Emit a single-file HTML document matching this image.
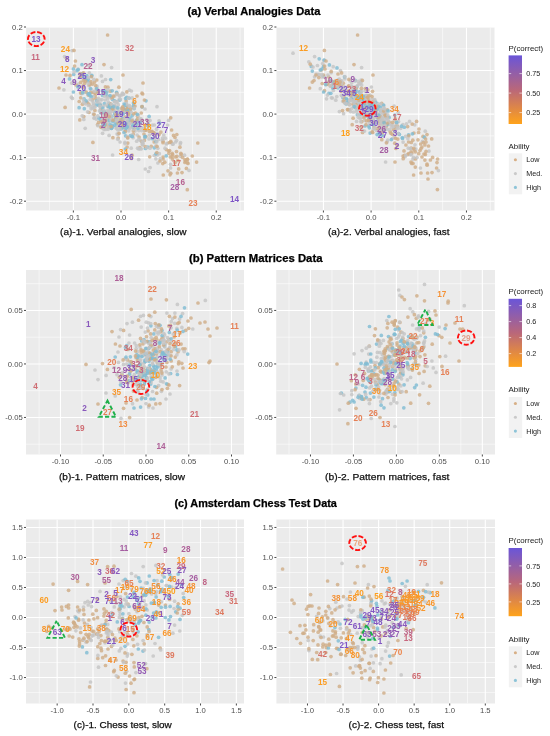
<!DOCTYPE html>
<html><head><meta charset="utf-8"><style>
html,body{margin:0;padding:0;background:#fff;width:550px;height:736px;overflow:hidden}
svg{display:block}
.tk{font-family:"Liberation Sans", Arial, sans-serif;font-size:7.7px;fill:#4D4D4D}
.lg{font-family:"Liberation Sans", Arial, sans-serif;font-size:7.2px;fill:#1a1a1a}
.lgt{font-family:"Liberation Sans", Arial, sans-serif;font-size:7.9px;fill:#1a1a1a}
.ttl{font-family:"Liberation Sans", Arial, sans-serif;font-size:10.4px;font-weight:bold;fill:#000;stroke:#000;stroke-width:0.25px}
.cap{font-family:"Liberation Sans", Arial, sans-serif;font-size:9.6px;fill:#111;stroke:#111;stroke-width:0.25px}
.nl{font-family:"Liberation Sans", Arial, sans-serif;font-size:8.2px;font-weight:bold;text-anchor:middle}
</style></head><body>
<svg width="550" height="736" viewBox="0 0 550 736">
<defs>
<clipPath id="clipa1"><rect x="26" y="27.5" width="218" height="183.0"/></clipPath>
<clipPath id="clipa2"><rect x="276.4" y="27.5" width="218.10000000000002" height="183.0"/></clipPath>
<clipPath id="clipb1"><rect x="26" y="270" width="218" height="184.5"/></clipPath>
<clipPath id="clipb2"><rect x="276.2" y="270" width="218.8" height="184.5"/></clipPath>
<clipPath id="clipc1"><rect x="26" y="519.5" width="218" height="184.0"/></clipPath>
<clipPath id="clipc2"><rect x="276.4" y="519.5" width="218.60000000000002" height="184.0"/></clipPath>
<linearGradient id="grad" x1="0" y1="1" x2="0" y2="0"><stop offset="0" stop-color="#FFA31A"/><stop offset="0.5" stop-color="#B9677A"/><stop offset="1" stop-color="#6A55D8"/></linearGradient>
</defs>
<rect width="550" height="736" fill="#fff"/>
<rect x="26" y="27.5" width="218" height="183.0" fill="#EBEBEB"/>
<g clip-path="url(#clipa1)">
<line x1="1.92" y1="27.5" x2="1.92" y2="210.5" stroke="#fff" stroke-width="0.55"/>
<line x1="25.74" y1="27.5" x2="25.74" y2="210.5" stroke="#fff" stroke-width="0.55"/>
<line x1="49.55" y1="27.5" x2="49.55" y2="210.5" stroke="#fff" stroke-width="0.55"/>
<line x1="97.19" y1="27.5" x2="97.19" y2="210.5" stroke="#fff" stroke-width="0.55"/>
<line x1="144.81" y1="27.5" x2="144.81" y2="210.5" stroke="#fff" stroke-width="0.55"/>
<line x1="192.44" y1="27.5" x2="192.44" y2="210.5" stroke="#fff" stroke-width="0.55"/>
<line x1="240.07" y1="27.5" x2="240.07" y2="210.5" stroke="#fff" stroke-width="0.55"/>
<line x1="26" y1="244.75" x2="244" y2="244.75" stroke="#fff" stroke-width="0.55"/>
<line x1="26" y1="222.97" x2="244" y2="222.97" stroke="#fff" stroke-width="0.55"/>
<line x1="26" y1="179.43" x2="244" y2="179.43" stroke="#fff" stroke-width="0.55"/>
<line x1="26" y1="135.88" x2="244" y2="135.88" stroke="#fff" stroke-width="0.55"/>
<line x1="26" y1="92.32" x2="244" y2="92.32" stroke="#fff" stroke-width="0.55"/>
<line x1="26" y1="48.77" x2="244" y2="48.77" stroke="#fff" stroke-width="0.55"/>
<line x1="73.37" y1="27.5" x2="73.37" y2="210.5" stroke="#fff" stroke-width="1.1"/>
<line x1="121.00" y1="27.5" x2="121.00" y2="210.5" stroke="#fff" stroke-width="1.1"/>
<line x1="168.63" y1="27.5" x2="168.63" y2="210.5" stroke="#fff" stroke-width="1.1"/>
<line x1="216.26" y1="27.5" x2="216.26" y2="210.5" stroke="#fff" stroke-width="1.1"/>
<line x1="26" y1="201.20" x2="244" y2="201.20" stroke="#fff" stroke-width="1.1"/>
<line x1="26" y1="157.65" x2="244" y2="157.65" stroke="#fff" stroke-width="1.1"/>
<line x1="26" y1="114.10" x2="244" y2="114.10" stroke="#fff" stroke-width="1.1"/>
<line x1="26" y1="70.55" x2="244" y2="70.55" stroke="#fff" stroke-width="1.1"/>
<line x1="26" y1="27.00" x2="244" y2="27.00" stroke="#fff" stroke-width="1.1"/>
</g>
<line x1="73.37" y1="210.5" x2="73.37" y2="212.5" stroke="#333" stroke-width="0.9"/>
<text x="73.37" y="219.8" text-anchor="middle" class="tk">-0.1</text>
<line x1="121.00" y1="210.5" x2="121.00" y2="212.5" stroke="#333" stroke-width="0.9"/>
<text x="121.00" y="219.8" text-anchor="middle" class="tk">0.0</text>
<line x1="168.63" y1="210.5" x2="168.63" y2="212.5" stroke="#333" stroke-width="0.9"/>
<text x="168.63" y="219.8" text-anchor="middle" class="tk">0.1</text>
<line x1="216.26" y1="210.5" x2="216.26" y2="212.5" stroke="#333" stroke-width="0.9"/>
<text x="216.26" y="219.8" text-anchor="middle" class="tk">0.2</text>
<line x1="24" y1="201.20" x2="26" y2="201.20" stroke="#333" stroke-width="0.9"/>
<text x="22.7" y="203.95" text-anchor="end" class="tk">-0.2</text>
<line x1="24" y1="157.65" x2="26" y2="157.65" stroke="#333" stroke-width="0.9"/>
<text x="22.7" y="160.40" text-anchor="end" class="tk">-0.1</text>
<line x1="24" y1="114.10" x2="26" y2="114.10" stroke="#333" stroke-width="0.9"/>
<text x="22.7" y="116.85" text-anchor="end" class="tk">0.0</text>
<line x1="24" y1="70.55" x2="26" y2="70.55" stroke="#333" stroke-width="0.9"/>
<text x="22.7" y="73.30" text-anchor="end" class="tk">0.1</text>
<line x1="24" y1="27.00" x2="26" y2="27.00" stroke="#333" stroke-width="0.9"/>
<text x="22.7" y="29.75" text-anchor="end" class="tk">0.2</text>
<rect x="276.4" y="27.5" width="218.10000000000002" height="183.0" fill="#EBEBEB"/>
<g clip-path="url(#clipa2)">
<line x1="251.90" y1="27.5" x2="251.90" y2="210.5" stroke="#fff" stroke-width="0.55"/>
<line x1="275.74" y1="27.5" x2="275.74" y2="210.5" stroke="#fff" stroke-width="0.55"/>
<line x1="299.58" y1="27.5" x2="299.58" y2="210.5" stroke="#fff" stroke-width="0.55"/>
<line x1="347.26" y1="27.5" x2="347.26" y2="210.5" stroke="#fff" stroke-width="0.55"/>
<line x1="394.94" y1="27.5" x2="394.94" y2="210.5" stroke="#fff" stroke-width="0.55"/>
<line x1="442.62" y1="27.5" x2="442.62" y2="210.5" stroke="#fff" stroke-width="0.55"/>
<line x1="490.30" y1="27.5" x2="490.30" y2="210.5" stroke="#fff" stroke-width="0.55"/>
<line x1="276.4" y1="244.75" x2="494.5" y2="244.75" stroke="#fff" stroke-width="0.55"/>
<line x1="276.4" y1="222.97" x2="494.5" y2="222.97" stroke="#fff" stroke-width="0.55"/>
<line x1="276.4" y1="179.43" x2="494.5" y2="179.43" stroke="#fff" stroke-width="0.55"/>
<line x1="276.4" y1="135.88" x2="494.5" y2="135.88" stroke="#fff" stroke-width="0.55"/>
<line x1="276.4" y1="92.32" x2="494.5" y2="92.32" stroke="#fff" stroke-width="0.55"/>
<line x1="276.4" y1="48.77" x2="494.5" y2="48.77" stroke="#fff" stroke-width="0.55"/>
<line x1="323.42" y1="27.5" x2="323.42" y2="210.5" stroke="#fff" stroke-width="1.1"/>
<line x1="371.10" y1="27.5" x2="371.10" y2="210.5" stroke="#fff" stroke-width="1.1"/>
<line x1="418.78" y1="27.5" x2="418.78" y2="210.5" stroke="#fff" stroke-width="1.1"/>
<line x1="466.46" y1="27.5" x2="466.46" y2="210.5" stroke="#fff" stroke-width="1.1"/>
<line x1="276.4" y1="201.20" x2="494.5" y2="201.20" stroke="#fff" stroke-width="1.1"/>
<line x1="276.4" y1="157.65" x2="494.5" y2="157.65" stroke="#fff" stroke-width="1.1"/>
<line x1="276.4" y1="114.10" x2="494.5" y2="114.10" stroke="#fff" stroke-width="1.1"/>
<line x1="276.4" y1="70.55" x2="494.5" y2="70.55" stroke="#fff" stroke-width="1.1"/>
<line x1="276.4" y1="27.00" x2="494.5" y2="27.00" stroke="#fff" stroke-width="1.1"/>
</g>
<line x1="323.42" y1="210.5" x2="323.42" y2="212.5" stroke="#333" stroke-width="0.9"/>
<text x="323.42" y="219.8" text-anchor="middle" class="tk">-0.1</text>
<line x1="371.10" y1="210.5" x2="371.10" y2="212.5" stroke="#333" stroke-width="0.9"/>
<text x="371.10" y="219.8" text-anchor="middle" class="tk">0.0</text>
<line x1="418.78" y1="210.5" x2="418.78" y2="212.5" stroke="#333" stroke-width="0.9"/>
<text x="418.78" y="219.8" text-anchor="middle" class="tk">0.1</text>
<line x1="466.46" y1="210.5" x2="466.46" y2="212.5" stroke="#333" stroke-width="0.9"/>
<text x="466.46" y="219.8" text-anchor="middle" class="tk">0.2</text>
<line x1="274.4" y1="201.20" x2="276.4" y2="201.20" stroke="#333" stroke-width="0.9"/>
<text x="273.09999999999997" y="203.95" text-anchor="end" class="tk">-0.2</text>
<line x1="274.4" y1="157.65" x2="276.4" y2="157.65" stroke="#333" stroke-width="0.9"/>
<text x="273.09999999999997" y="160.40" text-anchor="end" class="tk">-0.1</text>
<line x1="274.4" y1="114.10" x2="276.4" y2="114.10" stroke="#333" stroke-width="0.9"/>
<text x="273.09999999999997" y="116.85" text-anchor="end" class="tk">0.0</text>
<line x1="274.4" y1="70.55" x2="276.4" y2="70.55" stroke="#333" stroke-width="0.9"/>
<text x="273.09999999999997" y="73.30" text-anchor="end" class="tk">0.1</text>
<line x1="274.4" y1="27.00" x2="276.4" y2="27.00" stroke="#333" stroke-width="0.9"/>
<text x="273.09999999999997" y="29.75" text-anchor="end" class="tk">0.2</text>
<rect x="26" y="270" width="218" height="184.5" fill="#EBEBEB"/>
<g clip-path="url(#clipb1)">
<line x1="-3.63" y1="270" x2="-3.63" y2="454.5" stroke="#fff" stroke-width="0.55"/>
<line x1="17.75" y1="270" x2="17.75" y2="454.5" stroke="#fff" stroke-width="0.55"/>
<line x1="39.12" y1="270" x2="39.12" y2="454.5" stroke="#fff" stroke-width="0.55"/>
<line x1="81.87" y1="270" x2="81.87" y2="454.5" stroke="#fff" stroke-width="0.55"/>
<line x1="124.62" y1="270" x2="124.62" y2="454.5" stroke="#fff" stroke-width="0.55"/>
<line x1="167.38" y1="270" x2="167.38" y2="454.5" stroke="#fff" stroke-width="0.55"/>
<line x1="210.12" y1="270" x2="210.12" y2="454.5" stroke="#fff" stroke-width="0.55"/>
<line x1="26" y1="497.70" x2="244" y2="497.70" stroke="#fff" stroke-width="0.55"/>
<line x1="26" y1="470.95" x2="244" y2="470.95" stroke="#fff" stroke-width="0.55"/>
<line x1="26" y1="444.20" x2="244" y2="444.20" stroke="#fff" stroke-width="0.55"/>
<line x1="26" y1="390.70" x2="244" y2="390.70" stroke="#fff" stroke-width="0.55"/>
<line x1="26" y1="337.20" x2="244" y2="337.20" stroke="#fff" stroke-width="0.55"/>
<line x1="26" y1="283.70" x2="244" y2="283.70" stroke="#fff" stroke-width="0.55"/>
<line x1="60.50" y1="270" x2="60.50" y2="454.5" stroke="#fff" stroke-width="1.1"/>
<line x1="103.25" y1="270" x2="103.25" y2="454.5" stroke="#fff" stroke-width="1.1"/>
<line x1="146.00" y1="270" x2="146.00" y2="454.5" stroke="#fff" stroke-width="1.1"/>
<line x1="188.75" y1="270" x2="188.75" y2="454.5" stroke="#fff" stroke-width="1.1"/>
<line x1="231.50" y1="270" x2="231.50" y2="454.5" stroke="#fff" stroke-width="1.1"/>
<line x1="26" y1="417.45" x2="244" y2="417.45" stroke="#fff" stroke-width="1.1"/>
<line x1="26" y1="363.95" x2="244" y2="363.95" stroke="#fff" stroke-width="1.1"/>
<line x1="26" y1="310.45" x2="244" y2="310.45" stroke="#fff" stroke-width="1.1"/>
</g>
<line x1="60.50" y1="454.5" x2="60.50" y2="456.5" stroke="#333" stroke-width="0.9"/>
<text x="60.50" y="463.8" text-anchor="middle" class="tk">-0.10</text>
<line x1="103.25" y1="454.5" x2="103.25" y2="456.5" stroke="#333" stroke-width="0.9"/>
<text x="103.25" y="463.8" text-anchor="middle" class="tk">-0.05</text>
<line x1="146.00" y1="454.5" x2="146.00" y2="456.5" stroke="#333" stroke-width="0.9"/>
<text x="146.00" y="463.8" text-anchor="middle" class="tk">0.00</text>
<line x1="188.75" y1="454.5" x2="188.75" y2="456.5" stroke="#333" stroke-width="0.9"/>
<text x="188.75" y="463.8" text-anchor="middle" class="tk">0.05</text>
<line x1="231.50" y1="454.5" x2="231.50" y2="456.5" stroke="#333" stroke-width="0.9"/>
<text x="231.50" y="463.8" text-anchor="middle" class="tk">0.10</text>
<line x1="24" y1="417.45" x2="26" y2="417.45" stroke="#333" stroke-width="0.9"/>
<text x="22.7" y="420.20" text-anchor="end" class="tk">-0.05</text>
<line x1="24" y1="363.95" x2="26" y2="363.95" stroke="#333" stroke-width="0.9"/>
<text x="22.7" y="366.70" text-anchor="end" class="tk">0.00</text>
<line x1="24" y1="310.45" x2="26" y2="310.45" stroke="#333" stroke-width="0.9"/>
<text x="22.7" y="313.20" text-anchor="end" class="tk">0.05</text>
<rect x="276.2" y="270" width="218.8" height="184.5" fill="#EBEBEB"/>
<g clip-path="url(#clipb2)">
<line x1="246.02" y1="270" x2="246.02" y2="454.5" stroke="#fff" stroke-width="0.55"/>
<line x1="267.50" y1="270" x2="267.50" y2="454.5" stroke="#fff" stroke-width="0.55"/>
<line x1="288.99" y1="270" x2="288.99" y2="454.5" stroke="#fff" stroke-width="0.55"/>
<line x1="331.95" y1="270" x2="331.95" y2="454.5" stroke="#fff" stroke-width="0.55"/>
<line x1="374.92" y1="270" x2="374.92" y2="454.5" stroke="#fff" stroke-width="0.55"/>
<line x1="417.88" y1="270" x2="417.88" y2="454.5" stroke="#fff" stroke-width="0.55"/>
<line x1="460.85" y1="270" x2="460.85" y2="454.5" stroke="#fff" stroke-width="0.55"/>
<line x1="276.2" y1="497.70" x2="495" y2="497.70" stroke="#fff" stroke-width="0.55"/>
<line x1="276.2" y1="470.95" x2="495" y2="470.95" stroke="#fff" stroke-width="0.55"/>
<line x1="276.2" y1="444.20" x2="495" y2="444.20" stroke="#fff" stroke-width="0.55"/>
<line x1="276.2" y1="390.70" x2="495" y2="390.70" stroke="#fff" stroke-width="0.55"/>
<line x1="276.2" y1="337.20" x2="495" y2="337.20" stroke="#fff" stroke-width="0.55"/>
<line x1="276.2" y1="283.70" x2="495" y2="283.70" stroke="#fff" stroke-width="0.55"/>
<line x1="310.47" y1="270" x2="310.47" y2="454.5" stroke="#fff" stroke-width="1.1"/>
<line x1="353.43" y1="270" x2="353.43" y2="454.5" stroke="#fff" stroke-width="1.1"/>
<line x1="396.40" y1="270" x2="396.40" y2="454.5" stroke="#fff" stroke-width="1.1"/>
<line x1="439.37" y1="270" x2="439.37" y2="454.5" stroke="#fff" stroke-width="1.1"/>
<line x1="482.33" y1="270" x2="482.33" y2="454.5" stroke="#fff" stroke-width="1.1"/>
<line x1="276.2" y1="417.45" x2="495" y2="417.45" stroke="#fff" stroke-width="1.1"/>
<line x1="276.2" y1="363.95" x2="495" y2="363.95" stroke="#fff" stroke-width="1.1"/>
<line x1="276.2" y1="310.45" x2="495" y2="310.45" stroke="#fff" stroke-width="1.1"/>
</g>
<line x1="310.47" y1="454.5" x2="310.47" y2="456.5" stroke="#333" stroke-width="0.9"/>
<text x="310.47" y="463.8" text-anchor="middle" class="tk">-0.10</text>
<line x1="353.43" y1="454.5" x2="353.43" y2="456.5" stroke="#333" stroke-width="0.9"/>
<text x="353.43" y="463.8" text-anchor="middle" class="tk">-0.05</text>
<line x1="396.40" y1="454.5" x2="396.40" y2="456.5" stroke="#333" stroke-width="0.9"/>
<text x="396.40" y="463.8" text-anchor="middle" class="tk">0.00</text>
<line x1="439.37" y1="454.5" x2="439.37" y2="456.5" stroke="#333" stroke-width="0.9"/>
<text x="439.37" y="463.8" text-anchor="middle" class="tk">0.05</text>
<line x1="482.33" y1="454.5" x2="482.33" y2="456.5" stroke="#333" stroke-width="0.9"/>
<text x="482.33" y="463.8" text-anchor="middle" class="tk">0.10</text>
<line x1="274.2" y1="417.45" x2="276.2" y2="417.45" stroke="#333" stroke-width="0.9"/>
<text x="272.9" y="420.20" text-anchor="end" class="tk">-0.05</text>
<line x1="274.2" y1="363.95" x2="276.2" y2="363.95" stroke="#333" stroke-width="0.9"/>
<text x="272.9" y="366.70" text-anchor="end" class="tk">0.00</text>
<line x1="274.2" y1="310.45" x2="276.2" y2="310.45" stroke="#333" stroke-width="0.9"/>
<text x="272.9" y="313.20" text-anchor="end" class="tk">0.05</text>
<rect x="26" y="519.5" width="218" height="184.0" fill="#EBEBEB"/>
<g clip-path="url(#clipc1)">
<line x1="3.40" y1="519.5" x2="3.40" y2="703.5" stroke="#fff" stroke-width="0.55"/>
<line x1="21.32" y1="519.5" x2="21.32" y2="703.5" stroke="#fff" stroke-width="0.55"/>
<line x1="39.24" y1="519.5" x2="39.24" y2="703.5" stroke="#fff" stroke-width="0.55"/>
<line x1="75.08" y1="519.5" x2="75.08" y2="703.5" stroke="#fff" stroke-width="0.55"/>
<line x1="110.92" y1="519.5" x2="110.92" y2="703.5" stroke="#fff" stroke-width="0.55"/>
<line x1="146.76" y1="519.5" x2="146.76" y2="703.5" stroke="#fff" stroke-width="0.55"/>
<line x1="182.60" y1="519.5" x2="182.60" y2="703.5" stroke="#fff" stroke-width="0.55"/>
<line x1="218.44" y1="519.5" x2="218.44" y2="703.5" stroke="#fff" stroke-width="0.55"/>
<line x1="26" y1="722.57" x2="244" y2="722.57" stroke="#fff" stroke-width="0.55"/>
<line x1="26" y1="707.56" x2="244" y2="707.56" stroke="#fff" stroke-width="0.55"/>
<line x1="26" y1="692.55" x2="244" y2="692.55" stroke="#fff" stroke-width="0.55"/>
<line x1="26" y1="662.53" x2="244" y2="662.53" stroke="#fff" stroke-width="0.55"/>
<line x1="26" y1="632.51" x2="244" y2="632.51" stroke="#fff" stroke-width="0.55"/>
<line x1="26" y1="602.49" x2="244" y2="602.49" stroke="#fff" stroke-width="0.55"/>
<line x1="26" y1="572.47" x2="244" y2="572.47" stroke="#fff" stroke-width="0.55"/>
<line x1="26" y1="542.45" x2="244" y2="542.45" stroke="#fff" stroke-width="0.55"/>
<line x1="57.16" y1="519.5" x2="57.16" y2="703.5" stroke="#fff" stroke-width="1.1"/>
<line x1="93.00" y1="519.5" x2="93.00" y2="703.5" stroke="#fff" stroke-width="1.1"/>
<line x1="128.84" y1="519.5" x2="128.84" y2="703.5" stroke="#fff" stroke-width="1.1"/>
<line x1="164.68" y1="519.5" x2="164.68" y2="703.5" stroke="#fff" stroke-width="1.1"/>
<line x1="200.52" y1="519.5" x2="200.52" y2="703.5" stroke="#fff" stroke-width="1.1"/>
<line x1="236.36" y1="519.5" x2="236.36" y2="703.5" stroke="#fff" stroke-width="1.1"/>
<line x1="26" y1="677.54" x2="244" y2="677.54" stroke="#fff" stroke-width="1.1"/>
<line x1="26" y1="647.52" x2="244" y2="647.52" stroke="#fff" stroke-width="1.1"/>
<line x1="26" y1="617.50" x2="244" y2="617.50" stroke="#fff" stroke-width="1.1"/>
<line x1="26" y1="587.48" x2="244" y2="587.48" stroke="#fff" stroke-width="1.1"/>
<line x1="26" y1="557.46" x2="244" y2="557.46" stroke="#fff" stroke-width="1.1"/>
<line x1="26" y1="527.44" x2="244" y2="527.44" stroke="#fff" stroke-width="1.1"/>
</g>
<line x1="57.16" y1="703.5" x2="57.16" y2="705.5" stroke="#333" stroke-width="0.9"/>
<text x="57.16" y="712.8" text-anchor="middle" class="tk">-1.0</text>
<line x1="93.00" y1="703.5" x2="93.00" y2="705.5" stroke="#333" stroke-width="0.9"/>
<text x="93.00" y="712.8" text-anchor="middle" class="tk">-0.5</text>
<line x1="128.84" y1="703.5" x2="128.84" y2="705.5" stroke="#333" stroke-width="0.9"/>
<text x="128.84" y="712.8" text-anchor="middle" class="tk">0.0</text>
<line x1="164.68" y1="703.5" x2="164.68" y2="705.5" stroke="#333" stroke-width="0.9"/>
<text x="164.68" y="712.8" text-anchor="middle" class="tk">0.5</text>
<line x1="200.52" y1="703.5" x2="200.52" y2="705.5" stroke="#333" stroke-width="0.9"/>
<text x="200.52" y="712.8" text-anchor="middle" class="tk">1.0</text>
<line x1="236.36" y1="703.5" x2="236.36" y2="705.5" stroke="#333" stroke-width="0.9"/>
<text x="236.36" y="712.8" text-anchor="middle" class="tk">1.5</text>
<line x1="24" y1="677.54" x2="26" y2="677.54" stroke="#333" stroke-width="0.9"/>
<text x="22.7" y="680.29" text-anchor="end" class="tk">-1.0</text>
<line x1="24" y1="647.52" x2="26" y2="647.52" stroke="#333" stroke-width="0.9"/>
<text x="22.7" y="650.27" text-anchor="end" class="tk">-0.5</text>
<line x1="24" y1="617.50" x2="26" y2="617.50" stroke="#333" stroke-width="0.9"/>
<text x="22.7" y="620.25" text-anchor="end" class="tk">0.0</text>
<line x1="24" y1="587.48" x2="26" y2="587.48" stroke="#333" stroke-width="0.9"/>
<text x="22.7" y="590.23" text-anchor="end" class="tk">0.5</text>
<line x1="24" y1="557.46" x2="26" y2="557.46" stroke="#333" stroke-width="0.9"/>
<text x="22.7" y="560.21" text-anchor="end" class="tk">1.0</text>
<line x1="24" y1="527.44" x2="26" y2="527.44" stroke="#333" stroke-width="0.9"/>
<text x="22.7" y="530.19" text-anchor="end" class="tk">1.5</text>
<rect x="276.4" y="519.5" width="218.60000000000002" height="184.0" fill="#EBEBEB"/>
<g clip-path="url(#clipc2)">
<line x1="254.12" y1="519.5" x2="254.12" y2="703.5" stroke="#fff" stroke-width="0.55"/>
<line x1="271.91" y1="519.5" x2="271.91" y2="703.5" stroke="#fff" stroke-width="0.55"/>
<line x1="289.69" y1="519.5" x2="289.69" y2="703.5" stroke="#fff" stroke-width="0.55"/>
<line x1="325.25" y1="519.5" x2="325.25" y2="703.5" stroke="#fff" stroke-width="0.55"/>
<line x1="360.82" y1="519.5" x2="360.82" y2="703.5" stroke="#fff" stroke-width="0.55"/>
<line x1="396.38" y1="519.5" x2="396.38" y2="703.5" stroke="#fff" stroke-width="0.55"/>
<line x1="431.95" y1="519.5" x2="431.95" y2="703.5" stroke="#fff" stroke-width="0.55"/>
<line x1="467.51" y1="519.5" x2="467.51" y2="703.5" stroke="#fff" stroke-width="0.55"/>
<line x1="276.4" y1="722.57" x2="495" y2="722.57" stroke="#fff" stroke-width="0.55"/>
<line x1="276.4" y1="707.56" x2="495" y2="707.56" stroke="#fff" stroke-width="0.55"/>
<line x1="276.4" y1="692.55" x2="495" y2="692.55" stroke="#fff" stroke-width="0.55"/>
<line x1="276.4" y1="662.53" x2="495" y2="662.53" stroke="#fff" stroke-width="0.55"/>
<line x1="276.4" y1="632.51" x2="495" y2="632.51" stroke="#fff" stroke-width="0.55"/>
<line x1="276.4" y1="602.49" x2="495" y2="602.49" stroke="#fff" stroke-width="0.55"/>
<line x1="276.4" y1="572.47" x2="495" y2="572.47" stroke="#fff" stroke-width="0.55"/>
<line x1="276.4" y1="542.45" x2="495" y2="542.45" stroke="#fff" stroke-width="0.55"/>
<line x1="307.47" y1="519.5" x2="307.47" y2="703.5" stroke="#fff" stroke-width="1.1"/>
<line x1="343.04" y1="519.5" x2="343.04" y2="703.5" stroke="#fff" stroke-width="1.1"/>
<line x1="378.60" y1="519.5" x2="378.60" y2="703.5" stroke="#fff" stroke-width="1.1"/>
<line x1="414.17" y1="519.5" x2="414.17" y2="703.5" stroke="#fff" stroke-width="1.1"/>
<line x1="449.73" y1="519.5" x2="449.73" y2="703.5" stroke="#fff" stroke-width="1.1"/>
<line x1="485.30" y1="519.5" x2="485.30" y2="703.5" stroke="#fff" stroke-width="1.1"/>
<line x1="276.4" y1="677.54" x2="495" y2="677.54" stroke="#fff" stroke-width="1.1"/>
<line x1="276.4" y1="647.52" x2="495" y2="647.52" stroke="#fff" stroke-width="1.1"/>
<line x1="276.4" y1="617.50" x2="495" y2="617.50" stroke="#fff" stroke-width="1.1"/>
<line x1="276.4" y1="587.48" x2="495" y2="587.48" stroke="#fff" stroke-width="1.1"/>
<line x1="276.4" y1="557.46" x2="495" y2="557.46" stroke="#fff" stroke-width="1.1"/>
<line x1="276.4" y1="527.44" x2="495" y2="527.44" stroke="#fff" stroke-width="1.1"/>
</g>
<line x1="307.47" y1="703.5" x2="307.47" y2="705.5" stroke="#333" stroke-width="0.9"/>
<text x="307.47" y="712.8" text-anchor="middle" class="tk">-1.0</text>
<line x1="343.04" y1="703.5" x2="343.04" y2="705.5" stroke="#333" stroke-width="0.9"/>
<text x="343.04" y="712.8" text-anchor="middle" class="tk">-0.5</text>
<line x1="378.60" y1="703.5" x2="378.60" y2="705.5" stroke="#333" stroke-width="0.9"/>
<text x="378.60" y="712.8" text-anchor="middle" class="tk">0.0</text>
<line x1="414.17" y1="703.5" x2="414.17" y2="705.5" stroke="#333" stroke-width="0.9"/>
<text x="414.17" y="712.8" text-anchor="middle" class="tk">0.5</text>
<line x1="449.73" y1="703.5" x2="449.73" y2="705.5" stroke="#333" stroke-width="0.9"/>
<text x="449.73" y="712.8" text-anchor="middle" class="tk">1.0</text>
<line x1="485.30" y1="703.5" x2="485.30" y2="705.5" stroke="#333" stroke-width="0.9"/>
<text x="485.30" y="712.8" text-anchor="middle" class="tk">1.5</text>
<line x1="274.4" y1="677.54" x2="276.4" y2="677.54" stroke="#333" stroke-width="0.9"/>
<text x="273.09999999999997" y="680.29" text-anchor="end" class="tk">-1.0</text>
<line x1="274.4" y1="647.52" x2="276.4" y2="647.52" stroke="#333" stroke-width="0.9"/>
<text x="273.09999999999997" y="650.27" text-anchor="end" class="tk">-0.5</text>
<line x1="274.4" y1="617.50" x2="276.4" y2="617.50" stroke="#333" stroke-width="0.9"/>
<text x="273.09999999999997" y="620.25" text-anchor="end" class="tk">0.0</text>
<line x1="274.4" y1="587.48" x2="276.4" y2="587.48" stroke="#333" stroke-width="0.9"/>
<text x="273.09999999999997" y="590.23" text-anchor="end" class="tk">0.5</text>
<line x1="274.4" y1="557.46" x2="276.4" y2="557.46" stroke="#333" stroke-width="0.9"/>
<text x="273.09999999999997" y="560.21" text-anchor="end" class="tk">1.0</text>
<line x1="274.4" y1="527.44" x2="276.4" y2="527.44" stroke="#333" stroke-width="0.9"/>
<text x="273.09999999999997" y="530.19" text-anchor="end" class="tk">1.5</text>
<text x="187.6" y="15.2" class="ttl" textLength="132.79999999999998" lengthAdjust="spacingAndGlyphs">(a) Verbal Analogies Data</text>
<text x="189" y="261.6" class="ttl" textLength="133.5" lengthAdjust="spacingAndGlyphs">(b) Pattern Matrices Data</text>
<text x="174.4" y="507.4" class="ttl" textLength="162.49999999999997" lengthAdjust="spacingAndGlyphs">(c) Amsterdam Chess Test Data</text>
<text x="60.1" y="235.1" class="cap" textLength="126.4" lengthAdjust="spacingAndGlyphs">(a)-1. Verbal analogies, slow</text>
<text x="327.9" y="235.1" class="cap" textLength="121.60000000000002" lengthAdjust="spacingAndGlyphs">(a)-2. Verbal analogies, fast</text>
<text x="59" y="480" class="cap" textLength="126" lengthAdjust="spacingAndGlyphs">(b)-1. Pattern matrices, slow</text>
<text x="325.1" y="480" class="cap" textLength="124.29999999999995" lengthAdjust="spacingAndGlyphs">(b)-2. Pattern matrices, fast</text>
<text x="73.6" y="727.8" class="cap" textLength="98.20000000000002" lengthAdjust="spacingAndGlyphs">(c)-1. Chess test, slow</text>
<text x="348.6" y="727.8" class="cap" textLength="95.5" lengthAdjust="spacingAndGlyphs">(c)-2. Chess test, fast</text>
<text x="508.5" y="50.5" class="lgt">P(correct)</text>
<rect x="508.6" y="55.4" width="13.4" height="68.6" fill="url(#grad)"/>
<line x1="508.6" y1="73.6" x2="511.2" y2="73.6" stroke="#fff" stroke-width="0.6"/>
<line x1="519.4" y1="73.6" x2="522" y2="73.6" stroke="#fff" stroke-width="0.6"/>
<text x="526.3" y="76.19999999999999" class="lg">0.75</text>
<line x1="508.6" y1="93.1" x2="511.2" y2="93.1" stroke="#fff" stroke-width="0.6"/>
<line x1="519.4" y1="93.1" x2="522" y2="93.1" stroke="#fff" stroke-width="0.6"/>
<text x="526.3" y="95.69999999999999" class="lg">0.50</text>
<line x1="508.6" y1="112.6" x2="511.2" y2="112.6" stroke="#fff" stroke-width="0.6"/>
<line x1="519.4" y1="112.6" x2="522" y2="112.6" stroke="#fff" stroke-width="0.6"/>
<text x="526.3" y="115.19999999999999" class="lg">0.25</text>
<text x="508.5" y="148.70000000000002" class="lgt">Ability</text>
<rect x="508.8" y="153.3" width="13.4" height="41" fill="#F2F2F2"/>
<circle cx="515.4" cy="159.8" r="1.55" fill="#D7AF86"/>
<text x="526.3" y="162.4" class="lg">Low</text>
<circle cx="515.4" cy="173.60000000000002" r="1.55" fill="#C9C9C9"/>
<text x="526.3" y="176.20000000000002" class="lg">Med.</text>
<circle cx="515.4" cy="187.4" r="1.55" fill="#8DC4D8"/>
<text x="526.3" y="190.0" class="lg">High</text>
<text x="508.5" y="293.9" class="lgt">P(correct)</text>
<rect x="508.6" y="298.8" width="13.4" height="68.09999999999997" fill="url(#grad)"/>
<line x1="508.6" y1="305.6" x2="511.2" y2="305.6" stroke="#fff" stroke-width="0.6"/>
<line x1="519.4" y1="305.6" x2="522" y2="305.6" stroke="#fff" stroke-width="0.6"/>
<text x="526.3" y="308.20000000000005" class="lg">0.8</text>
<line x1="508.6" y1="321.6" x2="511.2" y2="321.6" stroke="#fff" stroke-width="0.6"/>
<line x1="519.4" y1="321.6" x2="522" y2="321.6" stroke="#fff" stroke-width="0.6"/>
<text x="526.3" y="324.20000000000005" class="lg">0.6</text>
<line x1="508.6" y1="337.6" x2="511.2" y2="337.6" stroke="#fff" stroke-width="0.6"/>
<line x1="519.4" y1="337.6" x2="522" y2="337.6" stroke="#fff" stroke-width="0.6"/>
<text x="526.3" y="340.20000000000005" class="lg">0.4</text>
<line x1="508.6" y1="353.6" x2="511.2" y2="353.6" stroke="#fff" stroke-width="0.6"/>
<line x1="519.4" y1="353.6" x2="522" y2="353.6" stroke="#fff" stroke-width="0.6"/>
<text x="526.3" y="356.20000000000005" class="lg">0.2</text>
<text x="508.5" y="392.4" class="lgt">Ability</text>
<rect x="508.8" y="397.0" width="13.4" height="41" fill="#F2F2F2"/>
<circle cx="515.4" cy="403.5" r="1.55" fill="#D7AF86"/>
<text x="526.3" y="406.1" class="lg">Low</text>
<circle cx="515.4" cy="417.3" r="1.55" fill="#C9C9C9"/>
<text x="526.3" y="419.90000000000003" class="lg">Med.</text>
<circle cx="515.4" cy="431.1" r="1.55" fill="#8DC4D8"/>
<text x="526.3" y="433.70000000000005" class="lg">High</text>
<text x="508.5" y="542.9" class="lgt">P(correct)</text>
<rect x="508.6" y="548" width="13.4" height="68.20000000000005" fill="url(#grad)"/>
<line x1="508.6" y1="565.9" x2="511.2" y2="565.9" stroke="#fff" stroke-width="0.6"/>
<line x1="519.4" y1="565.9" x2="522" y2="565.9" stroke="#fff" stroke-width="0.6"/>
<text x="526.3" y="568.5" class="lg">0.75</text>
<line x1="508.6" y1="583.9" x2="511.2" y2="583.9" stroke="#fff" stroke-width="0.6"/>
<line x1="519.4" y1="583.9" x2="522" y2="583.9" stroke="#fff" stroke-width="0.6"/>
<text x="526.3" y="586.5" class="lg">0.50</text>
<line x1="508.6" y1="601.9" x2="511.2" y2="601.9" stroke="#fff" stroke-width="0.6"/>
<line x1="519.4" y1="601.9" x2="522" y2="601.9" stroke="#fff" stroke-width="0.6"/>
<text x="526.3" y="604.5" class="lg">0.25</text>
<text x="508.5" y="641.6999999999999" class="lgt">Ability</text>
<rect x="508.8" y="646.3" width="13.4" height="41" fill="#F2F2F2"/>
<circle cx="515.4" cy="652.8" r="1.55" fill="#D7AF86"/>
<text x="526.3" y="655.4" class="lg">Low</text>
<circle cx="515.4" cy="666.5999999999999" r="1.55" fill="#C9C9C9"/>
<text x="526.3" y="669.1999999999999" class="lg">Med.</text>
<circle cx="515.4" cy="680.4" r="1.55" fill="#8DC4D8"/>
<text x="526.3" y="683.0" class="lg">High</text>
<g clip-path="url(#clipa1)">
<circle cx="82.4" cy="104.2" r="1.85" fill="#CFAD88" fill-opacity="0.82"/>
<circle cx="91.1" cy="89.4" r="1.85" fill="#C4C4C4" fill-opacity="0.82"/>
<circle cx="157.9" cy="163.0" r="1.85" fill="#C4C4C4" fill-opacity="0.82"/>
<circle cx="163.8" cy="135.0" r="1.85" fill="#C4C4C4" fill-opacity="0.82"/>
<circle cx="139.8" cy="147.6" r="1.85" fill="#CFAD88" fill-opacity="0.82"/>
<circle cx="132.7" cy="107.2" r="1.85" fill="#C4C4C4" fill-opacity="0.82"/>
<circle cx="118.7" cy="118.9" r="1.85" fill="#C4C4C4" fill-opacity="0.82"/>
<circle cx="170.0" cy="174.8" r="1.85" fill="#CFAD88" fill-opacity="0.82"/>
<circle cx="108.0" cy="106.3" r="1.85" fill="#CFAD88" fill-opacity="0.82"/>
<circle cx="99.8" cy="104.9" r="1.85" fill="#CFAD88" fill-opacity="0.82"/>
<circle cx="116.8" cy="114.2" r="1.85" fill="#80BCD3" fill-opacity="0.82"/>
<circle cx="118.9" cy="122.3" r="1.85" fill="#80BCD3" fill-opacity="0.82"/>
<circle cx="94.3" cy="117.4" r="1.85" fill="#C4C4C4" fill-opacity="0.82"/>
<circle cx="95.3" cy="93.1" r="1.85" fill="#CFAD88" fill-opacity="0.82"/>
<circle cx="111.4" cy="110.3" r="1.85" fill="#C4C4C4" fill-opacity="0.82"/>
<circle cx="130.2" cy="118.1" r="1.85" fill="#80BCD3" fill-opacity="0.82"/>
<circle cx="88.8" cy="65.4" r="1.85" fill="#C4C4C4" fill-opacity="0.82"/>
<circle cx="112.6" cy="106.7" r="1.85" fill="#C4C4C4" fill-opacity="0.82"/>
<circle cx="96.0" cy="104.9" r="1.85" fill="#80BCD3" fill-opacity="0.82"/>
<circle cx="79.8" cy="119.9" r="1.85" fill="#CFAD88" fill-opacity="0.82"/>
<circle cx="116.2" cy="122.4" r="1.85" fill="#C4C4C4" fill-opacity="0.82"/>
<circle cx="118.3" cy="113.2" r="1.85" fill="#80BCD3" fill-opacity="0.82"/>
<circle cx="113.6" cy="109.7" r="1.85" fill="#CFAD88" fill-opacity="0.82"/>
<circle cx="105.5" cy="79.5" r="1.85" fill="#C4C4C4" fill-opacity="0.82"/>
<circle cx="108.1" cy="129.3" r="1.85" fill="#C4C4C4" fill-opacity="0.82"/>
<circle cx="159.1" cy="120.8" r="1.85" fill="#C4C4C4" fill-opacity="0.82"/>
<circle cx="98.3" cy="102.6" r="1.85" fill="#C4C4C4" fill-opacity="0.82"/>
<circle cx="130.4" cy="121.9" r="1.85" fill="#CFAD88" fill-opacity="0.82"/>
<circle cx="92.8" cy="92.3" r="1.85" fill="#C4C4C4" fill-opacity="0.82"/>
<circle cx="175.0" cy="137.5" r="1.85" fill="#CFAD88" fill-opacity="0.82"/>
<circle cx="141.5" cy="120.3" r="1.85" fill="#80BCD3" fill-opacity="0.82"/>
<circle cx="88.2" cy="95.1" r="1.85" fill="#CFAD88" fill-opacity="0.82"/>
<circle cx="154.2" cy="141.9" r="1.85" fill="#CFAD88" fill-opacity="0.82"/>
<circle cx="134.1" cy="128.3" r="1.85" fill="#CFAD88" fill-opacity="0.82"/>
<circle cx="97.2" cy="90.2" r="1.85" fill="#CFAD88" fill-opacity="0.82"/>
<circle cx="122.9" cy="125.9" r="1.85" fill="#CFAD88" fill-opacity="0.82"/>
<circle cx="90.5" cy="106.0" r="1.85" fill="#C4C4C4" fill-opacity="0.82"/>
<circle cx="105.4" cy="86.9" r="1.85" fill="#CFAD88" fill-opacity="0.82"/>
<circle cx="111.8" cy="96.3" r="1.85" fill="#C4C4C4" fill-opacity="0.82"/>
<circle cx="140.3" cy="140.4" r="1.85" fill="#C4C4C4" fill-opacity="0.82"/>
<circle cx="129.4" cy="90.2" r="1.85" fill="#C4C4C4" fill-opacity="0.82"/>
<circle cx="109.6" cy="112.6" r="1.85" fill="#C4C4C4" fill-opacity="0.82"/>
<circle cx="116.7" cy="93.0" r="1.85" fill="#CFAD88" fill-opacity="0.82"/>
<circle cx="162.6" cy="138.0" r="1.85" fill="#C4C4C4" fill-opacity="0.82"/>
<circle cx="104.6" cy="117.6" r="1.85" fill="#C4C4C4" fill-opacity="0.82"/>
<circle cx="158.5" cy="139.4" r="1.85" fill="#C4C4C4" fill-opacity="0.82"/>
<circle cx="148.5" cy="171.5" r="1.85" fill="#C4C4C4" fill-opacity="0.82"/>
<circle cx="122.6" cy="119.1" r="1.85" fill="#80BCD3" fill-opacity="0.82"/>
<circle cx="135.1" cy="131.0" r="1.85" fill="#C4C4C4" fill-opacity="0.82"/>
<circle cx="106.4" cy="112.9" r="1.85" fill="#C4C4C4" fill-opacity="0.82"/>
<circle cx="100.6" cy="100.0" r="1.85" fill="#C4C4C4" fill-opacity="0.82"/>
<circle cx="127.7" cy="137.7" r="1.85" fill="#C4C4C4" fill-opacity="0.82"/>
<circle cx="91.5" cy="76.0" r="1.85" fill="#80BCD3" fill-opacity="0.82"/>
<circle cx="97.5" cy="91.3" r="1.85" fill="#C4C4C4" fill-opacity="0.82"/>
<circle cx="126.9" cy="105.9" r="1.85" fill="#80BCD3" fill-opacity="0.82"/>
<circle cx="141.4" cy="119.0" r="1.85" fill="#C4C4C4" fill-opacity="0.82"/>
<circle cx="94.6" cy="82.1" r="1.85" fill="#CFAD88" fill-opacity="0.82"/>
<circle cx="157.8" cy="148.3" r="1.85" fill="#C4C4C4" fill-opacity="0.82"/>
<circle cx="111.8" cy="125.6" r="1.85" fill="#80BCD3" fill-opacity="0.82"/>
<circle cx="151.2" cy="146.3" r="1.85" fill="#CFAD88" fill-opacity="0.82"/>
<circle cx="83.8" cy="116.6" r="1.85" fill="#CFAD88" fill-opacity="0.82"/>
<circle cx="84.1" cy="98.8" r="1.85" fill="#80BCD3" fill-opacity="0.82"/>
<circle cx="111.2" cy="128.3" r="1.85" fill="#C4C4C4" fill-opacity="0.82"/>
<circle cx="112.6" cy="99.4" r="1.85" fill="#80BCD3" fill-opacity="0.82"/>
<circle cx="146.4" cy="125.2" r="1.85" fill="#C4C4C4" fill-opacity="0.82"/>
<circle cx="149.4" cy="131.4" r="1.85" fill="#CFAD88" fill-opacity="0.82"/>
<circle cx="83.2" cy="87.4" r="1.85" fill="#CFAD88" fill-opacity="0.82"/>
<circle cx="116.6" cy="112.8" r="1.85" fill="#C4C4C4" fill-opacity="0.82"/>
<circle cx="118.1" cy="134.1" r="1.85" fill="#C4C4C4" fill-opacity="0.82"/>
<circle cx="132.2" cy="119.4" r="1.85" fill="#C4C4C4" fill-opacity="0.82"/>
<circle cx="154.0" cy="132.6" r="1.85" fill="#CFAD88" fill-opacity="0.82"/>
<circle cx="163.1" cy="157.1" r="1.85" fill="#CFAD88" fill-opacity="0.82"/>
<circle cx="147.7" cy="147.1" r="1.85" fill="#80BCD3" fill-opacity="0.82"/>
<circle cx="142.1" cy="107.2" r="1.85" fill="#C4C4C4" fill-opacity="0.82"/>
<circle cx="156.0" cy="141.6" r="1.85" fill="#80BCD3" fill-opacity="0.82"/>
<circle cx="188.0" cy="163.4" r="1.85" fill="#CFAD88" fill-opacity="0.82"/>
<circle cx="79.2" cy="101.5" r="1.85" fill="#CFAD88" fill-opacity="0.82"/>
<circle cx="149.5" cy="135.1" r="1.85" fill="#C4C4C4" fill-opacity="0.82"/>
<circle cx="149.1" cy="116.4" r="1.85" fill="#80BCD3" fill-opacity="0.82"/>
<circle cx="180.3" cy="143.8" r="1.85" fill="#C4C4C4" fill-opacity="0.82"/>
<circle cx="91.8" cy="75.3" r="1.85" fill="#80BCD3" fill-opacity="0.82"/>
<circle cx="106.9" cy="118.5" r="1.85" fill="#CFAD88" fill-opacity="0.82"/>
<circle cx="103.6" cy="93.2" r="1.85" fill="#CFAD88" fill-opacity="0.82"/>
<circle cx="140.0" cy="148.7" r="1.85" fill="#C4C4C4" fill-opacity="0.82"/>
<circle cx="142.4" cy="144.9" r="1.85" fill="#C4C4C4" fill-opacity="0.82"/>
<circle cx="104.6" cy="127.3" r="1.85" fill="#CFAD88" fill-opacity="0.82"/>
<circle cx="128.6" cy="127.3" r="1.85" fill="#C4C4C4" fill-opacity="0.82"/>
<circle cx="81.2" cy="93.6" r="1.85" fill="#C4C4C4" fill-opacity="0.82"/>
<circle cx="110.2" cy="111.3" r="1.85" fill="#C4C4C4" fill-opacity="0.82"/>
<circle cx="117.9" cy="130.0" r="1.85" fill="#C4C4C4" fill-opacity="0.82"/>
<circle cx="139.0" cy="121.4" r="1.85" fill="#C4C4C4" fill-opacity="0.82"/>
<circle cx="96.5" cy="88.1" r="1.85" fill="#C4C4C4" fill-opacity="0.82"/>
<circle cx="104.4" cy="103.7" r="1.85" fill="#80BCD3" fill-opacity="0.82"/>
<circle cx="90.2" cy="83.1" r="1.85" fill="#C4C4C4" fill-opacity="0.82"/>
<circle cx="118.9" cy="99.9" r="1.85" fill="#C4C4C4" fill-opacity="0.82"/>
<circle cx="154.2" cy="139.2" r="1.85" fill="#C4C4C4" fill-opacity="0.82"/>
<circle cx="159.3" cy="153.7" r="1.85" fill="#C4C4C4" fill-opacity="0.82"/>
<circle cx="173.5" cy="135.4" r="1.85" fill="#CFAD88" fill-opacity="0.82"/>
<circle cx="121.3" cy="129.0" r="1.85" fill="#80BCD3" fill-opacity="0.82"/>
<circle cx="141.7" cy="141.7" r="1.85" fill="#CFAD88" fill-opacity="0.82"/>
<circle cx="166.3" cy="149.6" r="1.85" fill="#CFAD88" fill-opacity="0.82"/>
<circle cx="143.9" cy="127.8" r="1.85" fill="#C4C4C4" fill-opacity="0.82"/>
<circle cx="97.5" cy="124.7" r="1.85" fill="#CFAD88" fill-opacity="0.82"/>
<circle cx="138.8" cy="130.6" r="1.85" fill="#C4C4C4" fill-opacity="0.82"/>
<circle cx="98.1" cy="91.9" r="1.85" fill="#80BCD3" fill-opacity="0.82"/>
<circle cx="148.2" cy="124.0" r="1.85" fill="#80BCD3" fill-opacity="0.82"/>
<circle cx="142.0" cy="93.2" r="1.85" fill="#CFAD88" fill-opacity="0.82"/>
<circle cx="78.4" cy="84.0" r="1.85" fill="#C4C4C4" fill-opacity="0.82"/>
<circle cx="141.4" cy="148.8" r="1.85" fill="#C4C4C4" fill-opacity="0.82"/>
<circle cx="76.0" cy="85.0" r="1.85" fill="#CFAD88" fill-opacity="0.82"/>
<circle cx="106.2" cy="114.7" r="1.85" fill="#CFAD88" fill-opacity="0.82"/>
<circle cx="130.8" cy="112.3" r="1.85" fill="#C4C4C4" fill-opacity="0.82"/>
<circle cx="139.1" cy="127.0" r="1.85" fill="#C4C4C4" fill-opacity="0.82"/>
<circle cx="86.8" cy="75.6" r="1.85" fill="#80BCD3" fill-opacity="0.82"/>
<circle cx="175.1" cy="162.6" r="1.85" fill="#CFAD88" fill-opacity="0.82"/>
<circle cx="124.8" cy="110.6" r="1.85" fill="#CFAD88" fill-opacity="0.82"/>
<circle cx="90.6" cy="92.7" r="1.85" fill="#CFAD88" fill-opacity="0.82"/>
<circle cx="108.5" cy="113.1" r="1.85" fill="#80BCD3" fill-opacity="0.82"/>
<circle cx="72.1" cy="50.6" r="1.85" fill="#C4C4C4" fill-opacity="0.82"/>
<circle cx="145.9" cy="136.5" r="1.85" fill="#CFAD88" fill-opacity="0.82"/>
<circle cx="168.9" cy="153.5" r="1.85" fill="#CFAD88" fill-opacity="0.82"/>
<circle cx="111.7" cy="119.6" r="1.85" fill="#C4C4C4" fill-opacity="0.82"/>
<circle cx="141.3" cy="113.0" r="1.85" fill="#CFAD88" fill-opacity="0.82"/>
<circle cx="176.6" cy="140.6" r="1.85" fill="#C4C4C4" fill-opacity="0.82"/>
<circle cx="107.1" cy="96.4" r="1.85" fill="#C4C4C4" fill-opacity="0.82"/>
<circle cx="126.1" cy="101.0" r="1.85" fill="#CFAD88" fill-opacity="0.82"/>
<circle cx="180.9" cy="153.3" r="1.85" fill="#CFAD88" fill-opacity="0.82"/>
<circle cx="96.8" cy="80.0" r="1.85" fill="#CFAD88" fill-opacity="0.82"/>
<circle cx="112.3" cy="107.4" r="1.85" fill="#80BCD3" fill-opacity="0.82"/>
<circle cx="82.2" cy="115.8" r="1.85" fill="#C4C4C4" fill-opacity="0.82"/>
<circle cx="80.7" cy="97.8" r="1.85" fill="#CFAD88" fill-opacity="0.82"/>
<circle cx="92.6" cy="99.8" r="1.85" fill="#CFAD88" fill-opacity="0.82"/>
<circle cx="126.2" cy="123.9" r="1.85" fill="#C4C4C4" fill-opacity="0.82"/>
<circle cx="108.2" cy="106.4" r="1.85" fill="#80BCD3" fill-opacity="0.82"/>
<circle cx="102.5" cy="81.4" r="1.85" fill="#C4C4C4" fill-opacity="0.82"/>
<circle cx="141.7" cy="130.6" r="1.85" fill="#C4C4C4" fill-opacity="0.82"/>
<circle cx="125.6" cy="135.8" r="1.85" fill="#80BCD3" fill-opacity="0.82"/>
<circle cx="133.1" cy="122.3" r="1.85" fill="#CFAD88" fill-opacity="0.82"/>
<circle cx="114.7" cy="120.2" r="1.85" fill="#CFAD88" fill-opacity="0.82"/>
<circle cx="136.5" cy="120.4" r="1.85" fill="#80BCD3" fill-opacity="0.82"/>
<circle cx="93.3" cy="114.1" r="1.85" fill="#C4C4C4" fill-opacity="0.82"/>
<circle cx="141.4" cy="127.7" r="1.85" fill="#C4C4C4" fill-opacity="0.82"/>
<circle cx="128.6" cy="123.4" r="1.85" fill="#80BCD3" fill-opacity="0.82"/>
<circle cx="116.2" cy="127.1" r="1.85" fill="#C4C4C4" fill-opacity="0.82"/>
<circle cx="128.0" cy="117.2" r="1.85" fill="#C4C4C4" fill-opacity="0.82"/>
<circle cx="137.7" cy="124.9" r="1.85" fill="#C4C4C4" fill-opacity="0.82"/>
<circle cx="128.8" cy="118.9" r="1.85" fill="#C4C4C4" fill-opacity="0.82"/>
<circle cx="109.0" cy="126.9" r="1.85" fill="#CFAD88" fill-opacity="0.82"/>
<circle cx="104.0" cy="118.8" r="1.85" fill="#C4C4C4" fill-opacity="0.82"/>
<circle cx="130.4" cy="135.6" r="1.85" fill="#80BCD3" fill-opacity="0.82"/>
<circle cx="177.8" cy="160.4" r="1.85" fill="#CFAD88" fill-opacity="0.82"/>
<circle cx="63.9" cy="89.8" r="1.85" fill="#C4C4C4" fill-opacity="0.82"/>
<circle cx="106.4" cy="116.0" r="1.85" fill="#C4C4C4" fill-opacity="0.82"/>
<circle cx="69.5" cy="78.9" r="1.85" fill="#80BCD3" fill-opacity="0.82"/>
<circle cx="97.7" cy="99.4" r="1.85" fill="#C4C4C4" fill-opacity="0.82"/>
<circle cx="107.5" cy="98.7" r="1.85" fill="#C4C4C4" fill-opacity="0.82"/>
<circle cx="119.0" cy="111.9" r="1.85" fill="#C4C4C4" fill-opacity="0.82"/>
<circle cx="169.6" cy="150.5" r="1.85" fill="#CFAD88" fill-opacity="0.82"/>
<circle cx="128.7" cy="130.8" r="1.85" fill="#C4C4C4" fill-opacity="0.82"/>
<circle cx="115.5" cy="121.4" r="1.85" fill="#C4C4C4" fill-opacity="0.82"/>
<circle cx="123.6" cy="108.6" r="1.85" fill="#80BCD3" fill-opacity="0.82"/>
<circle cx="79.8" cy="77.1" r="1.85" fill="#C4C4C4" fill-opacity="0.82"/>
<circle cx="95.3" cy="98.1" r="1.85" fill="#CFAD88" fill-opacity="0.82"/>
<circle cx="109.3" cy="103.6" r="1.85" fill="#80BCD3" fill-opacity="0.82"/>
<circle cx="117.1" cy="134.0" r="1.85" fill="#C4C4C4" fill-opacity="0.82"/>
<circle cx="100.3" cy="119.5" r="1.85" fill="#80BCD3" fill-opacity="0.82"/>
<circle cx="144.8" cy="138.1" r="1.85" fill="#C4C4C4" fill-opacity="0.82"/>
<circle cx="145.4" cy="148.5" r="1.85" fill="#80BCD3" fill-opacity="0.82"/>
<circle cx="145.3" cy="169.0" r="1.85" fill="#C4C4C4" fill-opacity="0.82"/>
<circle cx="90.4" cy="88.6" r="1.85" fill="#80BCD3" fill-opacity="0.82"/>
<circle cx="125.5" cy="124.4" r="1.85" fill="#80BCD3" fill-opacity="0.82"/>
<circle cx="184.9" cy="162.5" r="1.85" fill="#CFAD88" fill-opacity="0.82"/>
<circle cx="101.1" cy="108.7" r="1.85" fill="#C4C4C4" fill-opacity="0.82"/>
<circle cx="175.6" cy="142.0" r="1.85" fill="#C4C4C4" fill-opacity="0.82"/>
<circle cx="98.3" cy="91.8" r="1.85" fill="#C4C4C4" fill-opacity="0.82"/>
<circle cx="100.5" cy="110.9" r="1.85" fill="#80BCD3" fill-opacity="0.82"/>
<circle cx="84.3" cy="108.7" r="1.85" fill="#80BCD3" fill-opacity="0.82"/>
<circle cx="129.2" cy="98.1" r="1.85" fill="#80BCD3" fill-opacity="0.82"/>
<circle cx="82.8" cy="73.8" r="1.85" fill="#CFAD88" fill-opacity="0.82"/>
<circle cx="137.1" cy="135.0" r="1.85" fill="#C4C4C4" fill-opacity="0.82"/>
<circle cx="95.2" cy="95.6" r="1.85" fill="#CFAD88" fill-opacity="0.82"/>
<circle cx="142.7" cy="94.0" r="1.85" fill="#CFAD88" fill-opacity="0.82"/>
<circle cx="65.1" cy="107.4" r="1.85" fill="#CFAD88" fill-opacity="0.82"/>
<circle cx="154.4" cy="125.0" r="1.85" fill="#C4C4C4" fill-opacity="0.82"/>
<circle cx="114.4" cy="111.5" r="1.85" fill="#C4C4C4" fill-opacity="0.82"/>
<circle cx="121.3" cy="112.5" r="1.85" fill="#80BCD3" fill-opacity="0.82"/>
<circle cx="170.5" cy="164.3" r="1.85" fill="#C4C4C4" fill-opacity="0.82"/>
<circle cx="118.1" cy="115.6" r="1.85" fill="#CFAD88" fill-opacity="0.82"/>
<circle cx="110.7" cy="109.0" r="1.85" fill="#80BCD3" fill-opacity="0.82"/>
<circle cx="104.3" cy="113.0" r="1.85" fill="#CFAD88" fill-opacity="0.82"/>
<circle cx="98.2" cy="90.3" r="1.85" fill="#C4C4C4" fill-opacity="0.82"/>
<circle cx="110.7" cy="79.6" r="1.85" fill="#80BCD3" fill-opacity="0.82"/>
<circle cx="110.3" cy="91.2" r="1.85" fill="#CFAD88" fill-opacity="0.82"/>
<circle cx="167.2" cy="143.4" r="1.85" fill="#C4C4C4" fill-opacity="0.82"/>
<circle cx="133.5" cy="103.0" r="1.85" fill="#80BCD3" fill-opacity="0.82"/>
<circle cx="89.4" cy="72.8" r="1.85" fill="#C4C4C4" fill-opacity="0.82"/>
<circle cx="101.0" cy="109.2" r="1.85" fill="#CFAD88" fill-opacity="0.82"/>
<circle cx="123.1" cy="118.4" r="1.85" fill="#C4C4C4" fill-opacity="0.82"/>
<circle cx="98.4" cy="105.2" r="1.85" fill="#80BCD3" fill-opacity="0.82"/>
<circle cx="112.6" cy="105.3" r="1.85" fill="#80BCD3" fill-opacity="0.82"/>
<circle cx="134.9" cy="124.9" r="1.85" fill="#CFAD88" fill-opacity="0.82"/>
<circle cx="73.4" cy="68.9" r="1.85" fill="#80BCD3" fill-opacity="0.82"/>
<circle cx="127.7" cy="125.6" r="1.85" fill="#C4C4C4" fill-opacity="0.82"/>
<circle cx="126.8" cy="97.3" r="1.85" fill="#80BCD3" fill-opacity="0.82"/>
<circle cx="156.6" cy="129.2" r="1.85" fill="#C4C4C4" fill-opacity="0.82"/>
<circle cx="132.1" cy="115.7" r="1.85" fill="#80BCD3" fill-opacity="0.82"/>
<circle cx="106.5" cy="91.9" r="1.85" fill="#C4C4C4" fill-opacity="0.82"/>
<circle cx="149.7" cy="156.8" r="1.85" fill="#CFAD88" fill-opacity="0.82"/>
<circle cx="104.7" cy="114.4" r="1.85" fill="#C4C4C4" fill-opacity="0.82"/>
<circle cx="91.1" cy="108.8" r="1.85" fill="#C4C4C4" fill-opacity="0.82"/>
<circle cx="125.2" cy="125.1" r="1.85" fill="#C4C4C4" fill-opacity="0.82"/>
<circle cx="128.9" cy="119.1" r="1.85" fill="#80BCD3" fill-opacity="0.82"/>
<circle cx="102.0" cy="99.6" r="1.85" fill="#C4C4C4" fill-opacity="0.82"/>
<circle cx="159.0" cy="134.6" r="1.85" fill="#CFAD88" fill-opacity="0.82"/>
<circle cx="171.6" cy="130.0" r="1.85" fill="#CFAD88" fill-opacity="0.82"/>
<circle cx="105.8" cy="129.5" r="1.85" fill="#C4C4C4" fill-opacity="0.82"/>
<circle cx="83.0" cy="76.4" r="1.85" fill="#80BCD3" fill-opacity="0.82"/>
<circle cx="125.3" cy="131.7" r="1.85" fill="#CFAD88" fill-opacity="0.82"/>
<circle cx="144.0" cy="134.0" r="1.85" fill="#CFAD88" fill-opacity="0.82"/>
<circle cx="72.4" cy="98.4" r="1.85" fill="#C4C4C4" fill-opacity="0.82"/>
<circle cx="168.0" cy="170.8" r="1.85" fill="#CFAD88" fill-opacity="0.82"/>
<circle cx="112.6" cy="155.0" r="1.85" fill="#C4C4C4" fill-opacity="0.82"/>
<circle cx="86.2" cy="78.9" r="1.85" fill="#80BCD3" fill-opacity="0.82"/>
<circle cx="121.2" cy="108.5" r="1.85" fill="#C4C4C4" fill-opacity="0.82"/>
<circle cx="154.5" cy="133.5" r="1.85" fill="#CFAD88" fill-opacity="0.82"/>
<circle cx="137.6" cy="148.2" r="1.85" fill="#C4C4C4" fill-opacity="0.82"/>
<circle cx="116.5" cy="101.7" r="1.85" fill="#C4C4C4" fill-opacity="0.82"/>
<circle cx="154.3" cy="147.8" r="1.85" fill="#80BCD3" fill-opacity="0.82"/>
<circle cx="82.3" cy="73.7" r="1.85" fill="#80BCD3" fill-opacity="0.82"/>
<circle cx="122.1" cy="110.0" r="1.85" fill="#C4C4C4" fill-opacity="0.82"/>
<circle cx="100.9" cy="112.9" r="1.85" fill="#80BCD3" fill-opacity="0.82"/>
<circle cx="127.8" cy="143.1" r="1.85" fill="#CFAD88" fill-opacity="0.82"/>
<circle cx="121.6" cy="95.0" r="1.85" fill="#C4C4C4" fill-opacity="0.82"/>
<circle cx="150.1" cy="167.6" r="1.85" fill="#C4C4C4" fill-opacity="0.82"/>
<circle cx="104.6" cy="122.2" r="1.85" fill="#80BCD3" fill-opacity="0.82"/>
<circle cx="100.4" cy="107.0" r="1.85" fill="#C4C4C4" fill-opacity="0.82"/>
<circle cx="136.4" cy="126.3" r="1.85" fill="#C4C4C4" fill-opacity="0.82"/>
<circle cx="187.5" cy="159.2" r="1.85" fill="#CFAD88" fill-opacity="0.82"/>
<circle cx="104.2" cy="117.1" r="1.85" fill="#C4C4C4" fill-opacity="0.82"/>
<circle cx="100.3" cy="103.9" r="1.85" fill="#C4C4C4" fill-opacity="0.82"/>
<circle cx="124.0" cy="132.4" r="1.85" fill="#80BCD3" fill-opacity="0.82"/>
<circle cx="122.4" cy="119.5" r="1.85" fill="#80BCD3" fill-opacity="0.82"/>
<circle cx="155.3" cy="136.6" r="1.85" fill="#C4C4C4" fill-opacity="0.82"/>
<circle cx="110.0" cy="124.2" r="1.85" fill="#80BCD3" fill-opacity="0.82"/>
<circle cx="177.0" cy="156.3" r="1.85" fill="#CFAD88" fill-opacity="0.82"/>
<circle cx="119.1" cy="133.3" r="1.85" fill="#CFAD88" fill-opacity="0.82"/>
<circle cx="122.5" cy="118.4" r="1.85" fill="#80BCD3" fill-opacity="0.82"/>
<circle cx="93.5" cy="96.5" r="1.85" fill="#C4C4C4" fill-opacity="0.82"/>
<circle cx="107.7" cy="122.6" r="1.85" fill="#C4C4C4" fill-opacity="0.82"/>
<circle cx="152.1" cy="131.4" r="1.85" fill="#CFAD88" fill-opacity="0.82"/>
<circle cx="126.3" cy="103.4" r="1.85" fill="#C4C4C4" fill-opacity="0.82"/>
<circle cx="135.3" cy="121.6" r="1.85" fill="#CFAD88" fill-opacity="0.82"/>
<circle cx="84.7" cy="83.2" r="1.85" fill="#CFAD88" fill-opacity="0.82"/>
<circle cx="172.4" cy="159.1" r="1.85" fill="#CFAD88" fill-opacity="0.82"/>
<circle cx="129.7" cy="128.6" r="1.85" fill="#C4C4C4" fill-opacity="0.82"/>
<circle cx="94.1" cy="118.3" r="1.85" fill="#C4C4C4" fill-opacity="0.82"/>
<circle cx="150.0" cy="148.2" r="1.85" fill="#C4C4C4" fill-opacity="0.82"/>
<circle cx="120.0" cy="100.1" r="1.85" fill="#80BCD3" fill-opacity="0.82"/>
<circle cx="163.0" cy="141.2" r="1.85" fill="#CFAD88" fill-opacity="0.82"/>
<circle cx="127.9" cy="120.5" r="1.85" fill="#80BCD3" fill-opacity="0.82"/>
<circle cx="77.9" cy="87.1" r="1.85" fill="#C4C4C4" fill-opacity="0.82"/>
<circle cx="146.0" cy="100.8" r="1.85" fill="#80BCD3" fill-opacity="0.82"/>
<circle cx="128.5" cy="121.2" r="1.85" fill="#80BCD3" fill-opacity="0.82"/>
<circle cx="117.1" cy="120.5" r="1.85" fill="#C4C4C4" fill-opacity="0.82"/>
<circle cx="118.2" cy="104.7" r="1.85" fill="#C4C4C4" fill-opacity="0.82"/>
<circle cx="133.3" cy="134.0" r="1.85" fill="#CFAD88" fill-opacity="0.82"/>
<circle cx="119.7" cy="96.2" r="1.85" fill="#C4C4C4" fill-opacity="0.82"/>
<circle cx="128.8" cy="126.9" r="1.85" fill="#C4C4C4" fill-opacity="0.82"/>
<circle cx="83.5" cy="72.8" r="1.85" fill="#CFAD88" fill-opacity="0.82"/>
<circle cx="110.5" cy="103.8" r="1.85" fill="#CFAD88" fill-opacity="0.82"/>
<circle cx="125.7" cy="98.4" r="1.85" fill="#80BCD3" fill-opacity="0.82"/>
<circle cx="107.9" cy="87.2" r="1.85" fill="#CFAD88" fill-opacity="0.82"/>
<circle cx="84.9" cy="79.1" r="1.85" fill="#80BCD3" fill-opacity="0.82"/>
<circle cx="172.8" cy="144.2" r="1.85" fill="#C4C4C4" fill-opacity="0.82"/>
<circle cx="125.3" cy="117.1" r="1.85" fill="#CFAD88" fill-opacity="0.82"/>
<circle cx="96.6" cy="100.9" r="1.85" fill="#80BCD3" fill-opacity="0.82"/>
<circle cx="88.8" cy="85.6" r="1.85" fill="#C4C4C4" fill-opacity="0.82"/>
<circle cx="192.3" cy="156.0" r="1.85" fill="#CFAD88" fill-opacity="0.82"/>
<circle cx="124.8" cy="105.3" r="1.85" fill="#80BCD3" fill-opacity="0.82"/>
<circle cx="91.1" cy="96.6" r="1.85" fill="#80BCD3" fill-opacity="0.82"/>
<circle cx="175.6" cy="156.9" r="1.85" fill="#CFAD88" fill-opacity="0.82"/>
<circle cx="109.1" cy="135.4" r="1.85" fill="#C4C4C4" fill-opacity="0.82"/>
<circle cx="115.3" cy="116.7" r="1.85" fill="#80BCD3" fill-opacity="0.82"/>
<circle cx="90.3" cy="83.7" r="1.85" fill="#C4C4C4" fill-opacity="0.82"/>
<circle cx="102.5" cy="112.0" r="1.85" fill="#C4C4C4" fill-opacity="0.82"/>
<circle cx="133.3" cy="130.8" r="1.85" fill="#CFAD88" fill-opacity="0.82"/>
<circle cx="128.2" cy="107.4" r="1.85" fill="#CFAD88" fill-opacity="0.82"/>
<circle cx="87.7" cy="81.2" r="1.85" fill="#80BCD3" fill-opacity="0.82"/>
<circle cx="111.6" cy="116.2" r="1.85" fill="#80BCD3" fill-opacity="0.82"/>
<circle cx="165.0" cy="148.2" r="1.85" fill="#C4C4C4" fill-opacity="0.82"/>
<circle cx="152.1" cy="138.6" r="1.85" fill="#80BCD3" fill-opacity="0.82"/>
<circle cx="110.9" cy="116.2" r="1.85" fill="#C4C4C4" fill-opacity="0.82"/>
<circle cx="100.3" cy="105.3" r="1.85" fill="#80BCD3" fill-opacity="0.82"/>
<circle cx="150.0" cy="120.4" r="1.85" fill="#C4C4C4" fill-opacity="0.82"/>
<circle cx="148.1" cy="121.4" r="1.85" fill="#C4C4C4" fill-opacity="0.82"/>
<circle cx="122.3" cy="93.2" r="1.85" fill="#C4C4C4" fill-opacity="0.82"/>
<circle cx="79.1" cy="107.7" r="1.85" fill="#80BCD3" fill-opacity="0.82"/>
<circle cx="81.9" cy="93.5" r="1.85" fill="#C4C4C4" fill-opacity="0.82"/>
<circle cx="117.0" cy="107.7" r="1.85" fill="#C4C4C4" fill-opacity="0.82"/>
<circle cx="128.7" cy="114.6" r="1.85" fill="#CFAD88" fill-opacity="0.82"/>
<circle cx="133.1" cy="137.7" r="1.85" fill="#C4C4C4" fill-opacity="0.82"/>
<circle cx="144.3" cy="140.4" r="1.85" fill="#CFAD88" fill-opacity="0.82"/>
<circle cx="106.0" cy="124.9" r="1.85" fill="#CFAD88" fill-opacity="0.82"/>
<circle cx="164.8" cy="162.2" r="1.85" fill="#CFAD88" fill-opacity="0.82"/>
<circle cx="98.0" cy="92.1" r="1.85" fill="#CFAD88" fill-opacity="0.82"/>
<circle cx="116.3" cy="128.5" r="1.85" fill="#C4C4C4" fill-opacity="0.82"/>
<circle cx="126.5" cy="104.1" r="1.85" fill="#C4C4C4" fill-opacity="0.82"/>
<circle cx="129.0" cy="126.1" r="1.85" fill="#C4C4C4" fill-opacity="0.82"/>
<circle cx="123.8" cy="109.2" r="1.85" fill="#CFAD88" fill-opacity="0.82"/>
<circle cx="133.7" cy="113.8" r="1.85" fill="#CFAD88" fill-opacity="0.82"/>
<circle cx="83.1" cy="85.8" r="1.85" fill="#CFAD88" fill-opacity="0.82"/>
<circle cx="168.6" cy="120.4" r="1.85" fill="#C4C4C4" fill-opacity="0.82"/>
<circle cx="90.9" cy="81.6" r="1.85" fill="#CFAD88" fill-opacity="0.82"/>
<circle cx="82.0" cy="64.7" r="1.85" fill="#80BCD3" fill-opacity="0.82"/>
<circle cx="111.7" cy="104.3" r="1.85" fill="#C4C4C4" fill-opacity="0.82"/>
<circle cx="87.3" cy="102.0" r="1.85" fill="#C4C4C4" fill-opacity="0.82"/>
<circle cx="120.2" cy="124.8" r="1.85" fill="#C4C4C4" fill-opacity="0.82"/>
<circle cx="133.5" cy="105.7" r="1.85" fill="#80BCD3" fill-opacity="0.82"/>
<circle cx="92.4" cy="84.1" r="1.85" fill="#CFAD88" fill-opacity="0.82"/>
<circle cx="103.7" cy="112.9" r="1.85" fill="#C4C4C4" fill-opacity="0.82"/>
<circle cx="155.9" cy="145.8" r="1.85" fill="#C4C4C4" fill-opacity="0.82"/>
<circle cx="114.7" cy="105.8" r="1.85" fill="#C4C4C4" fill-opacity="0.82"/>
<circle cx="111.2" cy="98.2" r="1.85" fill="#C4C4C4" fill-opacity="0.82"/>
<circle cx="137.6" cy="116.2" r="1.85" fill="#CFAD88" fill-opacity="0.82"/>
<circle cx="125.3" cy="112.1" r="1.85" fill="#C4C4C4" fill-opacity="0.82"/>
<circle cx="84.4" cy="91.3" r="1.85" fill="#80BCD3" fill-opacity="0.82"/>
<circle cx="80.3" cy="76.4" r="1.85" fill="#CFAD88" fill-opacity="0.82"/>
<circle cx="132.5" cy="122.3" r="1.85" fill="#C4C4C4" fill-opacity="0.82"/>
<circle cx="120.3" cy="127.1" r="1.85" fill="#CFAD88" fill-opacity="0.82"/>
<circle cx="157.0" cy="146.3" r="1.85" fill="#CFAD88" fill-opacity="0.82"/>
<circle cx="114.7" cy="112.6" r="1.85" fill="#C4C4C4" fill-opacity="0.82"/>
<circle cx="128.3" cy="98.2" r="1.85" fill="#C4C4C4" fill-opacity="0.82"/>
<circle cx="180.4" cy="156.3" r="1.85" fill="#C4C4C4" fill-opacity="0.82"/>
<circle cx="112.9" cy="137.7" r="1.85" fill="#CFAD88" fill-opacity="0.82"/>
<circle cx="131.4" cy="158.5" r="1.85" fill="#CFAD88" fill-opacity="0.82"/>
<circle cx="106.4" cy="95.1" r="1.85" fill="#80BCD3" fill-opacity="0.82"/>
<circle cx="102.6" cy="95.4" r="1.85" fill="#80BCD3" fill-opacity="0.82"/>
<circle cx="162.3" cy="140.3" r="1.85" fill="#C4C4C4" fill-opacity="0.82"/>
<circle cx="97.2" cy="101.4" r="1.85" fill="#C4C4C4" fill-opacity="0.82"/>
<circle cx="118.2" cy="138.0" r="1.85" fill="#CFAD88" fill-opacity="0.82"/>
<circle cx="105.2" cy="100.0" r="1.85" fill="#C4C4C4" fill-opacity="0.82"/>
<circle cx="184.5" cy="155.2" r="1.85" fill="#C4C4C4" fill-opacity="0.82"/>
<circle cx="126.0" cy="118.3" r="1.85" fill="#C4C4C4" fill-opacity="0.82"/>
<circle cx="93.7" cy="92.4" r="1.85" fill="#CFAD88" fill-opacity="0.82"/>
<circle cx="115.9" cy="118.8" r="1.85" fill="#80BCD3" fill-opacity="0.82"/>
<circle cx="126.8" cy="91.9" r="1.85" fill="#CFAD88" fill-opacity="0.82"/>
<circle cx="168.6" cy="151.0" r="1.85" fill="#CFAD88" fill-opacity="0.82"/>
<circle cx="78.0" cy="69.2" r="1.85" fill="#C4C4C4" fill-opacity="0.82"/>
<circle cx="101.1" cy="110.5" r="1.85" fill="#C4C4C4" fill-opacity="0.82"/>
<circle cx="112.2" cy="111.1" r="1.85" fill="#C4C4C4" fill-opacity="0.82"/>
<circle cx="166.2" cy="144.0" r="1.85" fill="#C4C4C4" fill-opacity="0.82"/>
<circle cx="126.5" cy="109.7" r="1.85" fill="#80BCD3" fill-opacity="0.82"/>
<circle cx="155.9" cy="158.8" r="1.85" fill="#C4C4C4" fill-opacity="0.82"/>
<circle cx="133.5" cy="122.0" r="1.85" fill="#C4C4C4" fill-opacity="0.82"/>
<circle cx="142.1" cy="142.2" r="1.85" fill="#C4C4C4" fill-opacity="0.82"/>
<circle cx="94.9" cy="110.4" r="1.85" fill="#CFAD88" fill-opacity="0.82"/>
<circle cx="108.7" cy="119.1" r="1.85" fill="#C4C4C4" fill-opacity="0.82"/>
<circle cx="86.7" cy="102.5" r="1.85" fill="#CFAD88" fill-opacity="0.82"/>
<circle cx="133.5" cy="121.3" r="1.85" fill="#C4C4C4" fill-opacity="0.82"/>
<circle cx="89.9" cy="95.6" r="1.85" fill="#80BCD3" fill-opacity="0.82"/>
<circle cx="132.1" cy="155.2" r="1.85" fill="#CFAD88" fill-opacity="0.82"/>
<circle cx="160.9" cy="132.1" r="1.85" fill="#CFAD88" fill-opacity="0.82"/>
<circle cx="124.6" cy="122.4" r="1.85" fill="#C4C4C4" fill-opacity="0.82"/>
<circle cx="101.4" cy="75.9" r="1.85" fill="#C4C4C4" fill-opacity="0.82"/>
<circle cx="88.8" cy="104.0" r="1.85" fill="#CFAD88" fill-opacity="0.82"/>
<circle cx="142.1" cy="106.6" r="1.85" fill="#80BCD3" fill-opacity="0.82"/>
<circle cx="108.3" cy="111.4" r="1.85" fill="#C4C4C4" fill-opacity="0.82"/>
<circle cx="80.6" cy="92.8" r="1.85" fill="#CFAD88" fill-opacity="0.82"/>
<circle cx="163.0" cy="159.0" r="1.85" fill="#CFAD88" fill-opacity="0.82"/>
<circle cx="93.8" cy="79.4" r="1.85" fill="#C4C4C4" fill-opacity="0.82"/>
<circle cx="139.1" cy="137.1" r="1.85" fill="#CFAD88" fill-opacity="0.82"/>
<circle cx="107.9" cy="114.1" r="1.85" fill="#C4C4C4" fill-opacity="0.82"/>
<circle cx="110.5" cy="113.4" r="1.85" fill="#C4C4C4" fill-opacity="0.82"/>
<circle cx="127.8" cy="112.0" r="1.85" fill="#CFAD88" fill-opacity="0.82"/>
<circle cx="197.8" cy="143.0" r="1.85" fill="#CFAD88" fill-opacity="0.82"/>
<circle cx="138.7" cy="159.5" r="1.85" fill="#C4C4C4" fill-opacity="0.82"/>
<circle cx="98.5" cy="122.4" r="1.85" fill="#CFAD88" fill-opacity="0.82"/>
<circle cx="127.1" cy="108.7" r="1.85" fill="#CFAD88" fill-opacity="0.82"/>
<circle cx="185.4" cy="161.1" r="1.85" fill="#CFAD88" fill-opacity="0.82"/>
<circle cx="184.9" cy="159.6" r="1.85" fill="#CFAD88" fill-opacity="0.82"/>
<circle cx="133.7" cy="129.2" r="1.85" fill="#C4C4C4" fill-opacity="0.82"/>
<circle cx="66.5" cy="58.3" r="1.85" fill="#CFAD88" fill-opacity="0.82"/>
<circle cx="120.4" cy="99.1" r="1.85" fill="#C4C4C4" fill-opacity="0.82"/>
<circle cx="123.6" cy="94.0" r="1.85" fill="#C4C4C4" fill-opacity="0.82"/>
<circle cx="101.9" cy="110.9" r="1.85" fill="#CFAD88" fill-opacity="0.82"/>
<circle cx="165.3" cy="138.2" r="1.85" fill="#C4C4C4" fill-opacity="0.82"/>
<circle cx="80.0" cy="73.7" r="1.85" fill="#CFAD88" fill-opacity="0.82"/>
<circle cx="117.8" cy="122.4" r="1.85" fill="#C4C4C4" fill-opacity="0.82"/>
<circle cx="97.0" cy="86.0" r="1.85" fill="#C4C4C4" fill-opacity="0.82"/>
<circle cx="166.2" cy="155.9" r="1.85" fill="#80BCD3" fill-opacity="0.82"/>
<circle cx="89.0" cy="112.5" r="1.85" fill="#CFAD88" fill-opacity="0.82"/>
<circle cx="114.7" cy="105.6" r="1.85" fill="#C4C4C4" fill-opacity="0.82"/>
<circle cx="140.5" cy="122.8" r="1.85" fill="#80BCD3" fill-opacity="0.82"/>
<circle cx="117.5" cy="116.4" r="1.85" fill="#C4C4C4" fill-opacity="0.82"/>
<circle cx="148.2" cy="125.9" r="1.85" fill="#80BCD3" fill-opacity="0.82"/>
<circle cx="124.2" cy="119.1" r="1.85" fill="#C4C4C4" fill-opacity="0.82"/>
<circle cx="96.5" cy="119.2" r="1.85" fill="#C4C4C4" fill-opacity="0.82"/>
<circle cx="122.9" cy="127.5" r="1.85" fill="#C4C4C4" fill-opacity="0.82"/>
<circle cx="196.6" cy="162.1" r="1.85" fill="#CFAD88" fill-opacity="0.82"/>
<circle cx="83.6" cy="100.1" r="1.85" fill="#C4C4C4" fill-opacity="0.82"/>
<circle cx="123.1" cy="127.5" r="1.85" fill="#80BCD3" fill-opacity="0.82"/>
<circle cx="87.6" cy="111.9" r="1.85" fill="#C4C4C4" fill-opacity="0.82"/>
<circle cx="107.3" cy="117.9" r="1.85" fill="#C4C4C4" fill-opacity="0.82"/>
<circle cx="144.9" cy="136.4" r="1.85" fill="#80BCD3" fill-opacity="0.82"/>
<circle cx="85.6" cy="103.8" r="1.85" fill="#C4C4C4" fill-opacity="0.82"/>
<circle cx="157.3" cy="155.0" r="1.85" fill="#C4C4C4" fill-opacity="0.82"/>
<circle cx="129.5" cy="123.6" r="1.85" fill="#C4C4C4" fill-opacity="0.82"/>
<circle cx="170.7" cy="117.8" r="1.85" fill="#CFAD88" fill-opacity="0.82"/>
<circle cx="122.0" cy="107.9" r="1.85" fill="#C4C4C4" fill-opacity="0.82"/>
<circle cx="127.9" cy="120.1" r="1.85" fill="#C4C4C4" fill-opacity="0.82"/>
<circle cx="121.0" cy="119.6" r="1.85" fill="#CFAD88" fill-opacity="0.82"/>
<circle cx="117.3" cy="101.9" r="1.85" fill="#C4C4C4" fill-opacity="0.82"/>
<circle cx="170.3" cy="156.9" r="1.85" fill="#CFAD88" fill-opacity="0.82"/>
<circle cx="105.5" cy="120.3" r="1.85" fill="#CFAD88" fill-opacity="0.82"/>
<circle cx="144.6" cy="130.5" r="1.85" fill="#C4C4C4" fill-opacity="0.82"/>
<circle cx="119.9" cy="129.2" r="1.85" fill="#C4C4C4" fill-opacity="0.82"/>
<circle cx="109.2" cy="120.4" r="1.85" fill="#80BCD3" fill-opacity="0.82"/>
<circle cx="103.2" cy="106.1" r="1.85" fill="#C4C4C4" fill-opacity="0.82"/>
<circle cx="170.1" cy="173.0" r="1.85" fill="#C4C4C4" fill-opacity="0.82"/>
<circle cx="115.4" cy="107.7" r="1.85" fill="#C4C4C4" fill-opacity="0.82"/>
<circle cx="112.2" cy="109.0" r="1.85" fill="#CFAD88" fill-opacity="0.82"/>
<circle cx="108.3" cy="102.2" r="1.85" fill="#C4C4C4" fill-opacity="0.82"/>
<circle cx="132.8" cy="126.9" r="1.85" fill="#80BCD3" fill-opacity="0.82"/>
<circle cx="118.6" cy="125.9" r="1.85" fill="#C4C4C4" fill-opacity="0.82"/>
<circle cx="132.7" cy="121.1" r="1.85" fill="#C4C4C4" fill-opacity="0.82"/>
<circle cx="136.7" cy="141.2" r="1.85" fill="#C4C4C4" fill-opacity="0.82"/>
<circle cx="143.1" cy="143.8" r="1.85" fill="#C4C4C4" fill-opacity="0.82"/>
<circle cx="119.3" cy="95.5" r="1.85" fill="#C4C4C4" fill-opacity="0.82"/>
<circle cx="92.9" cy="142.4" r="1.85" fill="#CFAD88" fill-opacity="0.82"/>
<circle cx="102.7" cy="125.2" r="1.85" fill="#80BCD3" fill-opacity="0.82"/>
<circle cx="93.5" cy="103.2" r="1.85" fill="#C4C4C4" fill-opacity="0.82"/>
<circle cx="112.0" cy="97.6" r="1.85" fill="#CFAD88" fill-opacity="0.82"/>
<circle cx="114.7" cy="125.1" r="1.85" fill="#80BCD3" fill-opacity="0.82"/>
<circle cx="124.9" cy="142.4" r="1.85" fill="#C4C4C4" fill-opacity="0.82"/>
<circle cx="114.7" cy="114.0" r="1.85" fill="#80BCD3" fill-opacity="0.82"/>
<circle cx="120.1" cy="142.0" r="1.85" fill="#C4C4C4" fill-opacity="0.82"/>
<circle cx="77.0" cy="70.7" r="1.85" fill="#80BCD3" fill-opacity="0.82"/>
<circle cx="138.9" cy="139.2" r="1.85" fill="#C4C4C4" fill-opacity="0.82"/>
<circle cx="145.1" cy="136.9" r="1.85" fill="#80BCD3" fill-opacity="0.82"/>
<circle cx="115.5" cy="112.7" r="1.85" fill="#80BCD3" fill-opacity="0.82"/>
<circle cx="144.9" cy="130.2" r="1.85" fill="#CFAD88" fill-opacity="0.82"/>
<circle cx="71.6" cy="83.1" r="1.85" fill="#C4C4C4" fill-opacity="0.82"/>
<circle cx="134.1" cy="108.6" r="1.85" fill="#80BCD3" fill-opacity="0.82"/>
<circle cx="122.0" cy="112.2" r="1.85" fill="#CFAD88" fill-opacity="0.82"/>
<circle cx="83.3" cy="80.4" r="1.85" fill="#CFAD88" fill-opacity="0.82"/>
<circle cx="132.2" cy="136.2" r="1.85" fill="#80BCD3" fill-opacity="0.82"/>
<circle cx="103.1" cy="122.3" r="1.85" fill="#CFAD88" fill-opacity="0.82"/>
<circle cx="117.1" cy="118.7" r="1.85" fill="#C4C4C4" fill-opacity="0.82"/>
<circle cx="107.8" cy="110.0" r="1.85" fill="#C4C4C4" fill-opacity="0.82"/>
<circle cx="114.7" cy="96.0" r="1.85" fill="#C4C4C4" fill-opacity="0.82"/>
<circle cx="99.0" cy="117.9" r="1.85" fill="#80BCD3" fill-opacity="0.82"/>
<circle cx="102.8" cy="108.0" r="1.85" fill="#80BCD3" fill-opacity="0.82"/>
<circle cx="115.5" cy="113.5" r="1.85" fill="#C4C4C4" fill-opacity="0.82"/>
<circle cx="178.7" cy="168.9" r="1.85" fill="#CFAD88" fill-opacity="0.82"/>
<circle cx="163.0" cy="142.7" r="1.85" fill="#CFAD88" fill-opacity="0.82"/>
<circle cx="98.4" cy="98.3" r="1.85" fill="#C4C4C4" fill-opacity="0.82"/>
<circle cx="127.5" cy="136.5" r="1.85" fill="#C4C4C4" fill-opacity="0.82"/>
<circle cx="86.1" cy="100.9" r="1.85" fill="#80BCD3" fill-opacity="0.82"/>
<circle cx="144.8" cy="129.8" r="1.85" fill="#C4C4C4" fill-opacity="0.82"/>
<circle cx="146.3" cy="130.1" r="1.85" fill="#CFAD88" fill-opacity="0.82"/>
<circle cx="109.2" cy="116.6" r="1.85" fill="#CFAD88" fill-opacity="0.82"/>
<circle cx="106.8" cy="92.1" r="1.85" fill="#80BCD3" fill-opacity="0.82"/>
<circle cx="116.6" cy="92.4" r="1.85" fill="#80BCD3" fill-opacity="0.82"/>
<circle cx="95.0" cy="107.0" r="1.85" fill="#C4C4C4" fill-opacity="0.82"/>
<circle cx="97.9" cy="125.7" r="1.85" fill="#C4C4C4" fill-opacity="0.82"/>
<circle cx="106.8" cy="115.1" r="1.85" fill="#CFAD88" fill-opacity="0.82"/>
<circle cx="91.4" cy="76.7" r="1.85" fill="#CFAD88" fill-opacity="0.82"/>
<circle cx="157.0" cy="106.7" r="1.85" fill="#C4C4C4" fill-opacity="0.82"/>
<circle cx="83.8" cy="102.7" r="1.85" fill="#C4C4C4" fill-opacity="0.82"/>
<circle cx="141.3" cy="120.2" r="1.85" fill="#C4C4C4" fill-opacity="0.82"/>
<circle cx="80.7" cy="82.4" r="1.85" fill="#CFAD88" fill-opacity="0.82"/>
<circle cx="126.8" cy="121.8" r="1.85" fill="#C4C4C4" fill-opacity="0.82"/>
<circle cx="129.3" cy="106.3" r="1.85" fill="#C4C4C4" fill-opacity="0.82"/>
<circle cx="159.5" cy="123.1" r="1.85" fill="#80BCD3" fill-opacity="0.82"/>
<circle cx="78.0" cy="86.5" r="1.85" fill="#80BCD3" fill-opacity="0.82"/>
<circle cx="94.1" cy="114.3" r="1.85" fill="#CFAD88" fill-opacity="0.82"/>
<circle cx="114.6" cy="100.8" r="1.85" fill="#80BCD3" fill-opacity="0.82"/>
<circle cx="169.3" cy="142.5" r="1.85" fill="#CFAD88" fill-opacity="0.82"/>
<circle cx="88.1" cy="79.2" r="1.85" fill="#80BCD3" fill-opacity="0.82"/>
<circle cx="104.0" cy="129.6" r="1.85" fill="#C4C4C4" fill-opacity="0.82"/>
<circle cx="88.3" cy="77.6" r="1.85" fill="#C4C4C4" fill-opacity="0.82"/>
<circle cx="138.3" cy="115.1" r="1.85" fill="#C4C4C4" fill-opacity="0.82"/>
<circle cx="132.3" cy="135.2" r="1.85" fill="#C4C4C4" fill-opacity="0.82"/>
<circle cx="93.6" cy="105.1" r="1.85" fill="#C4C4C4" fill-opacity="0.82"/>
<circle cx="86.3" cy="92.2" r="1.85" fill="#CFAD88" fill-opacity="0.82"/>
<circle cx="104.5" cy="110.9" r="1.85" fill="#C4C4C4" fill-opacity="0.82"/>
<circle cx="117.0" cy="117.9" r="1.85" fill="#C4C4C4" fill-opacity="0.82"/>
<circle cx="111.5" cy="128.0" r="1.85" fill="#80BCD3" fill-opacity="0.82"/>
<circle cx="170.9" cy="142.3" r="1.85" fill="#CFAD88" fill-opacity="0.82"/>
<circle cx="85.6" cy="81.2" r="1.85" fill="#CFAD88" fill-opacity="0.82"/>
<circle cx="116.3" cy="123.6" r="1.85" fill="#80BCD3" fill-opacity="0.82"/>
<circle cx="111.0" cy="119.9" r="1.85" fill="#C4C4C4" fill-opacity="0.82"/>
<circle cx="115.6" cy="120.9" r="1.85" fill="#C4C4C4" fill-opacity="0.82"/>
<circle cx="172.9" cy="143.9" r="1.85" fill="#C4C4C4" fill-opacity="0.82"/>
<circle cx="128.7" cy="110.7" r="1.85" fill="#80BCD3" fill-opacity="0.82"/>
<circle cx="135.0" cy="106.1" r="1.85" fill="#CFAD88" fill-opacity="0.82"/>
<circle cx="99.9" cy="106.2" r="1.85" fill="#C4C4C4" fill-opacity="0.82"/>
<circle cx="96.6" cy="87.0" r="1.85" fill="#C4C4C4" fill-opacity="0.82"/>
<circle cx="108.3" cy="96.7" r="1.85" fill="#C4C4C4" fill-opacity="0.82"/>
<circle cx="78.2" cy="69.5" r="1.85" fill="#80BCD3" fill-opacity="0.82"/>
<circle cx="127.1" cy="147.1" r="1.85" fill="#CFAD88" fill-opacity="0.82"/>
<circle cx="127.9" cy="114.1" r="1.85" fill="#CFAD88" fill-opacity="0.82"/>
<circle cx="138.8" cy="148.9" r="1.85" fill="#C4C4C4" fill-opacity="0.82"/>
<circle cx="95.6" cy="85.5" r="1.85" fill="#CFAD88" fill-opacity="0.82"/>
<circle cx="113.6" cy="96.1" r="1.85" fill="#CFAD88" fill-opacity="0.82"/>
<circle cx="154.3" cy="155.5" r="1.85" fill="#C4C4C4" fill-opacity="0.82"/>
<circle cx="110.0" cy="95.6" r="1.85" fill="#80BCD3" fill-opacity="0.82"/>
<circle cx="114.4" cy="101.6" r="1.85" fill="#C4C4C4" fill-opacity="0.82"/>
<circle cx="94.0" cy="107.3" r="1.85" fill="#C4C4C4" fill-opacity="0.82"/>
<circle cx="118.2" cy="123.3" r="1.85" fill="#CFAD88" fill-opacity="0.82"/>
<circle cx="180.6" cy="142.5" r="1.85" fill="#C4C4C4" fill-opacity="0.82"/>
<circle cx="117.8" cy="139.3" r="1.85" fill="#C4C4C4" fill-opacity="0.82"/>
<circle cx="88.1" cy="93.9" r="1.85" fill="#80BCD3" fill-opacity="0.82"/>
<circle cx="123.1" cy="94.2" r="1.85" fill="#C4C4C4" fill-opacity="0.82"/>
<circle cx="152.4" cy="125.1" r="1.85" fill="#C4C4C4" fill-opacity="0.82"/>
<circle cx="160.2" cy="158.7" r="1.85" fill="#C4C4C4" fill-opacity="0.82"/>
<circle cx="123.4" cy="122.6" r="1.85" fill="#C4C4C4" fill-opacity="0.82"/>
<circle cx="108.7" cy="127.4" r="1.85" fill="#C4C4C4" fill-opacity="0.82"/>
<circle cx="132.2" cy="120.9" r="1.85" fill="#CFAD88" fill-opacity="0.82"/>
<circle cx="104.6" cy="96.2" r="1.85" fill="#C4C4C4" fill-opacity="0.82"/>
<circle cx="104.8" cy="90.9" r="1.85" fill="#80BCD3" fill-opacity="0.82"/>
<circle cx="117.9" cy="109.9" r="1.85" fill="#C4C4C4" fill-opacity="0.82"/>
<circle cx="142.5" cy="144.2" r="1.85" fill="#C4C4C4" fill-opacity="0.82"/>
<circle cx="137.4" cy="119.0" r="1.85" fill="#CFAD88" fill-opacity="0.82"/>
<circle cx="122.0" cy="120.9" r="1.85" fill="#80BCD3" fill-opacity="0.82"/>
<circle cx="96.6" cy="88.8" r="1.85" fill="#80BCD3" fill-opacity="0.82"/>
<circle cx="89.7" cy="84.8" r="1.85" fill="#CFAD88" fill-opacity="0.82"/>
<circle cx="99.4" cy="110.8" r="1.85" fill="#C4C4C4" fill-opacity="0.82"/>
<circle cx="112.9" cy="121.7" r="1.85" fill="#80BCD3" fill-opacity="0.82"/>
<circle cx="130.7" cy="111.3" r="1.85" fill="#C4C4C4" fill-opacity="0.82"/>
<circle cx="146.8" cy="119.6" r="1.85" fill="#C4C4C4" fill-opacity="0.82"/>
<circle cx="83.7" cy="92.4" r="1.85" fill="#C4C4C4" fill-opacity="0.82"/>
<circle cx="110.1" cy="110.9" r="1.85" fill="#C4C4C4" fill-opacity="0.82"/>
<circle cx="127.7" cy="137.8" r="1.85" fill="#CFAD88" fill-opacity="0.82"/>
<circle cx="137.9" cy="128.5" r="1.85" fill="#80BCD3" fill-opacity="0.82"/>
<circle cx="92.9" cy="108.2" r="1.85" fill="#C4C4C4" fill-opacity="0.82"/>
<circle cx="119.6" cy="124.3" r="1.85" fill="#C4C4C4" fill-opacity="0.82"/>
<circle cx="157.1" cy="133.3" r="1.85" fill="#C4C4C4" fill-opacity="0.82"/>
<circle cx="127.8" cy="112.5" r="1.85" fill="#CFAD88" fill-opacity="0.82"/>
<circle cx="132.0" cy="136.4" r="1.85" fill="#80BCD3" fill-opacity="0.82"/>
<circle cx="82.6" cy="92.7" r="1.85" fill="#80BCD3" fill-opacity="0.82"/>
<circle cx="125.2" cy="130.0" r="1.85" fill="#CFAD88" fill-opacity="0.82"/>
<circle cx="112.1" cy="108.0" r="1.85" fill="#CFAD88" fill-opacity="0.82"/>
<circle cx="179.9" cy="147.2" r="1.85" fill="#CFAD88" fill-opacity="0.82"/>
<circle cx="102.0" cy="127.8" r="1.85" fill="#C4C4C4" fill-opacity="0.82"/>
<circle cx="102.5" cy="91.1" r="1.85" fill="#80BCD3" fill-opacity="0.82"/>
<circle cx="102.6" cy="133.3" r="1.85" fill="#C4C4C4" fill-opacity="0.82"/>
<circle cx="135.5" cy="113.0" r="1.85" fill="#CFAD88" fill-opacity="0.82"/>
<circle cx="132.3" cy="126.8" r="1.85" fill="#C4C4C4" fill-opacity="0.82"/>
<circle cx="130.6" cy="109.0" r="1.85" fill="#CFAD88" fill-opacity="0.82"/>
<circle cx="123.0" cy="120.6" r="1.85" fill="#C4C4C4" fill-opacity="0.82"/>
<circle cx="153.6" cy="133.6" r="1.85" fill="#CFAD88" fill-opacity="0.82"/>
<circle cx="104.0" cy="111.9" r="1.85" fill="#80BCD3" fill-opacity="0.82"/>
<circle cx="134.2" cy="108.1" r="1.85" fill="#C4C4C4" fill-opacity="0.82"/>
<circle cx="172.6" cy="154.6" r="1.85" fill="#CFAD88" fill-opacity="0.82"/>
<circle cx="124.1" cy="104.0" r="1.85" fill="#80BCD3" fill-opacity="0.82"/>
<circle cx="97.7" cy="115.9" r="1.85" fill="#C4C4C4" fill-opacity="0.82"/>
<circle cx="113.7" cy="106.8" r="1.85" fill="#80BCD3" fill-opacity="0.82"/>
<circle cx="103.3" cy="110.8" r="1.85" fill="#C4C4C4" fill-opacity="0.82"/>
<circle cx="137.3" cy="114.3" r="1.85" fill="#80BCD3" fill-opacity="0.82"/>
<circle cx="85.2" cy="128.3" r="1.85" fill="#C4C4C4" fill-opacity="0.82"/>
<circle cx="129.4" cy="105.7" r="1.85" fill="#C4C4C4" fill-opacity="0.82"/>
<circle cx="181.2" cy="154.4" r="1.85" fill="#CFAD88" fill-opacity="0.82"/>
<circle cx="116.0" cy="116.7" r="1.85" fill="#CFAD88" fill-opacity="0.82"/>
<circle cx="127.3" cy="126.8" r="1.85" fill="#80BCD3" fill-opacity="0.82"/>
<circle cx="113.0" cy="120.2" r="1.85" fill="#CFAD88" fill-opacity="0.82"/>
<circle cx="122.5" cy="121.2" r="1.85" fill="#CFAD88" fill-opacity="0.82"/>
<circle cx="92.4" cy="101.0" r="1.85" fill="#C4C4C4" fill-opacity="0.82"/>
<circle cx="129.9" cy="123.3" r="1.85" fill="#C4C4C4" fill-opacity="0.82"/>
<circle cx="88.1" cy="83.6" r="1.85" fill="#C4C4C4" fill-opacity="0.82"/>
<circle cx="89.5" cy="93.5" r="1.85" fill="#80BCD3" fill-opacity="0.82"/>
<circle cx="125.6" cy="128.5" r="1.85" fill="#C4C4C4" fill-opacity="0.82"/>
<circle cx="94.5" cy="91.2" r="1.85" fill="#C4C4C4" fill-opacity="0.82"/>
<circle cx="116.9" cy="115.4" r="1.85" fill="#CFAD88" fill-opacity="0.82"/>
<circle cx="145.3" cy="146.5" r="1.85" fill="#CFAD88" fill-opacity="0.82"/>
<circle cx="112.2" cy="90.8" r="1.85" fill="#80BCD3" fill-opacity="0.82"/>
<circle cx="125.7" cy="123.9" r="1.85" fill="#80BCD3" fill-opacity="0.82"/>
<circle cx="117.8" cy="107.8" r="1.85" fill="#80BCD3" fill-opacity="0.82"/>
<circle cx="131.4" cy="91.0" r="1.85" fill="#C4C4C4" fill-opacity="0.82"/>
<circle cx="131.2" cy="148.2" r="1.85" fill="#C4C4C4" fill-opacity="0.82"/>
<circle cx="156.8" cy="141.8" r="1.85" fill="#C4C4C4" fill-opacity="0.82"/>
<circle cx="102.2" cy="120.4" r="1.85" fill="#C4C4C4" fill-opacity="0.82"/>
<circle cx="132.2" cy="97.9" r="1.85" fill="#C4C4C4" fill-opacity="0.82"/>
<circle cx="118.9" cy="87.2" r="1.85" fill="#CFAD88" fill-opacity="0.82"/>
<circle cx="74.6" cy="81.6" r="1.85" fill="#C4C4C4" fill-opacity="0.82"/>
<circle cx="122.2" cy="108.5" r="1.85" fill="#CFAD88" fill-opacity="0.82"/>
<circle cx="143.3" cy="141.0" r="1.85" fill="#C4C4C4" fill-opacity="0.82"/>
<circle cx="88.4" cy="105.4" r="1.85" fill="#C4C4C4" fill-opacity="0.82"/>
<circle cx="101.1" cy="112.0" r="1.85" fill="#80BCD3" fill-opacity="0.82"/>
<circle cx="115.8" cy="102.2" r="1.85" fill="#C4C4C4" fill-opacity="0.82"/>
<circle cx="101.3" cy="121.8" r="1.85" fill="#CFAD88" fill-opacity="0.82"/>
<circle cx="116.7" cy="94.0" r="1.85" fill="#CFAD88" fill-opacity="0.82"/>
<circle cx="116.7" cy="94.2" r="1.85" fill="#C4C4C4" fill-opacity="0.82"/>
<circle cx="100.8" cy="127.1" r="1.85" fill="#CFAD88" fill-opacity="0.82"/>
<circle cx="123.3" cy="125.6" r="1.85" fill="#CFAD88" fill-opacity="0.82"/>
<circle cx="121.8" cy="123.6" r="1.85" fill="#CFAD88" fill-opacity="0.82"/>
<circle cx="111.6" cy="128.3" r="1.85" fill="#80BCD3" fill-opacity="0.82"/>
<circle cx="137.1" cy="124.3" r="1.85" fill="#80BCD3" fill-opacity="0.82"/>
<circle cx="167.7" cy="125.0" r="1.85" fill="#C4C4C4" fill-opacity="0.82"/>
<circle cx="155.9" cy="153.8" r="1.85" fill="#80BCD3" fill-opacity="0.82"/>
<circle cx="115.9" cy="114.9" r="1.85" fill="#CFAD88" fill-opacity="0.82"/>
<circle cx="112.6" cy="126.6" r="1.85" fill="#80BCD3" fill-opacity="0.82"/>
<circle cx="149.0" cy="138.9" r="1.85" fill="#C4C4C4" fill-opacity="0.82"/>
<circle cx="126.1" cy="128.3" r="1.85" fill="#80BCD3" fill-opacity="0.82"/>
<circle cx="106.2" cy="105.0" r="1.85" fill="#C4C4C4" fill-opacity="0.82"/>
<circle cx="104.6" cy="124.7" r="1.85" fill="#80BCD3" fill-opacity="0.82"/>
<circle cx="110.0" cy="107.3" r="1.85" fill="#80BCD3" fill-opacity="0.82"/>
<circle cx="146.8" cy="147.7" r="1.85" fill="#C4C4C4" fill-opacity="0.82"/>
<circle cx="73.7" cy="74.5" r="1.85" fill="#80BCD3" fill-opacity="0.82"/>
<circle cx="132.9" cy="125.2" r="1.85" fill="#80BCD3" fill-opacity="0.82"/>
<circle cx="123.3" cy="113.9" r="1.85" fill="#80BCD3" fill-opacity="0.82"/>
<circle cx="120.6" cy="116.0" r="1.85" fill="#C4C4C4" fill-opacity="0.82"/>
<circle cx="71.4" cy="97.2" r="1.85" fill="#C4C4C4" fill-opacity="0.82"/>
<circle cx="122.7" cy="106.8" r="1.85" fill="#CFAD88" fill-opacity="0.82"/>
<circle cx="120.0" cy="121.8" r="1.85" fill="#CFAD88" fill-opacity="0.82"/>
<circle cx="107.8" cy="89.6" r="1.85" fill="#C4C4C4" fill-opacity="0.82"/>
<circle cx="125.3" cy="149.0" r="1.85" fill="#80BCD3" fill-opacity="0.82"/>
<circle cx="83.8" cy="119.4" r="1.85" fill="#C4C4C4" fill-opacity="0.82"/>
<circle cx="140.2" cy="118.6" r="1.85" fill="#C4C4C4" fill-opacity="0.82"/>
<circle cx="90.2" cy="99.5" r="1.85" fill="#C4C4C4" fill-opacity="0.82"/>
<circle cx="138.8" cy="125.8" r="1.85" fill="#C4C4C4" fill-opacity="0.82"/>
<circle cx="151.3" cy="131.5" r="1.85" fill="#CFAD88" fill-opacity="0.82"/>
<circle cx="100.7" cy="111.9" r="1.85" fill="#C4C4C4" fill-opacity="0.82"/>
<circle cx="125.0" cy="143.7" r="1.85" fill="#C4C4C4" fill-opacity="0.82"/>
<circle cx="111.1" cy="126.6" r="1.85" fill="#CFAD88" fill-opacity="0.82"/>
<circle cx="107.6" cy="35.0" r="1.85" fill="#CFAD88" fill-opacity="0.82"/>
<circle cx="74.0" cy="50.4" r="1.85" fill="#CFAD88" fill-opacity="0.82"/>
<circle cx="64.6" cy="56.6" r="1.85" fill="#C4C4C4" fill-opacity="0.82"/>
<circle cx="75.4" cy="61.0" r="1.85" fill="#CFAD88" fill-opacity="0.82"/>
<circle cx="104.0" cy="64.6" r="1.85" fill="#CFAD88" fill-opacity="0.82"/>
<circle cx="111.6" cy="67.6" r="1.85" fill="#C4C4C4" fill-opacity="0.82"/>
<circle cx="74.6" cy="66.0" r="1.85" fill="#CFAD88" fill-opacity="0.82"/>
<circle cx="123.0" cy="75.0" r="1.85" fill="#CFAD88" fill-opacity="0.82"/>
<circle cx="66.0" cy="75.0" r="1.85" fill="#CFAD88" fill-opacity="0.82"/>
<circle cx="70.0" cy="75.4" r="1.85" fill="#CFAD88" fill-opacity="0.82"/>
<circle cx="59.0" cy="88.0" r="1.85" fill="#CFAD88" fill-opacity="0.82"/>
<circle cx="73.4" cy="92.0" r="1.85" fill="#80BCD3" fill-opacity="0.82"/>
<circle cx="74.0" cy="72.0" r="1.85" fill="#C4C4C4" fill-opacity="0.82"/>
<circle cx="143.0" cy="83.0" r="1.85" fill="#CFAD88" fill-opacity="0.82"/>
<circle cx="137.0" cy="96.0" r="1.85" fill="#CFAD88" fill-opacity="0.82"/>
<circle cx="144.4" cy="100.0" r="1.85" fill="#CFAD88" fill-opacity="0.82"/>
<circle cx="142.0" cy="106.6" r="1.85" fill="#CFAD88" fill-opacity="0.82"/>
<circle cx="145.0" cy="109.0" r="1.85" fill="#C4C4C4" fill-opacity="0.82"/>
<circle cx="176.8" cy="134.5" r="1.85" fill="#CFAD88" fill-opacity="0.82"/>
<circle cx="170.8" cy="141.4" r="1.85" fill="#CFAD88" fill-opacity="0.82"/>
<circle cx="176.5" cy="151.6" r="1.85" fill="#CFAD88" fill-opacity="0.82"/>
<circle cx="182.5" cy="157.3" r="1.85" fill="#CFAD88" fill-opacity="0.82"/>
<circle cx="187.3" cy="159.3" r="1.85" fill="#CFAD88" fill-opacity="0.82"/>
<circle cx="187.3" cy="162.7" r="1.85" fill="#CFAD88" fill-opacity="0.82"/>
<circle cx="186.4" cy="168.4" r="1.85" fill="#CFAD88" fill-opacity="0.82"/>
<circle cx="189.0" cy="170.4" r="1.85" fill="#C4C4C4" fill-opacity="0.82"/>
<circle cx="182.0" cy="172.6" r="1.85" fill="#CFAD88" fill-opacity="0.82"/>
<circle cx="177.4" cy="173.0" r="1.85" fill="#CFAD88" fill-opacity="0.82"/>
<circle cx="170.8" cy="173.3" r="1.85" fill="#CFAD88" fill-opacity="0.82"/>
<circle cx="163.3" cy="175.0" r="1.85" fill="#CFAD88" fill-opacity="0.82"/>
<circle cx="170.5" cy="167.9" r="1.85" fill="#C4C4C4" fill-opacity="0.82"/>
<circle cx="187.3" cy="189.7" r="1.85" fill="#CFAD88" fill-opacity="0.82"/>
<circle cx="160.0" cy="161.0" r="1.85" fill="#CFAD88" fill-opacity="0.82"/>
<circle cx="162.8" cy="163.6" r="1.85" fill="#CFAD88" fill-opacity="0.82"/>
<circle cx="172.2" cy="156.8" r="1.85" fill="#CFAD88" fill-opacity="0.82"/>
<circle cx="172.2" cy="153.3" r="1.85" fill="#CFAD88" fill-opacity="0.82"/>
<circle cx="156.8" cy="152.5" r="1.85" fill="#CFAD88" fill-opacity="0.82"/>
<text x="36.0" y="41.9" class="nl" fill="#7B56C9">13</text>
<text x="35.6" y="59.9" class="nl" fill="#C8687E">11</text>
<text x="65.4" y="51.9" class="nl" fill="#FB9D24">24</text>
<text x="67.4" y="61.5" class="nl" fill="#7F56C6">8</text>
<text x="93.0" y="62.9" class="nl" fill="#8958BC">3</text>
<text x="88.0" y="69.3" class="nl" fill="#B66290">22</text>
<text x="64.6" y="71.5" class="nl" fill="#FB9D24">12</text>
<text x="82.0" y="78.5" class="nl" fill="#7F56C6">25</text>
<text x="63.6" y="83.9" class="nl" fill="#8958BC">4</text>
<text x="74.4" y="84.5" class="nl" fill="#9259B3">9</text>
<text x="81.6" y="91.3" class="nl" fill="#7F56C6">20</text>
<text x="101.0" y="94.9" class="nl" fill="#8F58B7">15</text>
<text x="129.6" y="50.5" class="nl" fill="#CF6E74">32</text>
<text x="134.5" y="103.5" class="nl" fill="#F7972E">6</text>
<text x="103.7" y="118.4" class="nl" fill="#B66290">10</text>
<text x="104.5" y="123.4" class="nl" fill="#B66290">5</text>
<text x="103.0" y="128.3" class="nl" fill="#A55DA1">2</text>
<text x="119.0" y="116.9" class="nl" fill="#7F56C6">19</text>
<text x="127.0" y="118.4" class="nl" fill="#8357C2">1</text>
<text x="122.2" y="127.4" class="nl" fill="#7B56C9">29</text>
<text x="137.3" y="127.4" class="nl" fill="#8357C2">21</text>
<text x="144.6" y="124.9" class="nl" fill="#AE6098">33</text>
<text x="147.0" y="129.6" class="nl" fill="#FDA11E">18</text>
<text x="161.0" y="128.3" class="nl" fill="#7F56C6">27</text>
<text x="166.0" y="132.7" class="nl" fill="#8357C2">7</text>
<text x="155.0" y="138.9" class="nl" fill="#8357C2">30</text>
<text x="123.4" y="155.3" class="nl" fill="#F7972E">34</text>
<text x="129.0" y="159.9" class="nl" fill="#8357C2">26</text>
<text x="95.5" y="160.5" class="nl" fill="#AE6098">31</text>
<text x="176.5" y="165.6" class="nl" fill="#D6746A">17</text>
<text x="180.4" y="185.3" class="nl" fill="#B66290">16</text>
<text x="174.8" y="189.9" class="nl" fill="#A55DA1">28</text>
<text x="193.0" y="206.1" class="nl" fill="#E58056">23</text>
<text x="234.6" y="201.9" class="nl" fill="#7F56C6">14</text>
</g>
<g clip-path="url(#clipa2)">
<circle cx="362.5" cy="132.5" r="1.85" fill="#CFAD88" fill-opacity="0.82"/>
<circle cx="361.7" cy="108.9" r="1.85" fill="#80BCD3" fill-opacity="0.82"/>
<circle cx="369.5" cy="117.6" r="1.85" fill="#C4C4C4" fill-opacity="0.82"/>
<circle cx="386.1" cy="117.4" r="1.85" fill="#80BCD3" fill-opacity="0.82"/>
<circle cx="332.9" cy="82.1" r="1.85" fill="#CFAD88" fill-opacity="0.82"/>
<circle cx="353.1" cy="118.2" r="1.85" fill="#CFAD88" fill-opacity="0.82"/>
<circle cx="373.3" cy="109.6" r="1.85" fill="#C4C4C4" fill-opacity="0.82"/>
<circle cx="351.1" cy="98.6" r="1.85" fill="#C4C4C4" fill-opacity="0.82"/>
<circle cx="373.9" cy="125.9" r="1.85" fill="#C4C4C4" fill-opacity="0.82"/>
<circle cx="414.1" cy="149.9" r="1.85" fill="#CFAD88" fill-opacity="0.82"/>
<circle cx="368.7" cy="120.9" r="1.85" fill="#C4C4C4" fill-opacity="0.82"/>
<circle cx="360.5" cy="96.9" r="1.85" fill="#C4C4C4" fill-opacity="0.82"/>
<circle cx="404.5" cy="155.4" r="1.85" fill="#CFAD88" fill-opacity="0.82"/>
<circle cx="376.6" cy="130.5" r="1.85" fill="#C4C4C4" fill-opacity="0.82"/>
<circle cx="360.1" cy="93.3" r="1.85" fill="#80BCD3" fill-opacity="0.82"/>
<circle cx="347.9" cy="94.0" r="1.85" fill="#CFAD88" fill-opacity="0.82"/>
<circle cx="356.7" cy="91.1" r="1.85" fill="#80BCD3" fill-opacity="0.82"/>
<circle cx="323.5" cy="76.3" r="1.85" fill="#80BCD3" fill-opacity="0.82"/>
<circle cx="379.3" cy="124.0" r="1.85" fill="#CFAD88" fill-opacity="0.82"/>
<circle cx="383.8" cy="114.1" r="1.85" fill="#C4C4C4" fill-opacity="0.82"/>
<circle cx="405.5" cy="136.3" r="1.85" fill="#C4C4C4" fill-opacity="0.82"/>
<circle cx="355.5" cy="106.6" r="1.85" fill="#CFAD88" fill-opacity="0.82"/>
<circle cx="359.6" cy="106.7" r="1.85" fill="#C4C4C4" fill-opacity="0.82"/>
<circle cx="375.8" cy="112.9" r="1.85" fill="#CFAD88" fill-opacity="0.82"/>
<circle cx="359.9" cy="118.2" r="1.85" fill="#C4C4C4" fill-opacity="0.82"/>
<circle cx="370.2" cy="95.2" r="1.85" fill="#C4C4C4" fill-opacity="0.82"/>
<circle cx="365.3" cy="99.7" r="1.85" fill="#C4C4C4" fill-opacity="0.82"/>
<circle cx="389.3" cy="122.3" r="1.85" fill="#CFAD88" fill-opacity="0.82"/>
<circle cx="331.1" cy="72.7" r="1.85" fill="#C4C4C4" fill-opacity="0.82"/>
<circle cx="367.4" cy="111.3" r="1.85" fill="#80BCD3" fill-opacity="0.82"/>
<circle cx="408.6" cy="134.8" r="1.85" fill="#80BCD3" fill-opacity="0.82"/>
<circle cx="377.3" cy="116.2" r="1.85" fill="#80BCD3" fill-opacity="0.82"/>
<circle cx="374.3" cy="107.6" r="1.85" fill="#C4C4C4" fill-opacity="0.82"/>
<circle cx="373.1" cy="110.2" r="1.85" fill="#C4C4C4" fill-opacity="0.82"/>
<circle cx="345.9" cy="90.4" r="1.85" fill="#C4C4C4" fill-opacity="0.82"/>
<circle cx="348.7" cy="100.8" r="1.85" fill="#C4C4C4" fill-opacity="0.82"/>
<circle cx="431.7" cy="138.9" r="1.85" fill="#CFAD88" fill-opacity="0.82"/>
<circle cx="390.2" cy="131.6" r="1.85" fill="#CFAD88" fill-opacity="0.82"/>
<circle cx="350.2" cy="80.7" r="1.85" fill="#C4C4C4" fill-opacity="0.82"/>
<circle cx="361.1" cy="80.1" r="1.85" fill="#C4C4C4" fill-opacity="0.82"/>
<circle cx="372.7" cy="132.5" r="1.85" fill="#CFAD88" fill-opacity="0.82"/>
<circle cx="328.9" cy="93.4" r="1.85" fill="#80BCD3" fill-opacity="0.82"/>
<circle cx="360.5" cy="114.5" r="1.85" fill="#80BCD3" fill-opacity="0.82"/>
<circle cx="369.8" cy="119.6" r="1.85" fill="#C4C4C4" fill-opacity="0.82"/>
<circle cx="366.4" cy="102.4" r="1.85" fill="#C4C4C4" fill-opacity="0.82"/>
<circle cx="322.2" cy="83.5" r="1.85" fill="#CFAD88" fill-opacity="0.82"/>
<circle cx="390.8" cy="125.0" r="1.85" fill="#C4C4C4" fill-opacity="0.82"/>
<circle cx="394.8" cy="115.1" r="1.85" fill="#80BCD3" fill-opacity="0.82"/>
<circle cx="340.5" cy="70.7" r="1.85" fill="#C4C4C4" fill-opacity="0.82"/>
<circle cx="369.2" cy="119.2" r="1.85" fill="#C4C4C4" fill-opacity="0.82"/>
<circle cx="384.8" cy="112.1" r="1.85" fill="#CFAD88" fill-opacity="0.82"/>
<circle cx="379.7" cy="118.3" r="1.85" fill="#C4C4C4" fill-opacity="0.82"/>
<circle cx="384.7" cy="116.2" r="1.85" fill="#CFAD88" fill-opacity="0.82"/>
<circle cx="361.0" cy="82.0" r="1.85" fill="#C4C4C4" fill-opacity="0.82"/>
<circle cx="316.1" cy="74.0" r="1.85" fill="#C4C4C4" fill-opacity="0.82"/>
<circle cx="407.6" cy="126.6" r="1.85" fill="#CFAD88" fill-opacity="0.82"/>
<circle cx="314.6" cy="76.8" r="1.85" fill="#C4C4C4" fill-opacity="0.82"/>
<circle cx="351.7" cy="82.7" r="1.85" fill="#C4C4C4" fill-opacity="0.82"/>
<circle cx="377.1" cy="134.6" r="1.85" fill="#80BCD3" fill-opacity="0.82"/>
<circle cx="392.3" cy="138.6" r="1.85" fill="#C4C4C4" fill-opacity="0.82"/>
<circle cx="312.3" cy="82.1" r="1.85" fill="#CFAD88" fill-opacity="0.82"/>
<circle cx="405.1" cy="156.7" r="1.85" fill="#C4C4C4" fill-opacity="0.82"/>
<circle cx="380.5" cy="110.9" r="1.85" fill="#80BCD3" fill-opacity="0.82"/>
<circle cx="425.3" cy="154.4" r="1.85" fill="#CFAD88" fill-opacity="0.82"/>
<circle cx="354.8" cy="80.1" r="1.85" fill="#C4C4C4" fill-opacity="0.82"/>
<circle cx="342.9" cy="97.7" r="1.85" fill="#80BCD3" fill-opacity="0.82"/>
<circle cx="355.8" cy="99.8" r="1.85" fill="#C4C4C4" fill-opacity="0.82"/>
<circle cx="354.8" cy="92.3" r="1.85" fill="#80BCD3" fill-opacity="0.82"/>
<circle cx="411.9" cy="153.0" r="1.85" fill="#CFAD88" fill-opacity="0.82"/>
<circle cx="338.0" cy="87.8" r="1.85" fill="#80BCD3" fill-opacity="0.82"/>
<circle cx="374.5" cy="102.6" r="1.85" fill="#C4C4C4" fill-opacity="0.82"/>
<circle cx="356.6" cy="121.4" r="1.85" fill="#C4C4C4" fill-opacity="0.82"/>
<circle cx="361.6" cy="85.1" r="1.85" fill="#C4C4C4" fill-opacity="0.82"/>
<circle cx="376.6" cy="116.6" r="1.85" fill="#C4C4C4" fill-opacity="0.82"/>
<circle cx="392.0" cy="124.3" r="1.85" fill="#C4C4C4" fill-opacity="0.82"/>
<circle cx="412.9" cy="159.1" r="1.85" fill="#C4C4C4" fill-opacity="0.82"/>
<circle cx="341.7" cy="86.0" r="1.85" fill="#CFAD88" fill-opacity="0.82"/>
<circle cx="352.2" cy="86.8" r="1.85" fill="#C4C4C4" fill-opacity="0.82"/>
<circle cx="357.4" cy="114.7" r="1.85" fill="#80BCD3" fill-opacity="0.82"/>
<circle cx="373.8" cy="109.9" r="1.85" fill="#80BCD3" fill-opacity="0.82"/>
<circle cx="411.3" cy="142.5" r="1.85" fill="#CFAD88" fill-opacity="0.82"/>
<circle cx="380.0" cy="133.9" r="1.85" fill="#C4C4C4" fill-opacity="0.82"/>
<circle cx="371.4" cy="87.0" r="1.85" fill="#C4C4C4" fill-opacity="0.82"/>
<circle cx="380.3" cy="129.6" r="1.85" fill="#C4C4C4" fill-opacity="0.82"/>
<circle cx="384.4" cy="121.2" r="1.85" fill="#C4C4C4" fill-opacity="0.82"/>
<circle cx="367.0" cy="114.4" r="1.85" fill="#80BCD3" fill-opacity="0.82"/>
<circle cx="407.8" cy="154.4" r="1.85" fill="#CFAD88" fill-opacity="0.82"/>
<circle cx="357.6" cy="98.5" r="1.85" fill="#C4C4C4" fill-opacity="0.82"/>
<circle cx="341.2" cy="90.7" r="1.85" fill="#80BCD3" fill-opacity="0.82"/>
<circle cx="394.5" cy="137.1" r="1.85" fill="#C4C4C4" fill-opacity="0.82"/>
<circle cx="427.1" cy="165.2" r="1.85" fill="#CFAD88" fill-opacity="0.82"/>
<circle cx="335.3" cy="86.9" r="1.85" fill="#CFAD88" fill-opacity="0.82"/>
<circle cx="323.6" cy="75.0" r="1.85" fill="#CFAD88" fill-opacity="0.82"/>
<circle cx="378.3" cy="119.4" r="1.85" fill="#80BCD3" fill-opacity="0.82"/>
<circle cx="321.1" cy="70.0" r="1.85" fill="#CFAD88" fill-opacity="0.82"/>
<circle cx="384.6" cy="121.9" r="1.85" fill="#C4C4C4" fill-opacity="0.82"/>
<circle cx="355.3" cy="99.3" r="1.85" fill="#C4C4C4" fill-opacity="0.82"/>
<circle cx="347.0" cy="99.5" r="1.85" fill="#80BCD3" fill-opacity="0.82"/>
<circle cx="365.8" cy="105.9" r="1.85" fill="#80BCD3" fill-opacity="0.82"/>
<circle cx="370.1" cy="133.1" r="1.85" fill="#80BCD3" fill-opacity="0.82"/>
<circle cx="428.0" cy="179.0" r="1.85" fill="#CFAD88" fill-opacity="0.82"/>
<circle cx="392.4" cy="134.3" r="1.85" fill="#CFAD88" fill-opacity="0.82"/>
<circle cx="328.7" cy="76.8" r="1.85" fill="#CFAD88" fill-opacity="0.82"/>
<circle cx="384.9" cy="114.1" r="1.85" fill="#C4C4C4" fill-opacity="0.82"/>
<circle cx="386.6" cy="129.2" r="1.85" fill="#C4C4C4" fill-opacity="0.82"/>
<circle cx="349.4" cy="104.3" r="1.85" fill="#CFAD88" fill-opacity="0.82"/>
<circle cx="406.5" cy="123.8" r="1.85" fill="#C4C4C4" fill-opacity="0.82"/>
<circle cx="338.5" cy="85.2" r="1.85" fill="#CFAD88" fill-opacity="0.82"/>
<circle cx="346.2" cy="102.0" r="1.85" fill="#C4C4C4" fill-opacity="0.82"/>
<circle cx="360.5" cy="100.5" r="1.85" fill="#80BCD3" fill-opacity="0.82"/>
<circle cx="359.1" cy="92.1" r="1.85" fill="#C4C4C4" fill-opacity="0.82"/>
<circle cx="345.4" cy="103.0" r="1.85" fill="#C4C4C4" fill-opacity="0.82"/>
<circle cx="348.2" cy="103.0" r="1.85" fill="#C4C4C4" fill-opacity="0.82"/>
<circle cx="363.5" cy="116.2" r="1.85" fill="#C4C4C4" fill-opacity="0.82"/>
<circle cx="373.0" cy="109.8" r="1.85" fill="#C4C4C4" fill-opacity="0.82"/>
<circle cx="308.8" cy="61.8" r="1.85" fill="#C4C4C4" fill-opacity="0.82"/>
<circle cx="378.8" cy="106.6" r="1.85" fill="#80BCD3" fill-opacity="0.82"/>
<circle cx="430.4" cy="160.0" r="1.85" fill="#CFAD88" fill-opacity="0.82"/>
<circle cx="347.0" cy="91.4" r="1.85" fill="#C4C4C4" fill-opacity="0.82"/>
<circle cx="337.0" cy="67.9" r="1.85" fill="#80BCD3" fill-opacity="0.82"/>
<circle cx="364.6" cy="120.5" r="1.85" fill="#C4C4C4" fill-opacity="0.82"/>
<circle cx="339.7" cy="84.0" r="1.85" fill="#CFAD88" fill-opacity="0.82"/>
<circle cx="370.8" cy="112.1" r="1.85" fill="#C4C4C4" fill-opacity="0.82"/>
<circle cx="350.6" cy="111.6" r="1.85" fill="#C4C4C4" fill-opacity="0.82"/>
<circle cx="355.7" cy="101.3" r="1.85" fill="#C4C4C4" fill-opacity="0.82"/>
<circle cx="370.6" cy="105.1" r="1.85" fill="#C4C4C4" fill-opacity="0.82"/>
<circle cx="383.5" cy="109.6" r="1.85" fill="#C4C4C4" fill-opacity="0.82"/>
<circle cx="326.6" cy="84.4" r="1.85" fill="#CFAD88" fill-opacity="0.82"/>
<circle cx="349.7" cy="100.0" r="1.85" fill="#C4C4C4" fill-opacity="0.82"/>
<circle cx="375.0" cy="122.5" r="1.85" fill="#C4C4C4" fill-opacity="0.82"/>
<circle cx="372.9" cy="123.9" r="1.85" fill="#C4C4C4" fill-opacity="0.82"/>
<circle cx="381.7" cy="103.3" r="1.85" fill="#CFAD88" fill-opacity="0.82"/>
<circle cx="343.0" cy="95.3" r="1.85" fill="#C4C4C4" fill-opacity="0.82"/>
<circle cx="361.1" cy="99.9" r="1.85" fill="#C4C4C4" fill-opacity="0.82"/>
<circle cx="376.6" cy="116.6" r="1.85" fill="#C4C4C4" fill-opacity="0.82"/>
<circle cx="388.0" cy="124.0" r="1.85" fill="#C4C4C4" fill-opacity="0.82"/>
<circle cx="376.4" cy="109.5" r="1.85" fill="#80BCD3" fill-opacity="0.82"/>
<circle cx="327.6" cy="83.8" r="1.85" fill="#CFAD88" fill-opacity="0.82"/>
<circle cx="395.7" cy="126.2" r="1.85" fill="#CFAD88" fill-opacity="0.82"/>
<circle cx="360.0" cy="91.5" r="1.85" fill="#80BCD3" fill-opacity="0.82"/>
<circle cx="338.0" cy="86.5" r="1.85" fill="#C4C4C4" fill-opacity="0.82"/>
<circle cx="356.5" cy="95.4" r="1.85" fill="#C4C4C4" fill-opacity="0.82"/>
<circle cx="372.5" cy="91.3" r="1.85" fill="#CFAD88" fill-opacity="0.82"/>
<circle cx="351.4" cy="99.4" r="1.85" fill="#C4C4C4" fill-opacity="0.82"/>
<circle cx="357.0" cy="86.6" r="1.85" fill="#80BCD3" fill-opacity="0.82"/>
<circle cx="397.6" cy="126.1" r="1.85" fill="#CFAD88" fill-opacity="0.82"/>
<circle cx="356.8" cy="111.9" r="1.85" fill="#C4C4C4" fill-opacity="0.82"/>
<circle cx="360.3" cy="98.3" r="1.85" fill="#C4C4C4" fill-opacity="0.82"/>
<circle cx="371.8" cy="109.5" r="1.85" fill="#80BCD3" fill-opacity="0.82"/>
<circle cx="352.0" cy="99.1" r="1.85" fill="#C4C4C4" fill-opacity="0.82"/>
<circle cx="364.8" cy="116.4" r="1.85" fill="#C4C4C4" fill-opacity="0.82"/>
<circle cx="376.5" cy="122.3" r="1.85" fill="#80BCD3" fill-opacity="0.82"/>
<circle cx="358.6" cy="104.3" r="1.85" fill="#80BCD3" fill-opacity="0.82"/>
<circle cx="341.6" cy="72.9" r="1.85" fill="#CFAD88" fill-opacity="0.82"/>
<circle cx="425.3" cy="131.2" r="1.85" fill="#C4C4C4" fill-opacity="0.82"/>
<circle cx="343.3" cy="83.2" r="1.85" fill="#CFAD88" fill-opacity="0.82"/>
<circle cx="338.0" cy="74.0" r="1.85" fill="#CFAD88" fill-opacity="0.82"/>
<circle cx="414.7" cy="124.8" r="1.85" fill="#C4C4C4" fill-opacity="0.82"/>
<circle cx="322.0" cy="77.0" r="1.85" fill="#C4C4C4" fill-opacity="0.82"/>
<circle cx="387.1" cy="141.9" r="1.85" fill="#C4C4C4" fill-opacity="0.82"/>
<circle cx="348.5" cy="91.2" r="1.85" fill="#CFAD88" fill-opacity="0.82"/>
<circle cx="397.8" cy="139.1" r="1.85" fill="#CFAD88" fill-opacity="0.82"/>
<circle cx="366.9" cy="95.6" r="1.85" fill="#C4C4C4" fill-opacity="0.82"/>
<circle cx="362.4" cy="80.4" r="1.85" fill="#CFAD88" fill-opacity="0.82"/>
<circle cx="344.3" cy="97.7" r="1.85" fill="#CFAD88" fill-opacity="0.82"/>
<circle cx="341.1" cy="81.2" r="1.85" fill="#C4C4C4" fill-opacity="0.82"/>
<circle cx="363.6" cy="99.9" r="1.85" fill="#80BCD3" fill-opacity="0.82"/>
<circle cx="354.2" cy="103.5" r="1.85" fill="#C4C4C4" fill-opacity="0.82"/>
<circle cx="333.2" cy="66.7" r="1.85" fill="#C4C4C4" fill-opacity="0.82"/>
<circle cx="383.0" cy="130.1" r="1.85" fill="#C4C4C4" fill-opacity="0.82"/>
<circle cx="312.3" cy="71.1" r="1.85" fill="#80BCD3" fill-opacity="0.82"/>
<circle cx="378.9" cy="115.6" r="1.85" fill="#C4C4C4" fill-opacity="0.82"/>
<circle cx="415.0" cy="144.8" r="1.85" fill="#C4C4C4" fill-opacity="0.82"/>
<circle cx="348.9" cy="85.9" r="1.85" fill="#CFAD88" fill-opacity="0.82"/>
<circle cx="389.1" cy="117.4" r="1.85" fill="#80BCD3" fill-opacity="0.82"/>
<circle cx="331.4" cy="97.8" r="1.85" fill="#C4C4C4" fill-opacity="0.82"/>
<circle cx="356.9" cy="101.1" r="1.85" fill="#C4C4C4" fill-opacity="0.82"/>
<circle cx="383.7" cy="135.5" r="1.85" fill="#C4C4C4" fill-opacity="0.82"/>
<circle cx="377.9" cy="117.7" r="1.85" fill="#80BCD3" fill-opacity="0.82"/>
<circle cx="395.8" cy="148.5" r="1.85" fill="#CFAD88" fill-opacity="0.82"/>
<circle cx="371.3" cy="106.7" r="1.85" fill="#C4C4C4" fill-opacity="0.82"/>
<circle cx="364.3" cy="111.5" r="1.85" fill="#C4C4C4" fill-opacity="0.82"/>
<circle cx="408.6" cy="142.0" r="1.85" fill="#CFAD88" fill-opacity="0.82"/>
<circle cx="368.5" cy="106.4" r="1.85" fill="#80BCD3" fill-opacity="0.82"/>
<circle cx="345.4" cy="94.2" r="1.85" fill="#C4C4C4" fill-opacity="0.82"/>
<circle cx="379.6" cy="119.4" r="1.85" fill="#C4C4C4" fill-opacity="0.82"/>
<circle cx="356.3" cy="104.9" r="1.85" fill="#C4C4C4" fill-opacity="0.82"/>
<circle cx="357.7" cy="109.5" r="1.85" fill="#C4C4C4" fill-opacity="0.82"/>
<circle cx="351.9" cy="95.2" r="1.85" fill="#80BCD3" fill-opacity="0.82"/>
<circle cx="355.3" cy="80.6" r="1.85" fill="#80BCD3" fill-opacity="0.82"/>
<circle cx="369.6" cy="106.0" r="1.85" fill="#CFAD88" fill-opacity="0.82"/>
<circle cx="382.7" cy="124.0" r="1.85" fill="#C4C4C4" fill-opacity="0.82"/>
<circle cx="369.3" cy="101.7" r="1.85" fill="#C4C4C4" fill-opacity="0.82"/>
<circle cx="382.8" cy="122.1" r="1.85" fill="#80BCD3" fill-opacity="0.82"/>
<circle cx="341.4" cy="95.3" r="1.85" fill="#C4C4C4" fill-opacity="0.82"/>
<circle cx="349.7" cy="104.9" r="1.85" fill="#C4C4C4" fill-opacity="0.82"/>
<circle cx="362.8" cy="99.8" r="1.85" fill="#80BCD3" fill-opacity="0.82"/>
<circle cx="334.1" cy="82.0" r="1.85" fill="#80BCD3" fill-opacity="0.82"/>
<circle cx="369.0" cy="103.0" r="1.85" fill="#CFAD88" fill-opacity="0.82"/>
<circle cx="368.0" cy="112.9" r="1.85" fill="#C4C4C4" fill-opacity="0.82"/>
<circle cx="394.9" cy="131.4" r="1.85" fill="#80BCD3" fill-opacity="0.82"/>
<circle cx="311.3" cy="66.4" r="1.85" fill="#80BCD3" fill-opacity="0.82"/>
<circle cx="354.6" cy="90.9" r="1.85" fill="#CFAD88" fill-opacity="0.82"/>
<circle cx="429.0" cy="151.1" r="1.85" fill="#C4C4C4" fill-opacity="0.82"/>
<circle cx="340.8" cy="84.3" r="1.85" fill="#CFAD88" fill-opacity="0.82"/>
<circle cx="349.0" cy="93.7" r="1.85" fill="#CFAD88" fill-opacity="0.82"/>
<circle cx="415.4" cy="158.9" r="1.85" fill="#CFAD88" fill-opacity="0.82"/>
<circle cx="373.6" cy="124.0" r="1.85" fill="#C4C4C4" fill-opacity="0.82"/>
<circle cx="385.7" cy="112.7" r="1.85" fill="#C4C4C4" fill-opacity="0.82"/>
<circle cx="377.8" cy="108.5" r="1.85" fill="#C4C4C4" fill-opacity="0.82"/>
<circle cx="368.7" cy="120.4" r="1.85" fill="#CFAD88" fill-opacity="0.82"/>
<circle cx="333.1" cy="84.4" r="1.85" fill="#80BCD3" fill-opacity="0.82"/>
<circle cx="381.3" cy="119.6" r="1.85" fill="#C4C4C4" fill-opacity="0.82"/>
<circle cx="418.6" cy="132.5" r="1.85" fill="#CFAD88" fill-opacity="0.82"/>
<circle cx="382.3" cy="120.0" r="1.85" fill="#C4C4C4" fill-opacity="0.82"/>
<circle cx="404.3" cy="127.2" r="1.85" fill="#80BCD3" fill-opacity="0.82"/>
<circle cx="356.9" cy="106.4" r="1.85" fill="#CFAD88" fill-opacity="0.82"/>
<circle cx="410.3" cy="154.3" r="1.85" fill="#C4C4C4" fill-opacity="0.82"/>
<circle cx="399.4" cy="134.5" r="1.85" fill="#80BCD3" fill-opacity="0.82"/>
<circle cx="378.0" cy="116.5" r="1.85" fill="#C4C4C4" fill-opacity="0.82"/>
<circle cx="382.0" cy="135.5" r="1.85" fill="#80BCD3" fill-opacity="0.82"/>
<circle cx="352.9" cy="97.0" r="1.85" fill="#C4C4C4" fill-opacity="0.82"/>
<circle cx="360.0" cy="99.8" r="1.85" fill="#C4C4C4" fill-opacity="0.82"/>
<circle cx="364.9" cy="96.3" r="1.85" fill="#CFAD88" fill-opacity="0.82"/>
<circle cx="368.1" cy="116.9" r="1.85" fill="#80BCD3" fill-opacity="0.82"/>
<circle cx="353.5" cy="106.8" r="1.85" fill="#C4C4C4" fill-opacity="0.82"/>
<circle cx="345.4" cy="102.9" r="1.85" fill="#C4C4C4" fill-opacity="0.82"/>
<circle cx="369.0" cy="117.8" r="1.85" fill="#80BCD3" fill-opacity="0.82"/>
<circle cx="348.9" cy="79.4" r="1.85" fill="#CFAD88" fill-opacity="0.82"/>
<circle cx="319.2" cy="58.8" r="1.85" fill="#80BCD3" fill-opacity="0.82"/>
<circle cx="364.5" cy="131.1" r="1.85" fill="#C4C4C4" fill-opacity="0.82"/>
<circle cx="350.6" cy="95.7" r="1.85" fill="#CFAD88" fill-opacity="0.82"/>
<circle cx="338.0" cy="84.6" r="1.85" fill="#C4C4C4" fill-opacity="0.82"/>
<circle cx="418.7" cy="153.7" r="1.85" fill="#CFAD88" fill-opacity="0.82"/>
<circle cx="350.6" cy="91.8" r="1.85" fill="#80BCD3" fill-opacity="0.82"/>
<circle cx="354.9" cy="101.5" r="1.85" fill="#80BCD3" fill-opacity="0.82"/>
<circle cx="365.3" cy="91.3" r="1.85" fill="#C4C4C4" fill-opacity="0.82"/>
<circle cx="372.9" cy="111.2" r="1.85" fill="#80BCD3" fill-opacity="0.82"/>
<circle cx="384.5" cy="123.7" r="1.85" fill="#C4C4C4" fill-opacity="0.82"/>
<circle cx="398.2" cy="112.6" r="1.85" fill="#C4C4C4" fill-opacity="0.82"/>
<circle cx="378.0" cy="109.0" r="1.85" fill="#80BCD3" fill-opacity="0.82"/>
<circle cx="323.5" cy="66.4" r="1.85" fill="#80BCD3" fill-opacity="0.82"/>
<circle cx="421.9" cy="147.0" r="1.85" fill="#CFAD88" fill-opacity="0.82"/>
<circle cx="378.1" cy="105.7" r="1.85" fill="#80BCD3" fill-opacity="0.82"/>
<circle cx="374.0" cy="127.9" r="1.85" fill="#CFAD88" fill-opacity="0.82"/>
<circle cx="386.6" cy="125.9" r="1.85" fill="#CFAD88" fill-opacity="0.82"/>
<circle cx="390.9" cy="133.3" r="1.85" fill="#CFAD88" fill-opacity="0.82"/>
<circle cx="379.6" cy="127.6" r="1.85" fill="#CFAD88" fill-opacity="0.82"/>
<circle cx="324.5" cy="90.7" r="1.85" fill="#CFAD88" fill-opacity="0.82"/>
<circle cx="361.3" cy="105.0" r="1.85" fill="#C4C4C4" fill-opacity="0.82"/>
<circle cx="413.9" cy="133.0" r="1.85" fill="#CFAD88" fill-opacity="0.82"/>
<circle cx="364.4" cy="108.2" r="1.85" fill="#C4C4C4" fill-opacity="0.82"/>
<circle cx="382.5" cy="112.9" r="1.85" fill="#C4C4C4" fill-opacity="0.82"/>
<circle cx="378.9" cy="133.5" r="1.85" fill="#80BCD3" fill-opacity="0.82"/>
<circle cx="398.5" cy="121.6" r="1.85" fill="#C4C4C4" fill-opacity="0.82"/>
<circle cx="366.4" cy="95.7" r="1.85" fill="#C4C4C4" fill-opacity="0.82"/>
<circle cx="344.9" cy="78.8" r="1.85" fill="#C4C4C4" fill-opacity="0.82"/>
<circle cx="370.6" cy="115.4" r="1.85" fill="#CFAD88" fill-opacity="0.82"/>
<circle cx="368.9" cy="95.8" r="1.85" fill="#CFAD88" fill-opacity="0.82"/>
<circle cx="363.2" cy="107.3" r="1.85" fill="#C4C4C4" fill-opacity="0.82"/>
<circle cx="381.8" cy="139.7" r="1.85" fill="#CFAD88" fill-opacity="0.82"/>
<circle cx="346.3" cy="98.5" r="1.85" fill="#80BCD3" fill-opacity="0.82"/>
<circle cx="394.8" cy="120.3" r="1.85" fill="#C4C4C4" fill-opacity="0.82"/>
<circle cx="371.5" cy="112.8" r="1.85" fill="#C4C4C4" fill-opacity="0.82"/>
<circle cx="369.2" cy="98.8" r="1.85" fill="#C4C4C4" fill-opacity="0.82"/>
<circle cx="361.2" cy="92.4" r="1.85" fill="#C4C4C4" fill-opacity="0.82"/>
<circle cx="352.0" cy="100.0" r="1.85" fill="#C4C4C4" fill-opacity="0.82"/>
<circle cx="343.8" cy="101.6" r="1.85" fill="#CFAD88" fill-opacity="0.82"/>
<circle cx="332.5" cy="98.0" r="1.85" fill="#C4C4C4" fill-opacity="0.82"/>
<circle cx="367.4" cy="107.2" r="1.85" fill="#C4C4C4" fill-opacity="0.82"/>
<circle cx="335.8" cy="100.2" r="1.85" fill="#C4C4C4" fill-opacity="0.82"/>
<circle cx="345.0" cy="90.1" r="1.85" fill="#C4C4C4" fill-opacity="0.82"/>
<circle cx="377.8" cy="103.6" r="1.85" fill="#C4C4C4" fill-opacity="0.82"/>
<circle cx="412.4" cy="133.8" r="1.85" fill="#80BCD3" fill-opacity="0.82"/>
<circle cx="344.5" cy="76.8" r="1.85" fill="#80BCD3" fill-opacity="0.82"/>
<circle cx="372.1" cy="112.1" r="1.85" fill="#C4C4C4" fill-opacity="0.82"/>
<circle cx="411.0" cy="151.9" r="1.85" fill="#CFAD88" fill-opacity="0.82"/>
<circle cx="353.0" cy="88.2" r="1.85" fill="#C4C4C4" fill-opacity="0.82"/>
<circle cx="362.6" cy="130.6" r="1.85" fill="#C4C4C4" fill-opacity="0.82"/>
<circle cx="358.2" cy="100.2" r="1.85" fill="#C4C4C4" fill-opacity="0.82"/>
<circle cx="375.0" cy="114.5" r="1.85" fill="#C4C4C4" fill-opacity="0.82"/>
<circle cx="360.6" cy="110.5" r="1.85" fill="#C4C4C4" fill-opacity="0.82"/>
<circle cx="322.0" cy="74.6" r="1.85" fill="#C4C4C4" fill-opacity="0.82"/>
<circle cx="358.4" cy="114.5" r="1.85" fill="#C4C4C4" fill-opacity="0.82"/>
<circle cx="351.7" cy="99.0" r="1.85" fill="#80BCD3" fill-opacity="0.82"/>
<circle cx="393.4" cy="129.4" r="1.85" fill="#CFAD88" fill-opacity="0.82"/>
<circle cx="402.9" cy="124.6" r="1.85" fill="#C4C4C4" fill-opacity="0.82"/>
<circle cx="356.4" cy="104.8" r="1.85" fill="#C4C4C4" fill-opacity="0.82"/>
<circle cx="362.6" cy="98.1" r="1.85" fill="#80BCD3" fill-opacity="0.82"/>
<circle cx="373.9" cy="120.3" r="1.85" fill="#C4C4C4" fill-opacity="0.82"/>
<circle cx="324.0" cy="60.4" r="1.85" fill="#C4C4C4" fill-opacity="0.82"/>
<circle cx="379.5" cy="123.1" r="1.85" fill="#C4C4C4" fill-opacity="0.82"/>
<circle cx="380.5" cy="106.9" r="1.85" fill="#80BCD3" fill-opacity="0.82"/>
<circle cx="387.4" cy="117.0" r="1.85" fill="#CFAD88" fill-opacity="0.82"/>
<circle cx="378.7" cy="120.5" r="1.85" fill="#C4C4C4" fill-opacity="0.82"/>
<circle cx="396.1" cy="122.9" r="1.85" fill="#C4C4C4" fill-opacity="0.82"/>
<circle cx="379.0" cy="115.5" r="1.85" fill="#C4C4C4" fill-opacity="0.82"/>
<circle cx="424.9" cy="160.1" r="1.85" fill="#CFAD88" fill-opacity="0.82"/>
<circle cx="380.6" cy="128.8" r="1.85" fill="#C4C4C4" fill-opacity="0.82"/>
<circle cx="404.0" cy="150.9" r="1.85" fill="#CFAD88" fill-opacity="0.82"/>
<circle cx="383.7" cy="130.0" r="1.85" fill="#C4C4C4" fill-opacity="0.82"/>
<circle cx="354.4" cy="101.4" r="1.85" fill="#C4C4C4" fill-opacity="0.82"/>
<circle cx="355.5" cy="92.4" r="1.85" fill="#80BCD3" fill-opacity="0.82"/>
<circle cx="347.1" cy="102.7" r="1.85" fill="#80BCD3" fill-opacity="0.82"/>
<circle cx="378.0" cy="115.9" r="1.85" fill="#C4C4C4" fill-opacity="0.82"/>
<circle cx="326.5" cy="98.8" r="1.85" fill="#C4C4C4" fill-opacity="0.82"/>
<circle cx="318.0" cy="74.4" r="1.85" fill="#C4C4C4" fill-opacity="0.82"/>
<circle cx="326.6" cy="82.3" r="1.85" fill="#C4C4C4" fill-opacity="0.82"/>
<circle cx="415.8" cy="149.1" r="1.85" fill="#C4C4C4" fill-opacity="0.82"/>
<circle cx="395.9" cy="128.1" r="1.85" fill="#CFAD88" fill-opacity="0.82"/>
<circle cx="403.1" cy="156.1" r="1.85" fill="#CFAD88" fill-opacity="0.82"/>
<circle cx="396.6" cy="123.1" r="1.85" fill="#C4C4C4" fill-opacity="0.82"/>
<circle cx="369.4" cy="114.9" r="1.85" fill="#C4C4C4" fill-opacity="0.82"/>
<circle cx="422.5" cy="141.3" r="1.85" fill="#C4C4C4" fill-opacity="0.82"/>
<circle cx="385.8" cy="116.1" r="1.85" fill="#C4C4C4" fill-opacity="0.82"/>
<circle cx="333.3" cy="90.4" r="1.85" fill="#C4C4C4" fill-opacity="0.82"/>
<circle cx="356.0" cy="96.8" r="1.85" fill="#80BCD3" fill-opacity="0.82"/>
<circle cx="423.0" cy="136.4" r="1.85" fill="#CFAD88" fill-opacity="0.82"/>
<circle cx="319.4" cy="74.7" r="1.85" fill="#C4C4C4" fill-opacity="0.82"/>
<circle cx="342.1" cy="89.3" r="1.85" fill="#C4C4C4" fill-opacity="0.82"/>
<circle cx="372.2" cy="107.4" r="1.85" fill="#C4C4C4" fill-opacity="0.82"/>
<circle cx="387.7" cy="140.2" r="1.85" fill="#C4C4C4" fill-opacity="0.82"/>
<circle cx="364.9" cy="109.2" r="1.85" fill="#C4C4C4" fill-opacity="0.82"/>
<circle cx="378.0" cy="117.5" r="1.85" fill="#CFAD88" fill-opacity="0.82"/>
<circle cx="384.6" cy="125.2" r="1.85" fill="#CFAD88" fill-opacity="0.82"/>
<circle cx="360.1" cy="106.1" r="1.85" fill="#80BCD3" fill-opacity="0.82"/>
<circle cx="424.4" cy="137.2" r="1.85" fill="#80BCD3" fill-opacity="0.82"/>
<circle cx="379.8" cy="121.4" r="1.85" fill="#CFAD88" fill-opacity="0.82"/>
<circle cx="365.4" cy="96.1" r="1.85" fill="#C4C4C4" fill-opacity="0.82"/>
<circle cx="383.9" cy="122.6" r="1.85" fill="#CFAD88" fill-opacity="0.82"/>
<circle cx="358.5" cy="101.3" r="1.85" fill="#C4C4C4" fill-opacity="0.82"/>
<circle cx="420.0" cy="150.5" r="1.85" fill="#CFAD88" fill-opacity="0.82"/>
<circle cx="347.9" cy="109.7" r="1.85" fill="#CFAD88" fill-opacity="0.82"/>
<circle cx="355.1" cy="94.5" r="1.85" fill="#80BCD3" fill-opacity="0.82"/>
<circle cx="411.7" cy="163.4" r="1.85" fill="#CFAD88" fill-opacity="0.82"/>
<circle cx="361.7" cy="121.7" r="1.85" fill="#CFAD88" fill-opacity="0.82"/>
<circle cx="408.8" cy="153.5" r="1.85" fill="#CFAD88" fill-opacity="0.82"/>
<circle cx="385.2" cy="110.4" r="1.85" fill="#C4C4C4" fill-opacity="0.82"/>
<circle cx="380.9" cy="111.1" r="1.85" fill="#C4C4C4" fill-opacity="0.82"/>
<circle cx="361.2" cy="110.8" r="1.85" fill="#C4C4C4" fill-opacity="0.82"/>
<circle cx="398.6" cy="133.6" r="1.85" fill="#80BCD3" fill-opacity="0.82"/>
<circle cx="375.6" cy="106.9" r="1.85" fill="#C4C4C4" fill-opacity="0.82"/>
<circle cx="402.5" cy="138.5" r="1.85" fill="#80BCD3" fill-opacity="0.82"/>
<circle cx="352.2" cy="124.7" r="1.85" fill="#CFAD88" fill-opacity="0.82"/>
<circle cx="383.6" cy="110.9" r="1.85" fill="#CFAD88" fill-opacity="0.82"/>
<circle cx="374.4" cy="100.6" r="1.85" fill="#C4C4C4" fill-opacity="0.82"/>
<circle cx="359.2" cy="98.0" r="1.85" fill="#80BCD3" fill-opacity="0.82"/>
<circle cx="330.8" cy="93.3" r="1.85" fill="#80BCD3" fill-opacity="0.82"/>
<circle cx="373.3" cy="129.3" r="1.85" fill="#C4C4C4" fill-opacity="0.82"/>
<circle cx="330.2" cy="85.8" r="1.85" fill="#CFAD88" fill-opacity="0.82"/>
<circle cx="400.7" cy="128.3" r="1.85" fill="#C4C4C4" fill-opacity="0.82"/>
<circle cx="405.9" cy="145.0" r="1.85" fill="#CFAD88" fill-opacity="0.82"/>
<circle cx="424.9" cy="144.9" r="1.85" fill="#CFAD88" fill-opacity="0.82"/>
<circle cx="396.7" cy="122.4" r="1.85" fill="#80BCD3" fill-opacity="0.82"/>
<circle cx="369.2" cy="119.4" r="1.85" fill="#CFAD88" fill-opacity="0.82"/>
<circle cx="421.0" cy="148.5" r="1.85" fill="#CFAD88" fill-opacity="0.82"/>
<circle cx="322.1" cy="68.8" r="1.85" fill="#80BCD3" fill-opacity="0.82"/>
<circle cx="356.0" cy="102.6" r="1.85" fill="#C4C4C4" fill-opacity="0.82"/>
<circle cx="382.4" cy="132.5" r="1.85" fill="#CFAD88" fill-opacity="0.82"/>
<circle cx="330.9" cy="80.6" r="1.85" fill="#C4C4C4" fill-opacity="0.82"/>
<circle cx="365.0" cy="126.0" r="1.85" fill="#80BCD3" fill-opacity="0.82"/>
<circle cx="369.8" cy="109.4" r="1.85" fill="#80BCD3" fill-opacity="0.82"/>
<circle cx="362.5" cy="108.2" r="1.85" fill="#80BCD3" fill-opacity="0.82"/>
<circle cx="339.4" cy="111.6" r="1.85" fill="#C4C4C4" fill-opacity="0.82"/>
<circle cx="401.5" cy="126.2" r="1.85" fill="#80BCD3" fill-opacity="0.82"/>
<circle cx="388.8" cy="121.5" r="1.85" fill="#C4C4C4" fill-opacity="0.82"/>
<circle cx="420.6" cy="144.0" r="1.85" fill="#CFAD88" fill-opacity="0.82"/>
<circle cx="348.5" cy="94.8" r="1.85" fill="#C4C4C4" fill-opacity="0.82"/>
<circle cx="353.0" cy="104.0" r="1.85" fill="#CFAD88" fill-opacity="0.82"/>
<circle cx="413.5" cy="157.4" r="1.85" fill="#C4C4C4" fill-opacity="0.82"/>
<circle cx="334.1" cy="84.3" r="1.85" fill="#C4C4C4" fill-opacity="0.82"/>
<circle cx="373.4" cy="113.7" r="1.85" fill="#C4C4C4" fill-opacity="0.82"/>
<circle cx="340.3" cy="82.0" r="1.85" fill="#C4C4C4" fill-opacity="0.82"/>
<circle cx="380.3" cy="116.5" r="1.85" fill="#C4C4C4" fill-opacity="0.82"/>
<circle cx="386.4" cy="142.8" r="1.85" fill="#CFAD88" fill-opacity="0.82"/>
<circle cx="386.7" cy="117.7" r="1.85" fill="#C4C4C4" fill-opacity="0.82"/>
<circle cx="370.6" cy="110.4" r="1.85" fill="#C4C4C4" fill-opacity="0.82"/>
<circle cx="371.6" cy="114.4" r="1.85" fill="#CFAD88" fill-opacity="0.82"/>
<circle cx="368.6" cy="126.0" r="1.85" fill="#80BCD3" fill-opacity="0.82"/>
<circle cx="335.2" cy="81.1" r="1.85" fill="#CFAD88" fill-opacity="0.82"/>
<circle cx="418.0" cy="139.8" r="1.85" fill="#CFAD88" fill-opacity="0.82"/>
<circle cx="353.5" cy="112.0" r="1.85" fill="#C4C4C4" fill-opacity="0.82"/>
<circle cx="381.8" cy="117.1" r="1.85" fill="#C4C4C4" fill-opacity="0.82"/>
<circle cx="366.0" cy="124.7" r="1.85" fill="#CFAD88" fill-opacity="0.82"/>
<circle cx="408.8" cy="135.8" r="1.85" fill="#CFAD88" fill-opacity="0.82"/>
<circle cx="377.5" cy="114.2" r="1.85" fill="#CFAD88" fill-opacity="0.82"/>
<circle cx="367.1" cy="97.5" r="1.85" fill="#CFAD88" fill-opacity="0.82"/>
<circle cx="363.2" cy="107.7" r="1.85" fill="#80BCD3" fill-opacity="0.82"/>
<circle cx="336.0" cy="81.5" r="1.85" fill="#80BCD3" fill-opacity="0.82"/>
<circle cx="383.8" cy="105.9" r="1.85" fill="#C4C4C4" fill-opacity="0.82"/>
<circle cx="371.9" cy="112.4" r="1.85" fill="#C4C4C4" fill-opacity="0.82"/>
<circle cx="383.6" cy="105.0" r="1.85" fill="#80BCD3" fill-opacity="0.82"/>
<circle cx="380.1" cy="116.4" r="1.85" fill="#CFAD88" fill-opacity="0.82"/>
<circle cx="392.6" cy="122.3" r="1.85" fill="#CFAD88" fill-opacity="0.82"/>
<circle cx="394.8" cy="143.2" r="1.85" fill="#CFAD88" fill-opacity="0.82"/>
<circle cx="345.0" cy="76.7" r="1.85" fill="#C4C4C4" fill-opacity="0.82"/>
<circle cx="361.3" cy="96.5" r="1.85" fill="#CFAD88" fill-opacity="0.82"/>
<circle cx="341.9" cy="80.9" r="1.85" fill="#C4C4C4" fill-opacity="0.82"/>
<circle cx="362.6" cy="103.6" r="1.85" fill="#CFAD88" fill-opacity="0.82"/>
<circle cx="387.1" cy="124.6" r="1.85" fill="#80BCD3" fill-opacity="0.82"/>
<circle cx="368.4" cy="115.7" r="1.85" fill="#C4C4C4" fill-opacity="0.82"/>
<circle cx="364.6" cy="103.4" r="1.85" fill="#CFAD88" fill-opacity="0.82"/>
<circle cx="353.5" cy="91.0" r="1.85" fill="#80BCD3" fill-opacity="0.82"/>
<circle cx="352.6" cy="90.4" r="1.85" fill="#C4C4C4" fill-opacity="0.82"/>
<circle cx="355.0" cy="80.8" r="1.85" fill="#C4C4C4" fill-opacity="0.82"/>
<circle cx="372.5" cy="120.6" r="1.85" fill="#80BCD3" fill-opacity="0.82"/>
<circle cx="370.2" cy="119.8" r="1.85" fill="#CFAD88" fill-opacity="0.82"/>
<circle cx="412.2" cy="124.1" r="1.85" fill="#CFAD88" fill-opacity="0.82"/>
<circle cx="411.3" cy="148.0" r="1.85" fill="#CFAD88" fill-opacity="0.82"/>
<circle cx="385.8" cy="115.7" r="1.85" fill="#CFAD88" fill-opacity="0.82"/>
<circle cx="375.1" cy="117.1" r="1.85" fill="#C4C4C4" fill-opacity="0.82"/>
<circle cx="355.5" cy="107.6" r="1.85" fill="#80BCD3" fill-opacity="0.82"/>
<circle cx="369.4" cy="127.8" r="1.85" fill="#80BCD3" fill-opacity="0.82"/>
<circle cx="380.7" cy="103.8" r="1.85" fill="#C4C4C4" fill-opacity="0.82"/>
<circle cx="317.4" cy="65.5" r="1.85" fill="#C4C4C4" fill-opacity="0.82"/>
<circle cx="361.1" cy="117.9" r="1.85" fill="#C4C4C4" fill-opacity="0.82"/>
<circle cx="348.3" cy="86.3" r="1.85" fill="#CFAD88" fill-opacity="0.82"/>
<circle cx="402.3" cy="137.6" r="1.85" fill="#80BCD3" fill-opacity="0.82"/>
<circle cx="356.0" cy="104.6" r="1.85" fill="#CFAD88" fill-opacity="0.82"/>
<circle cx="386.4" cy="119.3" r="1.85" fill="#C4C4C4" fill-opacity="0.82"/>
<circle cx="330.5" cy="85.9" r="1.85" fill="#C4C4C4" fill-opacity="0.82"/>
<circle cx="360.5" cy="110.5" r="1.85" fill="#C4C4C4" fill-opacity="0.82"/>
<circle cx="387.9" cy="119.0" r="1.85" fill="#C4C4C4" fill-opacity="0.82"/>
<circle cx="375.4" cy="109.4" r="1.85" fill="#80BCD3" fill-opacity="0.82"/>
<circle cx="327.9" cy="75.0" r="1.85" fill="#C4C4C4" fill-opacity="0.82"/>
<circle cx="363.2" cy="96.1" r="1.85" fill="#80BCD3" fill-opacity="0.82"/>
<circle cx="367.9" cy="98.0" r="1.85" fill="#CFAD88" fill-opacity="0.82"/>
<circle cx="377.1" cy="128.3" r="1.85" fill="#CFAD88" fill-opacity="0.82"/>
<circle cx="343.6" cy="113.7" r="1.85" fill="#C4C4C4" fill-opacity="0.82"/>
<circle cx="393.9" cy="126.4" r="1.85" fill="#C4C4C4" fill-opacity="0.82"/>
<circle cx="372.6" cy="99.1" r="1.85" fill="#C4C4C4" fill-opacity="0.82"/>
<circle cx="360.1" cy="109.2" r="1.85" fill="#C4C4C4" fill-opacity="0.82"/>
<circle cx="415.3" cy="151.8" r="1.85" fill="#CFAD88" fill-opacity="0.82"/>
<circle cx="382.9" cy="119.0" r="1.85" fill="#C4C4C4" fill-opacity="0.82"/>
<circle cx="365.4" cy="112.3" r="1.85" fill="#CFAD88" fill-opacity="0.82"/>
<circle cx="369.2" cy="102.1" r="1.85" fill="#80BCD3" fill-opacity="0.82"/>
<circle cx="342.8" cy="101.3" r="1.85" fill="#C4C4C4" fill-opacity="0.82"/>
<circle cx="367.8" cy="89.8" r="1.85" fill="#CFAD88" fill-opacity="0.82"/>
<circle cx="376.6" cy="115.0" r="1.85" fill="#C4C4C4" fill-opacity="0.82"/>
<circle cx="337.7" cy="80.4" r="1.85" fill="#80BCD3" fill-opacity="0.82"/>
<circle cx="407.9" cy="138.7" r="1.85" fill="#C4C4C4" fill-opacity="0.82"/>
<circle cx="380.7" cy="109.6" r="1.85" fill="#C4C4C4" fill-opacity="0.82"/>
<circle cx="403.1" cy="142.1" r="1.85" fill="#C4C4C4" fill-opacity="0.82"/>
<circle cx="356.3" cy="106.4" r="1.85" fill="#C4C4C4" fill-opacity="0.82"/>
<circle cx="385.2" cy="115.0" r="1.85" fill="#CFAD88" fill-opacity="0.82"/>
<circle cx="384.6" cy="125.8" r="1.85" fill="#C4C4C4" fill-opacity="0.82"/>
<circle cx="331.2" cy="71.4" r="1.85" fill="#CFAD88" fill-opacity="0.82"/>
<circle cx="387.4" cy="109.8" r="1.85" fill="#CFAD88" fill-opacity="0.82"/>
<circle cx="397.5" cy="128.6" r="1.85" fill="#C4C4C4" fill-opacity="0.82"/>
<circle cx="351.8" cy="108.5" r="1.85" fill="#C4C4C4" fill-opacity="0.82"/>
<circle cx="359.4" cy="103.3" r="1.85" fill="#C4C4C4" fill-opacity="0.82"/>
<circle cx="320.3" cy="88.7" r="1.85" fill="#C4C4C4" fill-opacity="0.82"/>
<circle cx="365.3" cy="88.5" r="1.85" fill="#CFAD88" fill-opacity="0.82"/>
<circle cx="376.1" cy="113.6" r="1.85" fill="#CFAD88" fill-opacity="0.82"/>
<circle cx="372.8" cy="124.6" r="1.85" fill="#80BCD3" fill-opacity="0.82"/>
<circle cx="320.3" cy="70.0" r="1.85" fill="#80BCD3" fill-opacity="0.82"/>
<circle cx="363.6" cy="104.0" r="1.85" fill="#80BCD3" fill-opacity="0.82"/>
<circle cx="354.7" cy="105.5" r="1.85" fill="#C4C4C4" fill-opacity="0.82"/>
<circle cx="358.9" cy="100.1" r="1.85" fill="#CFAD88" fill-opacity="0.82"/>
<circle cx="352.2" cy="93.3" r="1.85" fill="#CFAD88" fill-opacity="0.82"/>
<circle cx="332.9" cy="88.2" r="1.85" fill="#80BCD3" fill-opacity="0.82"/>
<circle cx="337.6" cy="80.9" r="1.85" fill="#C4C4C4" fill-opacity="0.82"/>
<circle cx="360.5" cy="96.2" r="1.85" fill="#CFAD88" fill-opacity="0.82"/>
<circle cx="343.7" cy="100.8" r="1.85" fill="#CFAD88" fill-opacity="0.82"/>
<circle cx="405.7" cy="155.4" r="1.85" fill="#C4C4C4" fill-opacity="0.82"/>
<circle cx="361.7" cy="90.9" r="1.85" fill="#C4C4C4" fill-opacity="0.82"/>
<circle cx="359.0" cy="83.9" r="1.85" fill="#C4C4C4" fill-opacity="0.82"/>
<circle cx="375.7" cy="102.2" r="1.85" fill="#80BCD3" fill-opacity="0.82"/>
<circle cx="410.3" cy="148.5" r="1.85" fill="#C4C4C4" fill-opacity="0.82"/>
<circle cx="356.1" cy="88.2" r="1.85" fill="#CFAD88" fill-opacity="0.82"/>
<circle cx="372.0" cy="117.7" r="1.85" fill="#C4C4C4" fill-opacity="0.82"/>
<circle cx="374.8" cy="99.6" r="1.85" fill="#C4C4C4" fill-opacity="0.82"/>
<circle cx="358.2" cy="81.4" r="1.85" fill="#C4C4C4" fill-opacity="0.82"/>
<circle cx="408.3" cy="148.2" r="1.85" fill="#C4C4C4" fill-opacity="0.82"/>
<circle cx="383.8" cy="130.4" r="1.85" fill="#80BCD3" fill-opacity="0.82"/>
<circle cx="341.4" cy="83.7" r="1.85" fill="#C4C4C4" fill-opacity="0.82"/>
<circle cx="384.7" cy="108.8" r="1.85" fill="#C4C4C4" fill-opacity="0.82"/>
<circle cx="310.3" cy="64.2" r="1.85" fill="#CFAD88" fill-opacity="0.82"/>
<circle cx="373.6" cy="121.8" r="1.85" fill="#CFAD88" fill-opacity="0.82"/>
<circle cx="395.3" cy="118.8" r="1.85" fill="#CFAD88" fill-opacity="0.82"/>
<circle cx="346.2" cy="103.9" r="1.85" fill="#80BCD3" fill-opacity="0.82"/>
<circle cx="391.3" cy="139.6" r="1.85" fill="#80BCD3" fill-opacity="0.82"/>
<circle cx="349.0" cy="109.5" r="1.85" fill="#CFAD88" fill-opacity="0.82"/>
<circle cx="367.1" cy="106.8" r="1.85" fill="#80BCD3" fill-opacity="0.82"/>
<circle cx="397.3" cy="126.8" r="1.85" fill="#C4C4C4" fill-opacity="0.82"/>
<circle cx="366.4" cy="120.8" r="1.85" fill="#CFAD88" fill-opacity="0.82"/>
<circle cx="350.5" cy="99.7" r="1.85" fill="#C4C4C4" fill-opacity="0.82"/>
<circle cx="371.1" cy="103.0" r="1.85" fill="#CFAD88" fill-opacity="0.82"/>
<circle cx="380.2" cy="113.7" r="1.85" fill="#C4C4C4" fill-opacity="0.82"/>
<circle cx="342.5" cy="110.6" r="1.85" fill="#CFAD88" fill-opacity="0.82"/>
<circle cx="364.1" cy="117.7" r="1.85" fill="#CFAD88" fill-opacity="0.82"/>
<circle cx="344.1" cy="86.8" r="1.85" fill="#C4C4C4" fill-opacity="0.82"/>
<circle cx="411.2" cy="154.7" r="1.85" fill="#C4C4C4" fill-opacity="0.82"/>
<circle cx="352.5" cy="100.9" r="1.85" fill="#C4C4C4" fill-opacity="0.82"/>
<circle cx="371.5" cy="117.0" r="1.85" fill="#80BCD3" fill-opacity="0.82"/>
<circle cx="367.9" cy="106.2" r="1.85" fill="#80BCD3" fill-opacity="0.82"/>
<circle cx="398.3" cy="133.6" r="1.85" fill="#C4C4C4" fill-opacity="0.82"/>
<circle cx="428.5" cy="146.0" r="1.85" fill="#CFAD88" fill-opacity="0.82"/>
<circle cx="360.5" cy="83.2" r="1.85" fill="#C4C4C4" fill-opacity="0.82"/>
<circle cx="354.9" cy="87.1" r="1.85" fill="#C4C4C4" fill-opacity="0.82"/>
<circle cx="388.1" cy="110.9" r="1.85" fill="#80BCD3" fill-opacity="0.82"/>
<circle cx="372.6" cy="120.1" r="1.85" fill="#C4C4C4" fill-opacity="0.82"/>
<circle cx="387.1" cy="123.3" r="1.85" fill="#CFAD88" fill-opacity="0.82"/>
<circle cx="360.7" cy="121.7" r="1.85" fill="#C4C4C4" fill-opacity="0.82"/>
<circle cx="374.6" cy="103.2" r="1.85" fill="#C4C4C4" fill-opacity="0.82"/>
<circle cx="351.2" cy="86.0" r="1.85" fill="#C4C4C4" fill-opacity="0.82"/>
<circle cx="330.8" cy="80.7" r="1.85" fill="#80BCD3" fill-opacity="0.82"/>
<circle cx="335.2" cy="83.3" r="1.85" fill="#CFAD88" fill-opacity="0.82"/>
<circle cx="403.2" cy="158.7" r="1.85" fill="#CFAD88" fill-opacity="0.82"/>
<circle cx="329.4" cy="64.9" r="1.85" fill="#80BCD3" fill-opacity="0.82"/>
<circle cx="359.4" cy="106.7" r="1.85" fill="#C4C4C4" fill-opacity="0.82"/>
<circle cx="355.0" cy="90.2" r="1.85" fill="#80BCD3" fill-opacity="0.82"/>
<circle cx="356.3" cy="109.9" r="1.85" fill="#C4C4C4" fill-opacity="0.82"/>
<circle cx="387.8" cy="114.9" r="1.85" fill="#C4C4C4" fill-opacity="0.82"/>
<circle cx="365.6" cy="114.8" r="1.85" fill="#80BCD3" fill-opacity="0.82"/>
<circle cx="368.1" cy="112.9" r="1.85" fill="#C4C4C4" fill-opacity="0.82"/>
<circle cx="360.2" cy="106.9" r="1.85" fill="#CFAD88" fill-opacity="0.82"/>
<circle cx="356.0" cy="98.3" r="1.85" fill="#C4C4C4" fill-opacity="0.82"/>
<circle cx="339.3" cy="79.2" r="1.85" fill="#C4C4C4" fill-opacity="0.82"/>
<circle cx="372.1" cy="131.9" r="1.85" fill="#CFAD88" fill-opacity="0.82"/>
<circle cx="361.4" cy="88.3" r="1.85" fill="#CFAD88" fill-opacity="0.82"/>
<circle cx="369.8" cy="101.3" r="1.85" fill="#C4C4C4" fill-opacity="0.82"/>
<circle cx="345.1" cy="103.2" r="1.85" fill="#C4C4C4" fill-opacity="0.82"/>
<circle cx="372.3" cy="102.2" r="1.85" fill="#CFAD88" fill-opacity="0.82"/>
<circle cx="395.6" cy="138.3" r="1.85" fill="#CFAD88" fill-opacity="0.82"/>
<circle cx="318.8" cy="77.6" r="1.85" fill="#CFAD88" fill-opacity="0.82"/>
<circle cx="329.1" cy="81.9" r="1.85" fill="#CFAD88" fill-opacity="0.82"/>
<circle cx="349.9" cy="101.0" r="1.85" fill="#C4C4C4" fill-opacity="0.82"/>
<circle cx="368.5" cy="116.1" r="1.85" fill="#C4C4C4" fill-opacity="0.82"/>
<circle cx="394.9" cy="131.4" r="1.85" fill="#C4C4C4" fill-opacity="0.82"/>
<circle cx="293.0" cy="53.2" r="1.85" fill="#C4C4C4" fill-opacity="0.82"/>
<circle cx="375.3" cy="122.1" r="1.85" fill="#C4C4C4" fill-opacity="0.82"/>
<circle cx="415.3" cy="167.1" r="1.85" fill="#CFAD88" fill-opacity="0.82"/>
<circle cx="373.5" cy="107.4" r="1.85" fill="#C4C4C4" fill-opacity="0.82"/>
<circle cx="381.1" cy="123.0" r="1.85" fill="#C4C4C4" fill-opacity="0.82"/>
<circle cx="357.6" cy="97.5" r="1.85" fill="#80BCD3" fill-opacity="0.82"/>
<circle cx="341.0" cy="91.3" r="1.85" fill="#CFAD88" fill-opacity="0.82"/>
<circle cx="360.8" cy="127.1" r="1.85" fill="#CFAD88" fill-opacity="0.82"/>
<circle cx="375.9" cy="111.4" r="1.85" fill="#CFAD88" fill-opacity="0.82"/>
<circle cx="410.8" cy="148.5" r="1.85" fill="#C4C4C4" fill-opacity="0.82"/>
<circle cx="375.0" cy="127.9" r="1.85" fill="#C4C4C4" fill-opacity="0.82"/>
<circle cx="374.2" cy="112.5" r="1.85" fill="#80BCD3" fill-opacity="0.82"/>
<circle cx="373.0" cy="107.4" r="1.85" fill="#80BCD3" fill-opacity="0.82"/>
<circle cx="412.8" cy="140.2" r="1.85" fill="#CFAD88" fill-opacity="0.82"/>
<circle cx="322.7" cy="63.5" r="1.85" fill="#C4C4C4" fill-opacity="0.82"/>
<circle cx="342.5" cy="88.2" r="1.85" fill="#C4C4C4" fill-opacity="0.82"/>
<circle cx="380.5" cy="120.9" r="1.85" fill="#C4C4C4" fill-opacity="0.82"/>
<circle cx="349.7" cy="109.9" r="1.85" fill="#C4C4C4" fill-opacity="0.82"/>
<circle cx="382.7" cy="117.4" r="1.85" fill="#C4C4C4" fill-opacity="0.82"/>
<circle cx="376.4" cy="106.3" r="1.85" fill="#CFAD88" fill-opacity="0.82"/>
<circle cx="365.7" cy="100.0" r="1.85" fill="#C4C4C4" fill-opacity="0.82"/>
<circle cx="360.5" cy="97.5" r="1.85" fill="#80BCD3" fill-opacity="0.82"/>
<circle cx="383.7" cy="108.2" r="1.85" fill="#C4C4C4" fill-opacity="0.82"/>
<circle cx="327.4" cy="95.1" r="1.85" fill="#C4C4C4" fill-opacity="0.82"/>
<circle cx="347.5" cy="109.6" r="1.85" fill="#CFAD88" fill-opacity="0.82"/>
<circle cx="354.3" cy="106.5" r="1.85" fill="#80BCD3" fill-opacity="0.82"/>
<circle cx="325.0" cy="77.7" r="1.85" fill="#C4C4C4" fill-opacity="0.82"/>
<circle cx="371.2" cy="104.2" r="1.85" fill="#80BCD3" fill-opacity="0.82"/>
<circle cx="378.7" cy="115.0" r="1.85" fill="#80BCD3" fill-opacity="0.82"/>
<circle cx="325.6" cy="84.6" r="1.85" fill="#80BCD3" fill-opacity="0.82"/>
<circle cx="340.1" cy="81.9" r="1.85" fill="#CFAD88" fill-opacity="0.82"/>
<circle cx="354.8" cy="100.9" r="1.85" fill="#C4C4C4" fill-opacity="0.82"/>
<circle cx="342.3" cy="96.3" r="1.85" fill="#C4C4C4" fill-opacity="0.82"/>
<circle cx="366.3" cy="113.8" r="1.85" fill="#C4C4C4" fill-opacity="0.82"/>
<circle cx="365.8" cy="108.3" r="1.85" fill="#CFAD88" fill-opacity="0.82"/>
<circle cx="347.2" cy="103.8" r="1.85" fill="#C4C4C4" fill-opacity="0.82"/>
<circle cx="384.1" cy="122.8" r="1.85" fill="#80BCD3" fill-opacity="0.82"/>
<circle cx="376.8" cy="112.8" r="1.85" fill="#C4C4C4" fill-opacity="0.82"/>
<circle cx="339.1" cy="84.3" r="1.85" fill="#CFAD88" fill-opacity="0.82"/>
<circle cx="413.8" cy="148.3" r="1.85" fill="#CFAD88" fill-opacity="0.82"/>
<circle cx="336.8" cy="96.6" r="1.85" fill="#C4C4C4" fill-opacity="0.82"/>
<circle cx="394.1" cy="106.1" r="1.85" fill="#C4C4C4" fill-opacity="0.82"/>
<circle cx="361.5" cy="102.6" r="1.85" fill="#C4C4C4" fill-opacity="0.82"/>
<circle cx="392.0" cy="127.2" r="1.85" fill="#C4C4C4" fill-opacity="0.82"/>
<circle cx="369.6" cy="123.3" r="1.85" fill="#C4C4C4" fill-opacity="0.82"/>
<circle cx="397.2" cy="145.6" r="1.85" fill="#CFAD88" fill-opacity="0.82"/>
<circle cx="423.3" cy="142.5" r="1.85" fill="#CFAD88" fill-opacity="0.82"/>
<circle cx="372.9" cy="104.8" r="1.85" fill="#80BCD3" fill-opacity="0.82"/>
<circle cx="389.4" cy="129.4" r="1.85" fill="#C4C4C4" fill-opacity="0.82"/>
<circle cx="358.3" cy="117.3" r="1.85" fill="#C4C4C4" fill-opacity="0.82"/>
<circle cx="357.5" cy="85.6" r="1.85" fill="#C4C4C4" fill-opacity="0.82"/>
<circle cx="353.9" cy="102.7" r="1.85" fill="#C4C4C4" fill-opacity="0.82"/>
<circle cx="372.0" cy="96.6" r="1.85" fill="#CFAD88" fill-opacity="0.82"/>
<circle cx="381.9" cy="129.0" r="1.85" fill="#C4C4C4" fill-opacity="0.82"/>
<circle cx="381.6" cy="126.0" r="1.85" fill="#C4C4C4" fill-opacity="0.82"/>
<circle cx="373.2" cy="118.9" r="1.85" fill="#C4C4C4" fill-opacity="0.82"/>
<circle cx="324.2" cy="60.0" r="1.85" fill="#80BCD3" fill-opacity="0.82"/>
<circle cx="368.5" cy="100.8" r="1.85" fill="#CFAD88" fill-opacity="0.82"/>
<circle cx="384.8" cy="128.2" r="1.85" fill="#C4C4C4" fill-opacity="0.82"/>
<circle cx="385.0" cy="125.3" r="1.85" fill="#C4C4C4" fill-opacity="0.82"/>
<circle cx="357.6" cy="35.0" r="1.85" fill="#CFAD88" fill-opacity="0.82"/>
<circle cx="324.4" cy="50.4" r="1.85" fill="#CFAD88" fill-opacity="0.82"/>
<circle cx="314.6" cy="56.6" r="1.85" fill="#C4C4C4" fill-opacity="0.82"/>
<circle cx="326.0" cy="61.0" r="1.85" fill="#CFAD88" fill-opacity="0.82"/>
<circle cx="354.0" cy="64.6" r="1.85" fill="#CFAD88" fill-opacity="0.82"/>
<circle cx="361.6" cy="67.6" r="1.85" fill="#C4C4C4" fill-opacity="0.82"/>
<circle cx="313.0" cy="67.0" r="1.85" fill="#C4C4C4" fill-opacity="0.82"/>
<circle cx="324.6" cy="66.0" r="1.85" fill="#CFAD88" fill-opacity="0.82"/>
<circle cx="325.0" cy="69.0" r="1.85" fill="#CFAD88" fill-opacity="0.82"/>
<circle cx="373.0" cy="75.0" r="1.85" fill="#CFAD88" fill-opacity="0.82"/>
<circle cx="316.0" cy="75.0" r="1.85" fill="#CFAD88" fill-opacity="0.82"/>
<circle cx="314.0" cy="80.6" r="1.85" fill="#CFAD88" fill-opacity="0.82"/>
<circle cx="309.6" cy="88.0" r="1.85" fill="#CFAD88" fill-opacity="0.82"/>
<circle cx="323.6" cy="92.0" r="1.85" fill="#80BCD3" fill-opacity="0.82"/>
<circle cx="416.6" cy="121.4" r="1.85" fill="#CFAD88" fill-opacity="0.82"/>
<circle cx="409.6" cy="121.4" r="1.85" fill="#C4C4C4" fill-opacity="0.82"/>
<circle cx="419.0" cy="129.0" r="1.85" fill="#CFAD88" fill-opacity="0.82"/>
<circle cx="427.0" cy="134.6" r="1.85" fill="#CFAD88" fill-opacity="0.82"/>
<circle cx="425.6" cy="139.0" r="1.85" fill="#CFAD88" fill-opacity="0.82"/>
<circle cx="426.0" cy="142.0" r="1.85" fill="#CFAD88" fill-opacity="0.82"/>
<circle cx="432.6" cy="157.4" r="1.85" fill="#CFAD88" fill-opacity="0.82"/>
<circle cx="437.6" cy="159.0" r="1.85" fill="#CFAD88" fill-opacity="0.82"/>
<circle cx="437.0" cy="162.6" r="1.85" fill="#CFAD88" fill-opacity="0.82"/>
<circle cx="427.0" cy="164.0" r="1.85" fill="#CFAD88" fill-opacity="0.82"/>
<circle cx="436.6" cy="168.0" r="1.85" fill="#CFAD88" fill-opacity="0.82"/>
<circle cx="438.4" cy="170.6" r="1.85" fill="#C4C4C4" fill-opacity="0.82"/>
<circle cx="432.0" cy="172.6" r="1.85" fill="#CFAD88" fill-opacity="0.82"/>
<circle cx="427.6" cy="173.0" r="1.85" fill="#CFAD88" fill-opacity="0.82"/>
<circle cx="421.0" cy="173.0" r="1.85" fill="#CFAD88" fill-opacity="0.82"/>
<circle cx="413.6" cy="175.0" r="1.85" fill="#CFAD88" fill-opacity="0.82"/>
<circle cx="420.4" cy="168.0" r="1.85" fill="#C4C4C4" fill-opacity="0.82"/>
<circle cx="411.0" cy="162.0" r="1.85" fill="#CFAD88" fill-opacity="0.82"/>
<circle cx="413.0" cy="163.4" r="1.85" fill="#CFAD88" fill-opacity="0.82"/>
<circle cx="395.0" cy="162.0" r="1.85" fill="#CFAD88" fill-opacity="0.82"/>
<circle cx="385.6" cy="162.0" r="1.85" fill="#C4C4C4" fill-opacity="0.82"/>
<circle cx="417.0" cy="157.4" r="1.85" fill="#C4C4C4" fill-opacity="0.82"/>
<circle cx="422.0" cy="157.0" r="1.85" fill="#CFAD88" fill-opacity="0.82"/>
<circle cx="424.0" cy="154.0" r="1.85" fill="#CFAD88" fill-opacity="0.82"/>
<circle cx="426.0" cy="151.4" r="1.85" fill="#CFAD88" fill-opacity="0.82"/>
<circle cx="437.4" cy="189.6" r="1.85" fill="#CFAD88" fill-opacity="0.82"/>
<text x="303.6" y="50.9" class="nl" fill="#FB9D24">12</text>
<text x="328.0" y="82.8" class="nl" fill="#AE6098">10</text>
<text x="336.7" y="85.3" class="nl" fill="#F08C42">6</text>
<text x="352.7" y="81.9" class="nl" fill="#9C5AAA">9</text>
<text x="334.5" y="88.6" class="nl" fill="#CF6E74">1</text>
<text x="343.3" y="91.9" class="nl" fill="#7F56C6">22</text>
<text x="351.7" y="91.9" class="nl" fill="#CF6E74">23</text>
<text x="367.0" y="92.5" class="nl" fill="#8958BC">1</text>
<text x="346.2" y="96.2" class="nl" fill="#8357C2">34</text>
<text x="354.2" y="96.2" class="nl" fill="#8357C2">5</text>
<text x="359.3" y="99.8" class="nl" fill="#FB9D24">24</text>
<text x="362.0" y="109.9" class="nl" fill="#7F56C6">1</text>
<text x="369.0" y="111.9" class="nl" fill="#7B56C9">29</text>
<text x="364.0" y="113.9" class="nl" fill="#7F56C6">5</text>
<text x="394.2" y="111.9" class="nl" fill="#F49238">34</text>
<text x="397.0" y="120.2" class="nl" fill="#CF6E74">17</text>
<text x="376.0" y="116.5" class="nl" fill="#8958BC">1</text>
<text x="370.2" y="119.4" class="nl" fill="#8357C2">8</text>
<text x="373.8" y="125.9" class="nl" fill="#7F56C6">30</text>
<text x="359.3" y="130.7" class="nl" fill="#CF6E74">32</text>
<text x="345.6" y="135.9" class="nl" fill="#FDA11E">18</text>
<text x="381.6" y="131.5" class="nl" fill="#A55DA1">26</text>
<text x="382.4" y="137.9" class="nl" fill="#7F56C6">27</text>
<text x="395.0" y="135.9" class="nl" fill="#8958BC">3</text>
<text x="397.0" y="148.5" class="nl" fill="#8958BC">2</text>
<text x="384.0" y="152.5" class="nl" fill="#A55DA1">28</text>
</g>
<g clip-path="url(#clipb1)">
<circle cx="148.9" cy="361.2" r="1.85" fill="#80BCD3" fill-opacity="0.82"/>
<circle cx="154.9" cy="352.5" r="1.85" fill="#80BCD3" fill-opacity="0.82"/>
<circle cx="144.6" cy="362.1" r="1.85" fill="#80BCD3" fill-opacity="0.82"/>
<circle cx="158.4" cy="325.7" r="1.85" fill="#80BCD3" fill-opacity="0.82"/>
<circle cx="121.9" cy="374.2" r="1.85" fill="#CFAD88" fill-opacity="0.82"/>
<circle cx="147.0" cy="378.0" r="1.85" fill="#CFAD88" fill-opacity="0.82"/>
<circle cx="129.7" cy="373.0" r="1.85" fill="#C4C4C4" fill-opacity="0.82"/>
<circle cx="153.4" cy="359.3" r="1.85" fill="#C4C4C4" fill-opacity="0.82"/>
<circle cx="182.6" cy="313.6" r="1.85" fill="#C4C4C4" fill-opacity="0.82"/>
<circle cx="146.4" cy="348.1" r="1.85" fill="#C4C4C4" fill-opacity="0.82"/>
<circle cx="175.3" cy="357.1" r="1.85" fill="#CFAD88" fill-opacity="0.82"/>
<circle cx="139.4" cy="355.3" r="1.85" fill="#C4C4C4" fill-opacity="0.82"/>
<circle cx="150.9" cy="325.8" r="1.85" fill="#80BCD3" fill-opacity="0.82"/>
<circle cx="161.8" cy="372.0" r="1.85" fill="#C4C4C4" fill-opacity="0.82"/>
<circle cx="137.1" cy="372.4" r="1.85" fill="#80BCD3" fill-opacity="0.82"/>
<circle cx="161.4" cy="354.9" r="1.85" fill="#80BCD3" fill-opacity="0.82"/>
<circle cx="143.9" cy="363.2" r="1.85" fill="#C4C4C4" fill-opacity="0.82"/>
<circle cx="117.0" cy="374.7" r="1.85" fill="#C4C4C4" fill-opacity="0.82"/>
<circle cx="181.1" cy="344.1" r="1.85" fill="#CFAD88" fill-opacity="0.82"/>
<circle cx="152.8" cy="346.7" r="1.85" fill="#C4C4C4" fill-opacity="0.82"/>
<circle cx="150.7" cy="369.4" r="1.85" fill="#80BCD3" fill-opacity="0.82"/>
<circle cx="176.9" cy="328.4" r="1.85" fill="#C4C4C4" fill-opacity="0.82"/>
<circle cx="166.9" cy="362.5" r="1.85" fill="#CFAD88" fill-opacity="0.82"/>
<circle cx="141.8" cy="354.7" r="1.85" fill="#C4C4C4" fill-opacity="0.82"/>
<circle cx="150.9" cy="316.6" r="1.85" fill="#C4C4C4" fill-opacity="0.82"/>
<circle cx="185.7" cy="330.3" r="1.85" fill="#CFAD88" fill-opacity="0.82"/>
<circle cx="142.0" cy="350.3" r="1.85" fill="#C4C4C4" fill-opacity="0.82"/>
<circle cx="157.5" cy="350.2" r="1.85" fill="#C4C4C4" fill-opacity="0.82"/>
<circle cx="163.1" cy="381.9" r="1.85" fill="#C4C4C4" fill-opacity="0.82"/>
<circle cx="149.9" cy="341.8" r="1.85" fill="#80BCD3" fill-opacity="0.82"/>
<circle cx="136.8" cy="365.9" r="1.85" fill="#CFAD88" fill-opacity="0.82"/>
<circle cx="154.1" cy="369.6" r="1.85" fill="#80BCD3" fill-opacity="0.82"/>
<circle cx="150.4" cy="359.1" r="1.85" fill="#CFAD88" fill-opacity="0.82"/>
<circle cx="147.5" cy="389.4" r="1.85" fill="#C4C4C4" fill-opacity="0.82"/>
<circle cx="129.5" cy="369.2" r="1.85" fill="#CFAD88" fill-opacity="0.82"/>
<circle cx="143.3" cy="388.5" r="1.85" fill="#CFAD88" fill-opacity="0.82"/>
<circle cx="151.5" cy="358.6" r="1.85" fill="#80BCD3" fill-opacity="0.82"/>
<circle cx="160.0" cy="325.3" r="1.85" fill="#80BCD3" fill-opacity="0.82"/>
<circle cx="160.8" cy="340.3" r="1.85" fill="#CFAD88" fill-opacity="0.82"/>
<circle cx="148.9" cy="343.4" r="1.85" fill="#C4C4C4" fill-opacity="0.82"/>
<circle cx="128.7" cy="349.4" r="1.85" fill="#C4C4C4" fill-opacity="0.82"/>
<circle cx="160.7" cy="381.2" r="1.85" fill="#C4C4C4" fill-opacity="0.82"/>
<circle cx="154.8" cy="329.9" r="1.85" fill="#CFAD88" fill-opacity="0.82"/>
<circle cx="138.8" cy="356.4" r="1.85" fill="#80BCD3" fill-opacity="0.82"/>
<circle cx="169.9" cy="347.8" r="1.85" fill="#C4C4C4" fill-opacity="0.82"/>
<circle cx="148.4" cy="348.7" r="1.85" fill="#80BCD3" fill-opacity="0.82"/>
<circle cx="129.6" cy="361.6" r="1.85" fill="#C4C4C4" fill-opacity="0.82"/>
<circle cx="115.2" cy="357.0" r="1.85" fill="#80BCD3" fill-opacity="0.82"/>
<circle cx="145.5" cy="398.4" r="1.85" fill="#80BCD3" fill-opacity="0.82"/>
<circle cx="155.3" cy="348.7" r="1.85" fill="#CFAD88" fill-opacity="0.82"/>
<circle cx="205.3" cy="300.4" r="1.85" fill="#C4C4C4" fill-opacity="0.82"/>
<circle cx="174.7" cy="323.3" r="1.85" fill="#C4C4C4" fill-opacity="0.82"/>
<circle cx="174.9" cy="343.5" r="1.85" fill="#CFAD88" fill-opacity="0.82"/>
<circle cx="147.7" cy="341.5" r="1.85" fill="#80BCD3" fill-opacity="0.82"/>
<circle cx="114.2" cy="367.5" r="1.85" fill="#C4C4C4" fill-opacity="0.82"/>
<circle cx="163.3" cy="337.6" r="1.85" fill="#C4C4C4" fill-opacity="0.82"/>
<circle cx="176.9" cy="354.8" r="1.85" fill="#C4C4C4" fill-opacity="0.82"/>
<circle cx="147.8" cy="348.8" r="1.85" fill="#C4C4C4" fill-opacity="0.82"/>
<circle cx="161.2" cy="349.7" r="1.85" fill="#C4C4C4" fill-opacity="0.82"/>
<circle cx="157.5" cy="352.0" r="1.85" fill="#C4C4C4" fill-opacity="0.82"/>
<circle cx="131.7" cy="363.8" r="1.85" fill="#CFAD88" fill-opacity="0.82"/>
<circle cx="163.8" cy="352.2" r="1.85" fill="#C4C4C4" fill-opacity="0.82"/>
<circle cx="149.8" cy="365.3" r="1.85" fill="#80BCD3" fill-opacity="0.82"/>
<circle cx="143.9" cy="350.9" r="1.85" fill="#CFAD88" fill-opacity="0.82"/>
<circle cx="183.0" cy="331.4" r="1.85" fill="#80BCD3" fill-opacity="0.82"/>
<circle cx="147.2" cy="368.0" r="1.85" fill="#C4C4C4" fill-opacity="0.82"/>
<circle cx="148.5" cy="322.8" r="1.85" fill="#C4C4C4" fill-opacity="0.82"/>
<circle cx="160.8" cy="365.3" r="1.85" fill="#CFAD88" fill-opacity="0.82"/>
<circle cx="159.8" cy="364.0" r="1.85" fill="#CFAD88" fill-opacity="0.82"/>
<circle cx="136.8" cy="354.7" r="1.85" fill="#80BCD3" fill-opacity="0.82"/>
<circle cx="158.2" cy="333.9" r="1.85" fill="#C4C4C4" fill-opacity="0.82"/>
<circle cx="131.5" cy="370.3" r="1.85" fill="#CFAD88" fill-opacity="0.82"/>
<circle cx="150.3" cy="346.1" r="1.85" fill="#C4C4C4" fill-opacity="0.82"/>
<circle cx="141.2" cy="385.6" r="1.85" fill="#CFAD88" fill-opacity="0.82"/>
<circle cx="160.3" cy="351.7" r="1.85" fill="#CFAD88" fill-opacity="0.82"/>
<circle cx="127.6" cy="349.3" r="1.85" fill="#CFAD88" fill-opacity="0.82"/>
<circle cx="140.0" cy="386.5" r="1.85" fill="#80BCD3" fill-opacity="0.82"/>
<circle cx="151.0" cy="376.7" r="1.85" fill="#C4C4C4" fill-opacity="0.82"/>
<circle cx="144.4" cy="353.1" r="1.85" fill="#C4C4C4" fill-opacity="0.82"/>
<circle cx="120.5" cy="384.8" r="1.85" fill="#80BCD3" fill-opacity="0.82"/>
<circle cx="140.7" cy="365.0" r="1.85" fill="#CFAD88" fill-opacity="0.82"/>
<circle cx="141.7" cy="341.0" r="1.85" fill="#80BCD3" fill-opacity="0.82"/>
<circle cx="126.5" cy="376.6" r="1.85" fill="#CFAD88" fill-opacity="0.82"/>
<circle cx="149.7" cy="347.6" r="1.85" fill="#80BCD3" fill-opacity="0.82"/>
<circle cx="164.5" cy="355.2" r="1.85" fill="#80BCD3" fill-opacity="0.82"/>
<circle cx="158.4" cy="327.5" r="1.85" fill="#C4C4C4" fill-opacity="0.82"/>
<circle cx="128.0" cy="382.7" r="1.85" fill="#CFAD88" fill-opacity="0.82"/>
<circle cx="152.4" cy="358.2" r="1.85" fill="#80BCD3" fill-opacity="0.82"/>
<circle cx="139.4" cy="366.1" r="1.85" fill="#C4C4C4" fill-opacity="0.82"/>
<circle cx="134.3" cy="374.7" r="1.85" fill="#C4C4C4" fill-opacity="0.82"/>
<circle cx="168.8" cy="339.4" r="1.85" fill="#CFAD88" fill-opacity="0.82"/>
<circle cx="169.2" cy="348.1" r="1.85" fill="#C4C4C4" fill-opacity="0.82"/>
<circle cx="145.6" cy="373.5" r="1.85" fill="#CFAD88" fill-opacity="0.82"/>
<circle cx="149.9" cy="343.6" r="1.85" fill="#C4C4C4" fill-opacity="0.82"/>
<circle cx="169.3" cy="332.4" r="1.85" fill="#80BCD3" fill-opacity="0.82"/>
<circle cx="141.6" cy="376.0" r="1.85" fill="#C4C4C4" fill-opacity="0.82"/>
<circle cx="144.9" cy="360.1" r="1.85" fill="#80BCD3" fill-opacity="0.82"/>
<circle cx="151.4" cy="353.4" r="1.85" fill="#C4C4C4" fill-opacity="0.82"/>
<circle cx="140.6" cy="407.1" r="1.85" fill="#80BCD3" fill-opacity="0.82"/>
<circle cx="178.1" cy="351.7" r="1.85" fill="#CFAD88" fill-opacity="0.82"/>
<circle cx="165.5" cy="357.5" r="1.85" fill="#C4C4C4" fill-opacity="0.82"/>
<circle cx="138.5" cy="392.2" r="1.85" fill="#C4C4C4" fill-opacity="0.82"/>
<circle cx="177.4" cy="374.5" r="1.85" fill="#80BCD3" fill-opacity="0.82"/>
<circle cx="119.4" cy="377.2" r="1.85" fill="#CFAD88" fill-opacity="0.82"/>
<circle cx="185.0" cy="348.8" r="1.85" fill="#CFAD88" fill-opacity="0.82"/>
<circle cx="153.1" cy="355.2" r="1.85" fill="#CFAD88" fill-opacity="0.82"/>
<circle cx="148.1" cy="330.8" r="1.85" fill="#CFAD88" fill-opacity="0.82"/>
<circle cx="146.5" cy="336.7" r="1.85" fill="#CFAD88" fill-opacity="0.82"/>
<circle cx="154.0" cy="353.8" r="1.85" fill="#80BCD3" fill-opacity="0.82"/>
<circle cx="164.2" cy="352.8" r="1.85" fill="#C4C4C4" fill-opacity="0.82"/>
<circle cx="142.0" cy="373.8" r="1.85" fill="#CFAD88" fill-opacity="0.82"/>
<circle cx="115.2" cy="395.9" r="1.85" fill="#C4C4C4" fill-opacity="0.82"/>
<circle cx="141.3" cy="374.6" r="1.85" fill="#CFAD88" fill-opacity="0.82"/>
<circle cx="192.8" cy="329.0" r="1.85" fill="#C4C4C4" fill-opacity="0.82"/>
<circle cx="167.5" cy="337.5" r="1.85" fill="#C4C4C4" fill-opacity="0.82"/>
<circle cx="145.5" cy="370.5" r="1.85" fill="#80BCD3" fill-opacity="0.82"/>
<circle cx="148.3" cy="359.7" r="1.85" fill="#CFAD88" fill-opacity="0.82"/>
<circle cx="123.6" cy="408.3" r="1.85" fill="#CFAD88" fill-opacity="0.82"/>
<circle cx="162.2" cy="354.0" r="1.85" fill="#C4C4C4" fill-opacity="0.82"/>
<circle cx="165.5" cy="360.2" r="1.85" fill="#80BCD3" fill-opacity="0.82"/>
<circle cx="150.7" cy="384.1" r="1.85" fill="#80BCD3" fill-opacity="0.82"/>
<circle cx="139.3" cy="372.8" r="1.85" fill="#C4C4C4" fill-opacity="0.82"/>
<circle cx="126.9" cy="379.8" r="1.85" fill="#CFAD88" fill-opacity="0.82"/>
<circle cx="125.5" cy="347.4" r="1.85" fill="#80BCD3" fill-opacity="0.82"/>
<circle cx="162.1" cy="338.2" r="1.85" fill="#CFAD88" fill-opacity="0.82"/>
<circle cx="143.0" cy="343.8" r="1.85" fill="#CFAD88" fill-opacity="0.82"/>
<circle cx="152.6" cy="391.5" r="1.85" fill="#C4C4C4" fill-opacity="0.82"/>
<circle cx="133.2" cy="377.6" r="1.85" fill="#CFAD88" fill-opacity="0.82"/>
<circle cx="150.0" cy="353.5" r="1.85" fill="#80BCD3" fill-opacity="0.82"/>
<circle cx="164.6" cy="335.1" r="1.85" fill="#C4C4C4" fill-opacity="0.82"/>
<circle cx="162.0" cy="330.6" r="1.85" fill="#80BCD3" fill-opacity="0.82"/>
<circle cx="158.6" cy="385.6" r="1.85" fill="#C4C4C4" fill-opacity="0.82"/>
<circle cx="166.4" cy="299.8" r="1.85" fill="#CFAD88" fill-opacity="0.82"/>
<circle cx="175.5" cy="346.7" r="1.85" fill="#80BCD3" fill-opacity="0.82"/>
<circle cx="141.7" cy="373.5" r="1.85" fill="#80BCD3" fill-opacity="0.82"/>
<circle cx="153.2" cy="378.8" r="1.85" fill="#C4C4C4" fill-opacity="0.82"/>
<circle cx="166.8" cy="341.8" r="1.85" fill="#CFAD88" fill-opacity="0.82"/>
<circle cx="174.2" cy="346.4" r="1.85" fill="#CFAD88" fill-opacity="0.82"/>
<circle cx="143.4" cy="315.4" r="1.85" fill="#C4C4C4" fill-opacity="0.82"/>
<circle cx="170.6" cy="373.5" r="1.85" fill="#80BCD3" fill-opacity="0.82"/>
<circle cx="143.4" cy="351.5" r="1.85" fill="#CFAD88" fill-opacity="0.82"/>
<circle cx="182.9" cy="348.8" r="1.85" fill="#CFAD88" fill-opacity="0.82"/>
<circle cx="156.9" cy="339.8" r="1.85" fill="#CFAD88" fill-opacity="0.82"/>
<circle cx="132.6" cy="376.8" r="1.85" fill="#C4C4C4" fill-opacity="0.82"/>
<circle cx="157.3" cy="362.7" r="1.85" fill="#CFAD88" fill-opacity="0.82"/>
<circle cx="145.3" cy="361.4" r="1.85" fill="#80BCD3" fill-opacity="0.82"/>
<circle cx="149.5" cy="368.5" r="1.85" fill="#CFAD88" fill-opacity="0.82"/>
<circle cx="171.1" cy="368.9" r="1.85" fill="#C4C4C4" fill-opacity="0.82"/>
<circle cx="146.4" cy="377.1" r="1.85" fill="#80BCD3" fill-opacity="0.82"/>
<circle cx="179.8" cy="333.2" r="1.85" fill="#CFAD88" fill-opacity="0.82"/>
<circle cx="143.2" cy="368.1" r="1.85" fill="#CFAD88" fill-opacity="0.82"/>
<circle cx="144.4" cy="384.1" r="1.85" fill="#80BCD3" fill-opacity="0.82"/>
<circle cx="152.9" cy="372.6" r="1.85" fill="#80BCD3" fill-opacity="0.82"/>
<circle cx="163.6" cy="339.9" r="1.85" fill="#C4C4C4" fill-opacity="0.82"/>
<circle cx="173.2" cy="334.0" r="1.85" fill="#C4C4C4" fill-opacity="0.82"/>
<circle cx="171.2" cy="351.7" r="1.85" fill="#CFAD88" fill-opacity="0.82"/>
<circle cx="171.1" cy="327.8" r="1.85" fill="#C4C4C4" fill-opacity="0.82"/>
<circle cx="144.0" cy="339.7" r="1.85" fill="#80BCD3" fill-opacity="0.82"/>
<circle cx="148.7" cy="352.5" r="1.85" fill="#C4C4C4" fill-opacity="0.82"/>
<circle cx="149.4" cy="353.2" r="1.85" fill="#CFAD88" fill-opacity="0.82"/>
<circle cx="126.7" cy="345.6" r="1.85" fill="#80BCD3" fill-opacity="0.82"/>
<circle cx="151.2" cy="345.2" r="1.85" fill="#CFAD88" fill-opacity="0.82"/>
<circle cx="166.6" cy="350.4" r="1.85" fill="#C4C4C4" fill-opacity="0.82"/>
<circle cx="166.9" cy="313.1" r="1.85" fill="#C4C4C4" fill-opacity="0.82"/>
<circle cx="136.2" cy="348.6" r="1.85" fill="#C4C4C4" fill-opacity="0.82"/>
<circle cx="181.9" cy="327.4" r="1.85" fill="#C4C4C4" fill-opacity="0.82"/>
<circle cx="155.8" cy="403.9" r="1.85" fill="#CFAD88" fill-opacity="0.82"/>
<circle cx="157.4" cy="341.9" r="1.85" fill="#C4C4C4" fill-opacity="0.82"/>
<circle cx="167.3" cy="355.0" r="1.85" fill="#80BCD3" fill-opacity="0.82"/>
<circle cx="139.7" cy="386.2" r="1.85" fill="#CFAD88" fill-opacity="0.82"/>
<circle cx="147.7" cy="394.9" r="1.85" fill="#80BCD3" fill-opacity="0.82"/>
<circle cx="149.3" cy="358.0" r="1.85" fill="#CFAD88" fill-opacity="0.82"/>
<circle cx="148.6" cy="406.9" r="1.85" fill="#C4C4C4" fill-opacity="0.82"/>
<circle cx="175.0" cy="332.7" r="1.85" fill="#C4C4C4" fill-opacity="0.82"/>
<circle cx="144.1" cy="370.8" r="1.85" fill="#CFAD88" fill-opacity="0.82"/>
<circle cx="138.6" cy="320.2" r="1.85" fill="#CFAD88" fill-opacity="0.82"/>
<circle cx="142.1" cy="397.5" r="1.85" fill="#CFAD88" fill-opacity="0.82"/>
<circle cx="172.3" cy="366.8" r="1.85" fill="#CFAD88" fill-opacity="0.82"/>
<circle cx="154.0" cy="366.8" r="1.85" fill="#80BCD3" fill-opacity="0.82"/>
<circle cx="141.5" cy="398.8" r="1.85" fill="#80BCD3" fill-opacity="0.82"/>
<circle cx="142.0" cy="356.1" r="1.85" fill="#C4C4C4" fill-opacity="0.82"/>
<circle cx="123.5" cy="364.4" r="1.85" fill="#C4C4C4" fill-opacity="0.82"/>
<circle cx="169.9" cy="355.6" r="1.85" fill="#C4C4C4" fill-opacity="0.82"/>
<circle cx="158.2" cy="372.5" r="1.85" fill="#C4C4C4" fill-opacity="0.82"/>
<circle cx="165.1" cy="377.9" r="1.85" fill="#80BCD3" fill-opacity="0.82"/>
<circle cx="166.0" cy="367.0" r="1.85" fill="#CFAD88" fill-opacity="0.82"/>
<circle cx="142.5" cy="379.7" r="1.85" fill="#C4C4C4" fill-opacity="0.82"/>
<circle cx="148.8" cy="354.2" r="1.85" fill="#CFAD88" fill-opacity="0.82"/>
<circle cx="102.5" cy="363.6" r="1.85" fill="#CFAD88" fill-opacity="0.82"/>
<circle cx="167.9" cy="384.4" r="1.85" fill="#CFAD88" fill-opacity="0.82"/>
<circle cx="149.9" cy="372.7" r="1.85" fill="#C4C4C4" fill-opacity="0.82"/>
<circle cx="160.6" cy="365.8" r="1.85" fill="#C4C4C4" fill-opacity="0.82"/>
<circle cx="177.2" cy="330.0" r="1.85" fill="#80BCD3" fill-opacity="0.82"/>
<circle cx="144.2" cy="366.5" r="1.85" fill="#C4C4C4" fill-opacity="0.82"/>
<circle cx="161.4" cy="391.3" r="1.85" fill="#C4C4C4" fill-opacity="0.82"/>
<circle cx="145.6" cy="373.9" r="1.85" fill="#80BCD3" fill-opacity="0.82"/>
<circle cx="140.4" cy="373.4" r="1.85" fill="#80BCD3" fill-opacity="0.82"/>
<circle cx="138.2" cy="376.9" r="1.85" fill="#C4C4C4" fill-opacity="0.82"/>
<circle cx="156.4" cy="326.2" r="1.85" fill="#C4C4C4" fill-opacity="0.82"/>
<circle cx="145.7" cy="348.7" r="1.85" fill="#80BCD3" fill-opacity="0.82"/>
<circle cx="106.1" cy="375.4" r="1.85" fill="#C4C4C4" fill-opacity="0.82"/>
<circle cx="149.5" cy="347.5" r="1.85" fill="#C4C4C4" fill-opacity="0.82"/>
<circle cx="160.1" cy="377.9" r="1.85" fill="#C4C4C4" fill-opacity="0.82"/>
<circle cx="171.3" cy="321.6" r="1.85" fill="#C4C4C4" fill-opacity="0.82"/>
<circle cx="141.1" cy="352.0" r="1.85" fill="#CFAD88" fill-opacity="0.82"/>
<circle cx="138.8" cy="358.8" r="1.85" fill="#C4C4C4" fill-opacity="0.82"/>
<circle cx="162.1" cy="335.5" r="1.85" fill="#80BCD3" fill-opacity="0.82"/>
<circle cx="142.6" cy="371.7" r="1.85" fill="#80BCD3" fill-opacity="0.82"/>
<circle cx="153.3" cy="350.1" r="1.85" fill="#CFAD88" fill-opacity="0.82"/>
<circle cx="156.6" cy="376.0" r="1.85" fill="#80BCD3" fill-opacity="0.82"/>
<circle cx="144.8" cy="381.8" r="1.85" fill="#80BCD3" fill-opacity="0.82"/>
<circle cx="174.1" cy="337.0" r="1.85" fill="#CFAD88" fill-opacity="0.82"/>
<circle cx="141.4" cy="369.6" r="1.85" fill="#CFAD88" fill-opacity="0.82"/>
<circle cx="156.0" cy="358.7" r="1.85" fill="#80BCD3" fill-opacity="0.82"/>
<circle cx="146.8" cy="341.3" r="1.85" fill="#CFAD88" fill-opacity="0.82"/>
<circle cx="107.4" cy="369.4" r="1.85" fill="#CFAD88" fill-opacity="0.82"/>
<circle cx="156.8" cy="371.1" r="1.85" fill="#C4C4C4" fill-opacity="0.82"/>
<circle cx="173.7" cy="349.5" r="1.85" fill="#C4C4C4" fill-opacity="0.82"/>
<circle cx="127.5" cy="359.9" r="1.85" fill="#CFAD88" fill-opacity="0.82"/>
<circle cx="161.5" cy="328.9" r="1.85" fill="#CFAD88" fill-opacity="0.82"/>
<circle cx="130.5" cy="371.1" r="1.85" fill="#CFAD88" fill-opacity="0.82"/>
<circle cx="137.7" cy="351.4" r="1.85" fill="#C4C4C4" fill-opacity="0.82"/>
<circle cx="130.4" cy="356.8" r="1.85" fill="#80BCD3" fill-opacity="0.82"/>
<circle cx="137.8" cy="386.6" r="1.85" fill="#C4C4C4" fill-opacity="0.82"/>
<circle cx="143.8" cy="374.8" r="1.85" fill="#C4C4C4" fill-opacity="0.82"/>
<circle cx="126.6" cy="382.2" r="1.85" fill="#CFAD88" fill-opacity="0.82"/>
<circle cx="188.7" cy="328.3" r="1.85" fill="#CFAD88" fill-opacity="0.82"/>
<circle cx="140.8" cy="375.8" r="1.85" fill="#80BCD3" fill-opacity="0.82"/>
<circle cx="171.1" cy="355.8" r="1.85" fill="#CFAD88" fill-opacity="0.82"/>
<circle cx="156.1" cy="337.4" r="1.85" fill="#CFAD88" fill-opacity="0.82"/>
<circle cx="137.1" cy="390.9" r="1.85" fill="#C4C4C4" fill-opacity="0.82"/>
<circle cx="139.5" cy="371.8" r="1.85" fill="#CFAD88" fill-opacity="0.82"/>
<circle cx="146.3" cy="353.9" r="1.85" fill="#80BCD3" fill-opacity="0.82"/>
<circle cx="153.3" cy="371.4" r="1.85" fill="#CFAD88" fill-opacity="0.82"/>
<circle cx="162.6" cy="352.7" r="1.85" fill="#80BCD3" fill-opacity="0.82"/>
<circle cx="122.3" cy="372.7" r="1.85" fill="#C4C4C4" fill-opacity="0.82"/>
<circle cx="125.2" cy="358.6" r="1.85" fill="#C4C4C4" fill-opacity="0.82"/>
<circle cx="164.2" cy="353.7" r="1.85" fill="#80BCD3" fill-opacity="0.82"/>
<circle cx="161.1" cy="369.9" r="1.85" fill="#CFAD88" fill-opacity="0.82"/>
<circle cx="136.1" cy="357.7" r="1.85" fill="#CFAD88" fill-opacity="0.82"/>
<circle cx="157.6" cy="348.1" r="1.85" fill="#C4C4C4" fill-opacity="0.82"/>
<circle cx="146.6" cy="352.7" r="1.85" fill="#C4C4C4" fill-opacity="0.82"/>
<circle cx="156.2" cy="369.0" r="1.85" fill="#80BCD3" fill-opacity="0.82"/>
<circle cx="126.8" cy="364.1" r="1.85" fill="#C4C4C4" fill-opacity="0.82"/>
<circle cx="160.9" cy="331.8" r="1.85" fill="#CFAD88" fill-opacity="0.82"/>
<circle cx="172.5" cy="318.6" r="1.85" fill="#C4C4C4" fill-opacity="0.82"/>
<circle cx="131.1" cy="361.6" r="1.85" fill="#CFAD88" fill-opacity="0.82"/>
<circle cx="137.4" cy="357.5" r="1.85" fill="#80BCD3" fill-opacity="0.82"/>
<circle cx="168.9" cy="373.9" r="1.85" fill="#C4C4C4" fill-opacity="0.82"/>
<circle cx="171.2" cy="360.9" r="1.85" fill="#CFAD88" fill-opacity="0.82"/>
<circle cx="142.0" cy="387.0" r="1.85" fill="#C4C4C4" fill-opacity="0.82"/>
<circle cx="123.1" cy="359.9" r="1.85" fill="#CFAD88" fill-opacity="0.82"/>
<circle cx="159.1" cy="331.8" r="1.85" fill="#C4C4C4" fill-opacity="0.82"/>
<circle cx="132.2" cy="378.4" r="1.85" fill="#CFAD88" fill-opacity="0.82"/>
<circle cx="140.9" cy="387.9" r="1.85" fill="#C4C4C4" fill-opacity="0.82"/>
<circle cx="150.8" cy="382.4" r="1.85" fill="#C4C4C4" fill-opacity="0.82"/>
<circle cx="140.8" cy="359.8" r="1.85" fill="#C4C4C4" fill-opacity="0.82"/>
<circle cx="146.1" cy="372.3" r="1.85" fill="#C4C4C4" fill-opacity="0.82"/>
<circle cx="159.4" cy="346.7" r="1.85" fill="#CFAD88" fill-opacity="0.82"/>
<circle cx="163.0" cy="358.8" r="1.85" fill="#80BCD3" fill-opacity="0.82"/>
<circle cx="143.0" cy="380.4" r="1.85" fill="#CFAD88" fill-opacity="0.82"/>
<circle cx="139.5" cy="376.0" r="1.85" fill="#80BCD3" fill-opacity="0.82"/>
<circle cx="136.0" cy="378.9" r="1.85" fill="#80BCD3" fill-opacity="0.82"/>
<circle cx="154.2" cy="339.0" r="1.85" fill="#CFAD88" fill-opacity="0.82"/>
<circle cx="141.0" cy="375.2" r="1.85" fill="#CFAD88" fill-opacity="0.82"/>
<circle cx="165.5" cy="344.1" r="1.85" fill="#C4C4C4" fill-opacity="0.82"/>
<circle cx="161.9" cy="340.5" r="1.85" fill="#C4C4C4" fill-opacity="0.82"/>
<circle cx="167.7" cy="351.7" r="1.85" fill="#80BCD3" fill-opacity="0.82"/>
<circle cx="156.0" cy="377.3" r="1.85" fill="#CFAD88" fill-opacity="0.82"/>
<circle cx="153.8" cy="333.9" r="1.85" fill="#80BCD3" fill-opacity="0.82"/>
<circle cx="178.9" cy="361.8" r="1.85" fill="#CFAD88" fill-opacity="0.82"/>
<circle cx="167.4" cy="388.3" r="1.85" fill="#CFAD88" fill-opacity="0.82"/>
<circle cx="156.9" cy="366.1" r="1.85" fill="#80BCD3" fill-opacity="0.82"/>
<circle cx="138.6" cy="380.2" r="1.85" fill="#80BCD3" fill-opacity="0.82"/>
<circle cx="154.8" cy="312.2" r="1.85" fill="#CFAD88" fill-opacity="0.82"/>
<circle cx="140.7" cy="377.5" r="1.85" fill="#CFAD88" fill-opacity="0.82"/>
<circle cx="162.7" cy="353.8" r="1.85" fill="#80BCD3" fill-opacity="0.82"/>
<circle cx="162.3" cy="363.3" r="1.85" fill="#C4C4C4" fill-opacity="0.82"/>
<circle cx="151.2" cy="337.5" r="1.85" fill="#C4C4C4" fill-opacity="0.82"/>
<circle cx="150.7" cy="342.6" r="1.85" fill="#C4C4C4" fill-opacity="0.82"/>
<circle cx="137.6" cy="383.0" r="1.85" fill="#C4C4C4" fill-opacity="0.82"/>
<circle cx="135.6" cy="351.1" r="1.85" fill="#CFAD88" fill-opacity="0.82"/>
<circle cx="142.4" cy="376.2" r="1.85" fill="#80BCD3" fill-opacity="0.82"/>
<circle cx="160.5" cy="363.9" r="1.85" fill="#80BCD3" fill-opacity="0.82"/>
<circle cx="144.8" cy="355.5" r="1.85" fill="#C4C4C4" fill-opacity="0.82"/>
<circle cx="150.8" cy="381.8" r="1.85" fill="#C4C4C4" fill-opacity="0.82"/>
<circle cx="164.2" cy="340.6" r="1.85" fill="#C4C4C4" fill-opacity="0.82"/>
<circle cx="145.5" cy="354.1" r="1.85" fill="#80BCD3" fill-opacity="0.82"/>
<circle cx="156.6" cy="354.1" r="1.85" fill="#CFAD88" fill-opacity="0.82"/>
<circle cx="164.4" cy="346.1" r="1.85" fill="#80BCD3" fill-opacity="0.82"/>
<circle cx="155.2" cy="358.6" r="1.85" fill="#80BCD3" fill-opacity="0.82"/>
<circle cx="140.0" cy="347.0" r="1.85" fill="#C4C4C4" fill-opacity="0.82"/>
<circle cx="151.1" cy="371.4" r="1.85" fill="#CFAD88" fill-opacity="0.82"/>
<circle cx="149.3" cy="381.7" r="1.85" fill="#80BCD3" fill-opacity="0.82"/>
<circle cx="155.9" cy="352.8" r="1.85" fill="#CFAD88" fill-opacity="0.82"/>
<circle cx="152.1" cy="340.3" r="1.85" fill="#CFAD88" fill-opacity="0.82"/>
<circle cx="171.6" cy="342.0" r="1.85" fill="#C4C4C4" fill-opacity="0.82"/>
<circle cx="147.5" cy="328.0" r="1.85" fill="#C4C4C4" fill-opacity="0.82"/>
<circle cx="177.8" cy="323.4" r="1.85" fill="#CFAD88" fill-opacity="0.82"/>
<circle cx="159.6" cy="343.3" r="1.85" fill="#80BCD3" fill-opacity="0.82"/>
<circle cx="154.5" cy="360.0" r="1.85" fill="#CFAD88" fill-opacity="0.82"/>
<circle cx="155.9" cy="360.0" r="1.85" fill="#CFAD88" fill-opacity="0.82"/>
<circle cx="170.5" cy="325.3" r="1.85" fill="#CFAD88" fill-opacity="0.82"/>
<circle cx="140.5" cy="363.2" r="1.85" fill="#C4C4C4" fill-opacity="0.82"/>
<circle cx="150.9" cy="355.2" r="1.85" fill="#80BCD3" fill-opacity="0.82"/>
<circle cx="118.4" cy="362.4" r="1.85" fill="#C4C4C4" fill-opacity="0.82"/>
<circle cx="145.2" cy="342.6" r="1.85" fill="#C4C4C4" fill-opacity="0.82"/>
<circle cx="129.6" cy="380.6" r="1.85" fill="#80BCD3" fill-opacity="0.82"/>
<circle cx="164.9" cy="346.9" r="1.85" fill="#C4C4C4" fill-opacity="0.82"/>
<circle cx="149.2" cy="405.2" r="1.85" fill="#CFAD88" fill-opacity="0.82"/>
<circle cx="168.8" cy="325.9" r="1.85" fill="#CFAD88" fill-opacity="0.82"/>
<circle cx="156.6" cy="387.3" r="1.85" fill="#CFAD88" fill-opacity="0.82"/>
<circle cx="135.2" cy="369.1" r="1.85" fill="#CFAD88" fill-opacity="0.82"/>
<circle cx="152.2" cy="379.4" r="1.85" fill="#80BCD3" fill-opacity="0.82"/>
<circle cx="166.5" cy="383.8" r="1.85" fill="#80BCD3" fill-opacity="0.82"/>
<circle cx="159.3" cy="362.9" r="1.85" fill="#C4C4C4" fill-opacity="0.82"/>
<circle cx="144.4" cy="370.3" r="1.85" fill="#CFAD88" fill-opacity="0.82"/>
<circle cx="132.7" cy="381.2" r="1.85" fill="#CFAD88" fill-opacity="0.82"/>
<circle cx="156.7" cy="343.5" r="1.85" fill="#C4C4C4" fill-opacity="0.82"/>
<circle cx="148.0" cy="368.9" r="1.85" fill="#80BCD3" fill-opacity="0.82"/>
<circle cx="141.9" cy="356.5" r="1.85" fill="#80BCD3" fill-opacity="0.82"/>
<circle cx="147.2" cy="358.3" r="1.85" fill="#80BCD3" fill-opacity="0.82"/>
<circle cx="163.5" cy="345.0" r="1.85" fill="#CFAD88" fill-opacity="0.82"/>
<circle cx="153.7" cy="365.8" r="1.85" fill="#80BCD3" fill-opacity="0.82"/>
<circle cx="148.7" cy="368.8" r="1.85" fill="#C4C4C4" fill-opacity="0.82"/>
<circle cx="133.4" cy="369.6" r="1.85" fill="#C4C4C4" fill-opacity="0.82"/>
<circle cx="144.0" cy="370.3" r="1.85" fill="#C4C4C4" fill-opacity="0.82"/>
<circle cx="157.0" cy="332.3" r="1.85" fill="#C4C4C4" fill-opacity="0.82"/>
<circle cx="145.3" cy="332.1" r="1.85" fill="#C4C4C4" fill-opacity="0.82"/>
<circle cx="139.8" cy="364.4" r="1.85" fill="#80BCD3" fill-opacity="0.82"/>
<circle cx="151.7" cy="372.5" r="1.85" fill="#80BCD3" fill-opacity="0.82"/>
<circle cx="156.1" cy="352.7" r="1.85" fill="#C4C4C4" fill-opacity="0.82"/>
<circle cx="170.0" cy="343.7" r="1.85" fill="#CFAD88" fill-opacity="0.82"/>
<circle cx="134.6" cy="343.0" r="1.85" fill="#C4C4C4" fill-opacity="0.82"/>
<circle cx="162.0" cy="375.0" r="1.85" fill="#C4C4C4" fill-opacity="0.82"/>
<circle cx="163.9" cy="333.5" r="1.85" fill="#C4C4C4" fill-opacity="0.82"/>
<circle cx="151.6" cy="378.1" r="1.85" fill="#80BCD3" fill-opacity="0.82"/>
<circle cx="155.3" cy="323.5" r="1.85" fill="#CFAD88" fill-opacity="0.82"/>
<circle cx="168.1" cy="349.5" r="1.85" fill="#CFAD88" fill-opacity="0.82"/>
<circle cx="146.9" cy="390.9" r="1.85" fill="#80BCD3" fill-opacity="0.82"/>
<circle cx="184.2" cy="351.6" r="1.85" fill="#C4C4C4" fill-opacity="0.82"/>
<circle cx="131.2" cy="309.4" r="1.85" fill="#CFAD88" fill-opacity="0.82"/>
<circle cx="135.5" cy="384.3" r="1.85" fill="#C4C4C4" fill-opacity="0.82"/>
<circle cx="140.8" cy="375.1" r="1.85" fill="#C4C4C4" fill-opacity="0.82"/>
<circle cx="152.5" cy="362.8" r="1.85" fill="#C4C4C4" fill-opacity="0.82"/>
<circle cx="156.0" cy="374.3" r="1.85" fill="#C4C4C4" fill-opacity="0.82"/>
<circle cx="159.9" cy="342.6" r="1.85" fill="#80BCD3" fill-opacity="0.82"/>
<circle cx="157.9" cy="366.9" r="1.85" fill="#80BCD3" fill-opacity="0.82"/>
<circle cx="156.6" cy="352.3" r="1.85" fill="#C4C4C4" fill-opacity="0.82"/>
<circle cx="150.0" cy="373.1" r="1.85" fill="#CFAD88" fill-opacity="0.82"/>
<circle cx="184.5" cy="307.8" r="1.85" fill="#80BCD3" fill-opacity="0.82"/>
<circle cx="143.7" cy="340.9" r="1.85" fill="#C4C4C4" fill-opacity="0.82"/>
<circle cx="148.8" cy="355.7" r="1.85" fill="#C4C4C4" fill-opacity="0.82"/>
<circle cx="142.7" cy="340.0" r="1.85" fill="#C4C4C4" fill-opacity="0.82"/>
<circle cx="146.1" cy="394.4" r="1.85" fill="#C4C4C4" fill-opacity="0.82"/>
<circle cx="171.1" cy="338.8" r="1.85" fill="#80BCD3" fill-opacity="0.82"/>
<circle cx="177.0" cy="349.9" r="1.85" fill="#80BCD3" fill-opacity="0.82"/>
<circle cx="147.3" cy="380.2" r="1.85" fill="#C4C4C4" fill-opacity="0.82"/>
<circle cx="163.5" cy="343.3" r="1.85" fill="#C4C4C4" fill-opacity="0.82"/>
<circle cx="168.4" cy="340.3" r="1.85" fill="#C4C4C4" fill-opacity="0.82"/>
<circle cx="133.4" cy="391.1" r="1.85" fill="#CFAD88" fill-opacity="0.82"/>
<circle cx="166.3" cy="371.8" r="1.85" fill="#C4C4C4" fill-opacity="0.82"/>
<circle cx="151.8" cy="372.0" r="1.85" fill="#80BCD3" fill-opacity="0.82"/>
<circle cx="146.2" cy="322.2" r="1.85" fill="#C4C4C4" fill-opacity="0.82"/>
<circle cx="166.3" cy="351.8" r="1.85" fill="#C4C4C4" fill-opacity="0.82"/>
<circle cx="145.8" cy="353.6" r="1.85" fill="#C4C4C4" fill-opacity="0.82"/>
<circle cx="154.9" cy="386.5" r="1.85" fill="#80BCD3" fill-opacity="0.82"/>
<circle cx="174.9" cy="313.1" r="1.85" fill="#C4C4C4" fill-opacity="0.82"/>
<circle cx="120.8" cy="381.8" r="1.85" fill="#C4C4C4" fill-opacity="0.82"/>
<circle cx="150.6" cy="333.9" r="1.85" fill="#CFAD88" fill-opacity="0.82"/>
<circle cx="129.5" cy="374.2" r="1.85" fill="#80BCD3" fill-opacity="0.82"/>
<circle cx="157.1" cy="362.0" r="1.85" fill="#C4C4C4" fill-opacity="0.82"/>
<circle cx="140.6" cy="316.3" r="1.85" fill="#C4C4C4" fill-opacity="0.82"/>
<circle cx="133.0" cy="384.6" r="1.85" fill="#C4C4C4" fill-opacity="0.82"/>
<circle cx="127.5" cy="376.0" r="1.85" fill="#CFAD88" fill-opacity="0.82"/>
<circle cx="140.5" cy="338.4" r="1.85" fill="#CFAD88" fill-opacity="0.82"/>
<circle cx="140.4" cy="384.4" r="1.85" fill="#80BCD3" fill-opacity="0.82"/>
<circle cx="179.6" cy="319.1" r="1.85" fill="#C4C4C4" fill-opacity="0.82"/>
<circle cx="141.0" cy="380.7" r="1.85" fill="#80BCD3" fill-opacity="0.82"/>
<circle cx="147.9" cy="371.0" r="1.85" fill="#80BCD3" fill-opacity="0.82"/>
<circle cx="187.7" cy="354.1" r="1.85" fill="#80BCD3" fill-opacity="0.82"/>
<circle cx="141.2" cy="327.1" r="1.85" fill="#C4C4C4" fill-opacity="0.82"/>
<circle cx="146.3" cy="378.3" r="1.85" fill="#80BCD3" fill-opacity="0.82"/>
<circle cx="152.7" cy="363.8" r="1.85" fill="#C4C4C4" fill-opacity="0.82"/>
<circle cx="137.3" cy="370.8" r="1.85" fill="#80BCD3" fill-opacity="0.82"/>
<circle cx="179.0" cy="349.9" r="1.85" fill="#C4C4C4" fill-opacity="0.82"/>
<circle cx="158.8" cy="324.9" r="1.85" fill="#CFAD88" fill-opacity="0.82"/>
<circle cx="168.7" cy="354.1" r="1.85" fill="#C4C4C4" fill-opacity="0.82"/>
<circle cx="130.8" cy="380.4" r="1.85" fill="#C4C4C4" fill-opacity="0.82"/>
<circle cx="126.5" cy="359.0" r="1.85" fill="#C4C4C4" fill-opacity="0.82"/>
<circle cx="156.0" cy="351.3" r="1.85" fill="#80BCD3" fill-opacity="0.82"/>
<circle cx="132.4" cy="322.2" r="1.85" fill="#C4C4C4" fill-opacity="0.82"/>
<circle cx="154.7" cy="372.7" r="1.85" fill="#80BCD3" fill-opacity="0.82"/>
<circle cx="137.5" cy="360.7" r="1.85" fill="#CFAD88" fill-opacity="0.82"/>
<circle cx="146.8" cy="357.3" r="1.85" fill="#C4C4C4" fill-opacity="0.82"/>
<circle cx="181.0" cy="316.4" r="1.85" fill="#80BCD3" fill-opacity="0.82"/>
<circle cx="140.2" cy="379.7" r="1.85" fill="#C4C4C4" fill-opacity="0.82"/>
<circle cx="156.7" cy="393.2" r="1.85" fill="#CFAD88" fill-opacity="0.82"/>
<circle cx="170.2" cy="359.2" r="1.85" fill="#80BCD3" fill-opacity="0.82"/>
<circle cx="177.4" cy="304.4" r="1.85" fill="#C4C4C4" fill-opacity="0.82"/>
<circle cx="128.9" cy="343.0" r="1.85" fill="#C4C4C4" fill-opacity="0.82"/>
<circle cx="150.7" cy="323.5" r="1.85" fill="#C4C4C4" fill-opacity="0.82"/>
<circle cx="139.6" cy="360.9" r="1.85" fill="#C4C4C4" fill-opacity="0.82"/>
<circle cx="132.5" cy="403.7" r="1.85" fill="#C4C4C4" fill-opacity="0.82"/>
<circle cx="178.5" cy="363.8" r="1.85" fill="#CFAD88" fill-opacity="0.82"/>
<circle cx="158.8" cy="364.5" r="1.85" fill="#C4C4C4" fill-opacity="0.82"/>
<circle cx="146.6" cy="360.2" r="1.85" fill="#C4C4C4" fill-opacity="0.82"/>
<circle cx="181.8" cy="363.3" r="1.85" fill="#CFAD88" fill-opacity="0.82"/>
<circle cx="129.6" cy="365.0" r="1.85" fill="#80BCD3" fill-opacity="0.82"/>
<circle cx="174.9" cy="317.1" r="1.85" fill="#CFAD88" fill-opacity="0.82"/>
<circle cx="161.9" cy="373.1" r="1.85" fill="#CFAD88" fill-opacity="0.82"/>
<circle cx="157.4" cy="357.1" r="1.85" fill="#C4C4C4" fill-opacity="0.82"/>
<circle cx="135.5" cy="355.9" r="1.85" fill="#CFAD88" fill-opacity="0.82"/>
<circle cx="169.4" cy="316.3" r="1.85" fill="#CFAD88" fill-opacity="0.82"/>
<circle cx="139.9" cy="344.8" r="1.85" fill="#CFAD88" fill-opacity="0.82"/>
<circle cx="149.2" cy="315.3" r="1.85" fill="#CFAD88" fill-opacity="0.82"/>
<circle cx="147.3" cy="356.8" r="1.85" fill="#C4C4C4" fill-opacity="0.82"/>
<circle cx="136.3" cy="345.5" r="1.85" fill="#C4C4C4" fill-opacity="0.82"/>
<circle cx="166.9" cy="358.2" r="1.85" fill="#C4C4C4" fill-opacity="0.82"/>
<circle cx="147.3" cy="378.2" r="1.85" fill="#C4C4C4" fill-opacity="0.82"/>
<circle cx="144.8" cy="375.3" r="1.85" fill="#80BCD3" fill-opacity="0.82"/>
<circle cx="147.4" cy="373.2" r="1.85" fill="#80BCD3" fill-opacity="0.82"/>
<circle cx="179.2" cy="322.5" r="1.85" fill="#CFAD88" fill-opacity="0.82"/>
<circle cx="141.0" cy="349.9" r="1.85" fill="#CFAD88" fill-opacity="0.82"/>
<circle cx="139.2" cy="373.3" r="1.85" fill="#C4C4C4" fill-opacity="0.82"/>
<circle cx="127.0" cy="323.6" r="1.85" fill="#C4C4C4" fill-opacity="0.82"/>
<circle cx="112.0" cy="331.6" r="1.85" fill="#CFAD88" fill-opacity="0.82"/>
<circle cx="120.6" cy="329.6" r="1.85" fill="#C4C4C4" fill-opacity="0.82"/>
<circle cx="123.6" cy="330.4" r="1.85" fill="#CFAD88" fill-opacity="0.82"/>
<circle cx="129.6" cy="335.0" r="1.85" fill="#C4C4C4" fill-opacity="0.82"/>
<circle cx="119.0" cy="337.0" r="1.85" fill="#C4C4C4" fill-opacity="0.82"/>
<circle cx="115.4" cy="344.0" r="1.85" fill="#CFAD88" fill-opacity="0.82"/>
<circle cx="120.0" cy="346.0" r="1.85" fill="#CFAD88" fill-opacity="0.82"/>
<circle cx="118.0" cy="352.0" r="1.85" fill="#C4C4C4" fill-opacity="0.82"/>
<circle cx="126.0" cy="357.0" r="1.85" fill="#80BCD3" fill-opacity="0.82"/>
<circle cx="86.0" cy="364.4" r="1.85" fill="#CFAD88" fill-opacity="0.82"/>
<circle cx="95.0" cy="370.0" r="1.85" fill="#C4C4C4" fill-opacity="0.82"/>
<circle cx="98.0" cy="379.6" r="1.85" fill="#C4C4C4" fill-opacity="0.82"/>
<circle cx="98.0" cy="404.0" r="1.85" fill="#CFAD88" fill-opacity="0.82"/>
<circle cx="106.0" cy="393.0" r="1.85" fill="#C4C4C4" fill-opacity="0.82"/>
<circle cx="121.0" cy="418.4" r="1.85" fill="#C4C4C4" fill-opacity="0.82"/>
<circle cx="129.6" cy="417.6" r="1.85" fill="#CFAD88" fill-opacity="0.82"/>
<circle cx="134.0" cy="408.0" r="1.85" fill="#80BCD3" fill-opacity="0.82"/>
<circle cx="126.0" cy="403.0" r="1.85" fill="#CFAD88" fill-opacity="0.82"/>
<circle cx="169.0" cy="385.0" r="1.85" fill="#CFAD88" fill-opacity="0.82"/>
<circle cx="179.6" cy="385.6" r="1.85" fill="#CFAD88" fill-opacity="0.82"/>
<circle cx="162.0" cy="389.6" r="1.85" fill="#CFAD88" fill-opacity="0.82"/>
<circle cx="170.0" cy="394.0" r="1.85" fill="#C4C4C4" fill-opacity="0.82"/>
<circle cx="166.0" cy="399.0" r="1.85" fill="#C4C4C4" fill-opacity="0.82"/>
<circle cx="160.0" cy="403.6" r="1.85" fill="#CFAD88" fill-opacity="0.82"/>
<circle cx="153.0" cy="408.0" r="1.85" fill="#C4C4C4" fill-opacity="0.82"/>
<circle cx="146.0" cy="403.6" r="1.85" fill="#C4C4C4" fill-opacity="0.82"/>
<circle cx="151.0" cy="399.0" r="1.85" fill="#80BCD3" fill-opacity="0.82"/>
<circle cx="154.0" cy="399.0" r="1.85" fill="#80BCD3" fill-opacity="0.82"/>
<circle cx="177.0" cy="371.0" r="1.85" fill="#C4C4C4" fill-opacity="0.82"/>
<circle cx="183.0" cy="368.0" r="1.85" fill="#CFAD88" fill-opacity="0.82"/>
<circle cx="209.0" cy="362.6" r="1.85" fill="#CFAD88" fill-opacity="0.82"/>
<circle cx="137.0" cy="400.0" r="1.85" fill="#CFAD88" fill-opacity="0.82"/>
<circle cx="151.0" cy="299.0" r="1.85" fill="#CFAD88" fill-opacity="0.82"/>
<circle cx="198.0" cy="303.0" r="1.85" fill="#CFAD88" fill-opacity="0.82"/>
<circle cx="188.0" cy="321.0" r="1.85" fill="#CFAD88" fill-opacity="0.82"/>
<circle cx="191.0" cy="318.0" r="1.85" fill="#CFAD88" fill-opacity="0.82"/>
<circle cx="200.0" cy="323.0" r="1.85" fill="#CFAD88" fill-opacity="0.82"/>
<circle cx="205.0" cy="322.0" r="1.85" fill="#CFAD88" fill-opacity="0.82"/>
<circle cx="208.0" cy="329.0" r="1.85" fill="#CFAD88" fill-opacity="0.82"/>
<circle cx="217.0" cy="328.0" r="1.85" fill="#CFAD88" fill-opacity="0.82"/>
<circle cx="210.0" cy="336.0" r="1.85" fill="#CFAD88" fill-opacity="0.82"/>
<circle cx="210.0" cy="361.0" r="1.85" fill="#CFAD88" fill-opacity="0.82"/>
<text x="119.0" y="281.3" class="nl" fill="#AE6098">18</text>
<text x="88.4" y="327.3" class="nl" fill="#8958BC">1</text>
<text x="152.2" y="291.6" class="nl" fill="#E58056">22</text>
<text x="234.5" y="329.3" class="nl" fill="#E58056">11</text>
<text x="170.0" y="330.6" class="nl" fill="#AE6098">7</text>
<text x="177.3" y="336.6" class="nl" fill="#F08C42">17</text>
<text x="155.0" y="346.2" class="nl" fill="#AE6098">8</text>
<text x="176.0" y="346.2" class="nl" fill="#E58056">26</text>
<text x="128.2" y="351.1" class="nl" fill="#CF6E74">34</text>
<text x="162.3" y="361.9" class="nl" fill="#8958BC">25</text>
<text x="111.8" y="364.7" class="nl" fill="#E58056">20</text>
<text x="135.8" y="367.4" class="nl" fill="#BF6587">32</text>
<text x="162.3" y="368.9" class="nl" fill="#DE7A60">5</text>
<text x="192.8" y="369.3" class="nl" fill="#F99A2A">23</text>
<text x="116.5" y="373.4" class="nl" fill="#AE6098">12</text>
<text x="125.0" y="372.9" class="nl" fill="#9C5AAA">9</text>
<text x="131.0" y="370.9" class="nl" fill="#8958BC">33</text>
<text x="141.3" y="372.9" class="nl" fill="#BF6587">3</text>
<text x="155.4" y="377.9" class="nl" fill="#FB9D24">10</text>
<text x="122.7" y="380.5" class="nl" fill="#9259B3">28</text>
<text x="133.6" y="381.6" class="nl" fill="#8958BC">15</text>
<text x="125.5" y="388.4" class="nl" fill="#8958BC">31</text>
<text x="140.8" y="390.4" class="nl" fill="#E58056" fill-opacity="0.8">29</text>
<text x="116.5" y="394.7" class="nl" fill="#F7972E">35</text>
<text x="128.4" y="401.5" class="nl" fill="#E58056">16</text>
<text x="35.6" y="388.5" class="nl" fill="#CF6E74">4</text>
<text x="84.6" y="410.9" class="nl" fill="#8958BC">2</text>
<text x="107.6" y="414.9" class="nl" fill="#E58056">27</text>
<text x="80.0" y="430.5" class="nl" fill="#CF6E74">19</text>
<text x="123.0" y="427.3" class="nl" fill="#F08C42">13</text>
<text x="194.6" y="416.5" class="nl" fill="#CF6E74">21</text>
<text x="161.0" y="449.3" class="nl" fill="#AE6098">14</text>
</g>
<g clip-path="url(#clipb2)">
<circle cx="386.8" cy="320.5" r="1.85" fill="#C4C4C4" fill-opacity="0.82"/>
<circle cx="374.5" cy="335.6" r="1.85" fill="#CFAD88" fill-opacity="0.82"/>
<circle cx="399.0" cy="352.6" r="1.85" fill="#C4C4C4" fill-opacity="0.82"/>
<circle cx="359.4" cy="369.3" r="1.85" fill="#CFAD88" fill-opacity="0.82"/>
<circle cx="362.6" cy="385.3" r="1.85" fill="#80BCD3" fill-opacity="0.82"/>
<circle cx="391.8" cy="360.8" r="1.85" fill="#CFAD88" fill-opacity="0.82"/>
<circle cx="369.3" cy="346.2" r="1.85" fill="#CFAD88" fill-opacity="0.82"/>
<circle cx="385.5" cy="350.6" r="1.85" fill="#CFAD88" fill-opacity="0.82"/>
<circle cx="423.1" cy="383.2" r="1.85" fill="#C4C4C4" fill-opacity="0.82"/>
<circle cx="412.0" cy="343.5" r="1.85" fill="#80BCD3" fill-opacity="0.82"/>
<circle cx="408.0" cy="344.2" r="1.85" fill="#80BCD3" fill-opacity="0.82"/>
<circle cx="368.0" cy="378.0" r="1.85" fill="#80BCD3" fill-opacity="0.82"/>
<circle cx="355.9" cy="388.1" r="1.85" fill="#80BCD3" fill-opacity="0.82"/>
<circle cx="400.1" cy="346.1" r="1.85" fill="#80BCD3" fill-opacity="0.82"/>
<circle cx="379.0" cy="379.3" r="1.85" fill="#80BCD3" fill-opacity="0.82"/>
<circle cx="388.3" cy="391.8" r="1.85" fill="#CFAD88" fill-opacity="0.82"/>
<circle cx="397.1" cy="345.1" r="1.85" fill="#CFAD88" fill-opacity="0.82"/>
<circle cx="386.2" cy="369.1" r="1.85" fill="#80BCD3" fill-opacity="0.82"/>
<circle cx="379.8" cy="363.9" r="1.85" fill="#C4C4C4" fill-opacity="0.82"/>
<circle cx="369.1" cy="346.4" r="1.85" fill="#C4C4C4" fill-opacity="0.82"/>
<circle cx="400.6" cy="392.1" r="1.85" fill="#CFAD88" fill-opacity="0.82"/>
<circle cx="413.4" cy="349.5" r="1.85" fill="#C4C4C4" fill-opacity="0.82"/>
<circle cx="396.8" cy="402.8" r="1.85" fill="#C4C4C4" fill-opacity="0.82"/>
<circle cx="359.1" cy="395.4" r="1.85" fill="#80BCD3" fill-opacity="0.82"/>
<circle cx="396.2" cy="362.4" r="1.85" fill="#CFAD88" fill-opacity="0.82"/>
<circle cx="386.2" cy="361.4" r="1.85" fill="#CFAD88" fill-opacity="0.82"/>
<circle cx="387.4" cy="389.4" r="1.85" fill="#CFAD88" fill-opacity="0.82"/>
<circle cx="368.0" cy="369.6" r="1.85" fill="#C4C4C4" fill-opacity="0.82"/>
<circle cx="366.3" cy="397.6" r="1.85" fill="#80BCD3" fill-opacity="0.82"/>
<circle cx="399.8" cy="366.6" r="1.85" fill="#C4C4C4" fill-opacity="0.82"/>
<circle cx="371.7" cy="378.9" r="1.85" fill="#C4C4C4" fill-opacity="0.82"/>
<circle cx="393.0" cy="351.6" r="1.85" fill="#CFAD88" fill-opacity="0.82"/>
<circle cx="382.5" cy="398.7" r="1.85" fill="#80BCD3" fill-opacity="0.82"/>
<circle cx="381.3" cy="372.1" r="1.85" fill="#CFAD88" fill-opacity="0.82"/>
<circle cx="381.0" cy="343.6" r="1.85" fill="#C4C4C4" fill-opacity="0.82"/>
<circle cx="379.8" cy="393.5" r="1.85" fill="#C4C4C4" fill-opacity="0.82"/>
<circle cx="419.2" cy="327.9" r="1.85" fill="#80BCD3" fill-opacity="0.82"/>
<circle cx="378.9" cy="397.0" r="1.85" fill="#C4C4C4" fill-opacity="0.82"/>
<circle cx="395.9" cy="352.2" r="1.85" fill="#80BCD3" fill-opacity="0.82"/>
<circle cx="420.5" cy="335.7" r="1.85" fill="#C4C4C4" fill-opacity="0.82"/>
<circle cx="398.7" cy="290.0" r="1.85" fill="#C4C4C4" fill-opacity="0.82"/>
<circle cx="379.9" cy="352.5" r="1.85" fill="#C4C4C4" fill-opacity="0.82"/>
<circle cx="393.7" cy="386.2" r="1.85" fill="#CFAD88" fill-opacity="0.82"/>
<circle cx="384.4" cy="360.1" r="1.85" fill="#C4C4C4" fill-opacity="0.82"/>
<circle cx="392.7" cy="388.8" r="1.85" fill="#C4C4C4" fill-opacity="0.82"/>
<circle cx="387.9" cy="348.1" r="1.85" fill="#80BCD3" fill-opacity="0.82"/>
<circle cx="414.1" cy="345.1" r="1.85" fill="#C4C4C4" fill-opacity="0.82"/>
<circle cx="394.3" cy="365.5" r="1.85" fill="#C4C4C4" fill-opacity="0.82"/>
<circle cx="393.8" cy="401.1" r="1.85" fill="#C4C4C4" fill-opacity="0.82"/>
<circle cx="408.6" cy="336.5" r="1.85" fill="#80BCD3" fill-opacity="0.82"/>
<circle cx="351.8" cy="394.6" r="1.85" fill="#C4C4C4" fill-opacity="0.82"/>
<circle cx="380.7" cy="401.7" r="1.85" fill="#C4C4C4" fill-opacity="0.82"/>
<circle cx="400.9" cy="372.1" r="1.85" fill="#C4C4C4" fill-opacity="0.82"/>
<circle cx="402.9" cy="338.4" r="1.85" fill="#CFAD88" fill-opacity="0.82"/>
<circle cx="397.7" cy="327.2" r="1.85" fill="#CFAD88" fill-opacity="0.82"/>
<circle cx="387.2" cy="327.8" r="1.85" fill="#CFAD88" fill-opacity="0.82"/>
<circle cx="381.6" cy="380.3" r="1.85" fill="#C4C4C4" fill-opacity="0.82"/>
<circle cx="392.1" cy="343.8" r="1.85" fill="#80BCD3" fill-opacity="0.82"/>
<circle cx="375.5" cy="389.2" r="1.85" fill="#80BCD3" fill-opacity="0.82"/>
<circle cx="393.4" cy="360.9" r="1.85" fill="#C4C4C4" fill-opacity="0.82"/>
<circle cx="403.1" cy="367.9" r="1.85" fill="#C4C4C4" fill-opacity="0.82"/>
<circle cx="387.3" cy="359.9" r="1.85" fill="#80BCD3" fill-opacity="0.82"/>
<circle cx="379.9" cy="365.4" r="1.85" fill="#C4C4C4" fill-opacity="0.82"/>
<circle cx="393.9" cy="355.0" r="1.85" fill="#80BCD3" fill-opacity="0.82"/>
<circle cx="400.9" cy="385.8" r="1.85" fill="#C4C4C4" fill-opacity="0.82"/>
<circle cx="398.4" cy="329.9" r="1.85" fill="#C4C4C4" fill-opacity="0.82"/>
<circle cx="393.7" cy="379.3" r="1.85" fill="#C4C4C4" fill-opacity="0.82"/>
<circle cx="389.5" cy="357.0" r="1.85" fill="#C4C4C4" fill-opacity="0.82"/>
<circle cx="392.2" cy="379.2" r="1.85" fill="#80BCD3" fill-opacity="0.82"/>
<circle cx="368.7" cy="354.1" r="1.85" fill="#C4C4C4" fill-opacity="0.82"/>
<circle cx="378.0" cy="375.1" r="1.85" fill="#CFAD88" fill-opacity="0.82"/>
<circle cx="385.4" cy="360.9" r="1.85" fill="#C4C4C4" fill-opacity="0.82"/>
<circle cx="362.0" cy="350.6" r="1.85" fill="#C4C4C4" fill-opacity="0.82"/>
<circle cx="448.2" cy="301.2" r="1.85" fill="#CFAD88" fill-opacity="0.82"/>
<circle cx="412.1" cy="368.9" r="1.85" fill="#80BCD3" fill-opacity="0.82"/>
<circle cx="387.9" cy="323.4" r="1.85" fill="#CFAD88" fill-opacity="0.82"/>
<circle cx="428.6" cy="311.4" r="1.85" fill="#C4C4C4" fill-opacity="0.82"/>
<circle cx="385.0" cy="363.6" r="1.85" fill="#C4C4C4" fill-opacity="0.82"/>
<circle cx="390.2" cy="374.6" r="1.85" fill="#C4C4C4" fill-opacity="0.82"/>
<circle cx="404.0" cy="341.9" r="1.85" fill="#C4C4C4" fill-opacity="0.82"/>
<circle cx="399.5" cy="377.0" r="1.85" fill="#80BCD3" fill-opacity="0.82"/>
<circle cx="424.0" cy="346.2" r="1.85" fill="#C4C4C4" fill-opacity="0.82"/>
<circle cx="404.4" cy="299.6" r="1.85" fill="#CFAD88" fill-opacity="0.82"/>
<circle cx="407.4" cy="379.9" r="1.85" fill="#C4C4C4" fill-opacity="0.82"/>
<circle cx="399.1" cy="347.9" r="1.85" fill="#CFAD88" fill-opacity="0.82"/>
<circle cx="398.8" cy="384.0" r="1.85" fill="#CFAD88" fill-opacity="0.82"/>
<circle cx="380.4" cy="371.2" r="1.85" fill="#CFAD88" fill-opacity="0.82"/>
<circle cx="370.4" cy="393.1" r="1.85" fill="#80BCD3" fill-opacity="0.82"/>
<circle cx="397.1" cy="381.9" r="1.85" fill="#80BCD3" fill-opacity="0.82"/>
<circle cx="389.1" cy="341.9" r="1.85" fill="#CFAD88" fill-opacity="0.82"/>
<circle cx="411.0" cy="336.1" r="1.85" fill="#C4C4C4" fill-opacity="0.82"/>
<circle cx="401.1" cy="357.2" r="1.85" fill="#CFAD88" fill-opacity="0.82"/>
<circle cx="404.2" cy="333.8" r="1.85" fill="#C4C4C4" fill-opacity="0.82"/>
<circle cx="379.9" cy="380.4" r="1.85" fill="#CFAD88" fill-opacity="0.82"/>
<circle cx="369.5" cy="326.5" r="1.85" fill="#80BCD3" fill-opacity="0.82"/>
<circle cx="382.1" cy="363.3" r="1.85" fill="#80BCD3" fill-opacity="0.82"/>
<circle cx="375.0" cy="365.6" r="1.85" fill="#CFAD88" fill-opacity="0.82"/>
<circle cx="401.8" cy="369.5" r="1.85" fill="#CFAD88" fill-opacity="0.82"/>
<circle cx="395.6" cy="370.0" r="1.85" fill="#CFAD88" fill-opacity="0.82"/>
<circle cx="384.5" cy="373.5" r="1.85" fill="#80BCD3" fill-opacity="0.82"/>
<circle cx="390.9" cy="349.5" r="1.85" fill="#C4C4C4" fill-opacity="0.82"/>
<circle cx="386.9" cy="367.4" r="1.85" fill="#80BCD3" fill-opacity="0.82"/>
<circle cx="403.1" cy="343.6" r="1.85" fill="#80BCD3" fill-opacity="0.82"/>
<circle cx="416.4" cy="385.0" r="1.85" fill="#80BCD3" fill-opacity="0.82"/>
<circle cx="399.9" cy="295.4" r="1.85" fill="#C4C4C4" fill-opacity="0.82"/>
<circle cx="419.1" cy="373.4" r="1.85" fill="#CFAD88" fill-opacity="0.82"/>
<circle cx="417.0" cy="337.0" r="1.85" fill="#CFAD88" fill-opacity="0.82"/>
<circle cx="408.3" cy="366.0" r="1.85" fill="#CFAD88" fill-opacity="0.82"/>
<circle cx="435.0" cy="310.9" r="1.85" fill="#CFAD88" fill-opacity="0.82"/>
<circle cx="370.4" cy="366.9" r="1.85" fill="#C4C4C4" fill-opacity="0.82"/>
<circle cx="399.6" cy="364.5" r="1.85" fill="#80BCD3" fill-opacity="0.82"/>
<circle cx="361.2" cy="396.8" r="1.85" fill="#80BCD3" fill-opacity="0.82"/>
<circle cx="441.8" cy="337.3" r="1.85" fill="#CFAD88" fill-opacity="0.82"/>
<circle cx="347.9" cy="423.7" r="1.85" fill="#CFAD88" fill-opacity="0.82"/>
<circle cx="370.0" cy="399.6" r="1.85" fill="#CFAD88" fill-opacity="0.82"/>
<circle cx="359.7" cy="398.3" r="1.85" fill="#C4C4C4" fill-opacity="0.82"/>
<circle cx="391.6" cy="343.3" r="1.85" fill="#C4C4C4" fill-opacity="0.82"/>
<circle cx="394.1" cy="324.1" r="1.85" fill="#CFAD88" fill-opacity="0.82"/>
<circle cx="391.0" cy="337.7" r="1.85" fill="#C4C4C4" fill-opacity="0.82"/>
<circle cx="361.5" cy="397.9" r="1.85" fill="#CFAD88" fill-opacity="0.82"/>
<circle cx="388.4" cy="368.2" r="1.85" fill="#CFAD88" fill-opacity="0.82"/>
<circle cx="355.3" cy="374.8" r="1.85" fill="#CFAD88" fill-opacity="0.82"/>
<circle cx="412.4" cy="370.1" r="1.85" fill="#CFAD88" fill-opacity="0.82"/>
<circle cx="416.0" cy="364.4" r="1.85" fill="#80BCD3" fill-opacity="0.82"/>
<circle cx="390.8" cy="403.6" r="1.85" fill="#C4C4C4" fill-opacity="0.82"/>
<circle cx="373.9" cy="397.1" r="1.85" fill="#80BCD3" fill-opacity="0.82"/>
<circle cx="400.9" cy="369.7" r="1.85" fill="#C4C4C4" fill-opacity="0.82"/>
<circle cx="379.7" cy="340.8" r="1.85" fill="#C4C4C4" fill-opacity="0.82"/>
<circle cx="388.2" cy="356.3" r="1.85" fill="#C4C4C4" fill-opacity="0.82"/>
<circle cx="387.4" cy="363.8" r="1.85" fill="#C4C4C4" fill-opacity="0.82"/>
<circle cx="379.7" cy="363.8" r="1.85" fill="#CFAD88" fill-opacity="0.82"/>
<circle cx="395.3" cy="329.3" r="1.85" fill="#80BCD3" fill-opacity="0.82"/>
<circle cx="425.2" cy="365.8" r="1.85" fill="#CFAD88" fill-opacity="0.82"/>
<circle cx="355.1" cy="389.7" r="1.85" fill="#CFAD88" fill-opacity="0.82"/>
<circle cx="427.2" cy="366.5" r="1.85" fill="#C4C4C4" fill-opacity="0.82"/>
<circle cx="392.5" cy="366.6" r="1.85" fill="#CFAD88" fill-opacity="0.82"/>
<circle cx="403.0" cy="374.8" r="1.85" fill="#80BCD3" fill-opacity="0.82"/>
<circle cx="424.5" cy="284.4" r="1.85" fill="#C4C4C4" fill-opacity="0.82"/>
<circle cx="385.2" cy="348.9" r="1.85" fill="#CFAD88" fill-opacity="0.82"/>
<circle cx="414.7" cy="387.6" r="1.85" fill="#80BCD3" fill-opacity="0.82"/>
<circle cx="378.5" cy="381.9" r="1.85" fill="#C4C4C4" fill-opacity="0.82"/>
<circle cx="395.1" cy="355.4" r="1.85" fill="#CFAD88" fill-opacity="0.82"/>
<circle cx="412.6" cy="357.4" r="1.85" fill="#C4C4C4" fill-opacity="0.82"/>
<circle cx="406.3" cy="352.0" r="1.85" fill="#80BCD3" fill-opacity="0.82"/>
<circle cx="368.7" cy="380.5" r="1.85" fill="#80BCD3" fill-opacity="0.82"/>
<circle cx="370.3" cy="382.3" r="1.85" fill="#C4C4C4" fill-opacity="0.82"/>
<circle cx="394.9" cy="392.5" r="1.85" fill="#80BCD3" fill-opacity="0.82"/>
<circle cx="384.2" cy="378.6" r="1.85" fill="#C4C4C4" fill-opacity="0.82"/>
<circle cx="462.7" cy="329.2" r="1.85" fill="#CFAD88" fill-opacity="0.82"/>
<circle cx="391.1" cy="356.6" r="1.85" fill="#C4C4C4" fill-opacity="0.82"/>
<circle cx="416.6" cy="338.5" r="1.85" fill="#C4C4C4" fill-opacity="0.82"/>
<circle cx="378.2" cy="367.7" r="1.85" fill="#CFAD88" fill-opacity="0.82"/>
<circle cx="374.2" cy="373.9" r="1.85" fill="#80BCD3" fill-opacity="0.82"/>
<circle cx="410.0" cy="358.4" r="1.85" fill="#80BCD3" fill-opacity="0.82"/>
<circle cx="399.4" cy="334.8" r="1.85" fill="#C4C4C4" fill-opacity="0.82"/>
<circle cx="392.9" cy="365.5" r="1.85" fill="#C4C4C4" fill-opacity="0.82"/>
<circle cx="388.8" cy="356.3" r="1.85" fill="#CFAD88" fill-opacity="0.82"/>
<circle cx="384.6" cy="353.1" r="1.85" fill="#CFAD88" fill-opacity="0.82"/>
<circle cx="395.5" cy="350.0" r="1.85" fill="#80BCD3" fill-opacity="0.82"/>
<circle cx="428.5" cy="403.3" r="1.85" fill="#CFAD88" fill-opacity="0.82"/>
<circle cx="381.3" cy="335.4" r="1.85" fill="#80BCD3" fill-opacity="0.82"/>
<circle cx="384.6" cy="380.8" r="1.85" fill="#80BCD3" fill-opacity="0.82"/>
<circle cx="422.9" cy="348.3" r="1.85" fill="#80BCD3" fill-opacity="0.82"/>
<circle cx="359.1" cy="395.6" r="1.85" fill="#C4C4C4" fill-opacity="0.82"/>
<circle cx="368.5" cy="371.0" r="1.85" fill="#80BCD3" fill-opacity="0.82"/>
<circle cx="409.4" cy="347.7" r="1.85" fill="#80BCD3" fill-opacity="0.82"/>
<circle cx="373.6" cy="362.3" r="1.85" fill="#C4C4C4" fill-opacity="0.82"/>
<circle cx="365.0" cy="392.1" r="1.85" fill="#80BCD3" fill-opacity="0.82"/>
<circle cx="393.0" cy="385.8" r="1.85" fill="#CFAD88" fill-opacity="0.82"/>
<circle cx="388.2" cy="370.8" r="1.85" fill="#80BCD3" fill-opacity="0.82"/>
<circle cx="399.2" cy="328.8" r="1.85" fill="#80BCD3" fill-opacity="0.82"/>
<circle cx="409.6" cy="348.4" r="1.85" fill="#80BCD3" fill-opacity="0.82"/>
<circle cx="442.0" cy="366.4" r="1.85" fill="#CFAD88" fill-opacity="0.82"/>
<circle cx="385.1" cy="384.6" r="1.85" fill="#CFAD88" fill-opacity="0.82"/>
<circle cx="371.5" cy="374.9" r="1.85" fill="#CFAD88" fill-opacity="0.82"/>
<circle cx="383.4" cy="371.9" r="1.85" fill="#80BCD3" fill-opacity="0.82"/>
<circle cx="386.2" cy="391.9" r="1.85" fill="#80BCD3" fill-opacity="0.82"/>
<circle cx="439.0" cy="335.7" r="1.85" fill="#CFAD88" fill-opacity="0.82"/>
<circle cx="388.2" cy="360.5" r="1.85" fill="#80BCD3" fill-opacity="0.82"/>
<circle cx="383.8" cy="351.4" r="1.85" fill="#CFAD88" fill-opacity="0.82"/>
<circle cx="414.7" cy="350.0" r="1.85" fill="#C4C4C4" fill-opacity="0.82"/>
<circle cx="405.5" cy="358.1" r="1.85" fill="#C4C4C4" fill-opacity="0.82"/>
<circle cx="372.2" cy="377.0" r="1.85" fill="#CFAD88" fill-opacity="0.82"/>
<circle cx="383.2" cy="380.4" r="1.85" fill="#80BCD3" fill-opacity="0.82"/>
<circle cx="413.4" cy="349.7" r="1.85" fill="#C4C4C4" fill-opacity="0.82"/>
<circle cx="392.5" cy="352.3" r="1.85" fill="#C4C4C4" fill-opacity="0.82"/>
<circle cx="383.3" cy="357.8" r="1.85" fill="#C4C4C4" fill-opacity="0.82"/>
<circle cx="370.3" cy="380.5" r="1.85" fill="#C4C4C4" fill-opacity="0.82"/>
<circle cx="403.6" cy="347.7" r="1.85" fill="#C4C4C4" fill-opacity="0.82"/>
<circle cx="386.3" cy="390.8" r="1.85" fill="#C4C4C4" fill-opacity="0.82"/>
<circle cx="370.8" cy="360.1" r="1.85" fill="#80BCD3" fill-opacity="0.82"/>
<circle cx="414.2" cy="339.2" r="1.85" fill="#C4C4C4" fill-opacity="0.82"/>
<circle cx="412.8" cy="311.8" r="1.85" fill="#C4C4C4" fill-opacity="0.82"/>
<circle cx="436.0" cy="372.4" r="1.85" fill="#C4C4C4" fill-opacity="0.82"/>
<circle cx="423.9" cy="342.9" r="1.85" fill="#C4C4C4" fill-opacity="0.82"/>
<circle cx="365.2" cy="364.6" r="1.85" fill="#80BCD3" fill-opacity="0.82"/>
<circle cx="339.6" cy="409.8" r="1.85" fill="#C4C4C4" fill-opacity="0.82"/>
<circle cx="361.1" cy="363.4" r="1.85" fill="#80BCD3" fill-opacity="0.82"/>
<circle cx="391.5" cy="350.6" r="1.85" fill="#CFAD88" fill-opacity="0.82"/>
<circle cx="395.1" cy="354.5" r="1.85" fill="#CFAD88" fill-opacity="0.82"/>
<circle cx="416.3" cy="318.3" r="1.85" fill="#CFAD88" fill-opacity="0.82"/>
<circle cx="369.8" cy="381.5" r="1.85" fill="#80BCD3" fill-opacity="0.82"/>
<circle cx="390.0" cy="377.3" r="1.85" fill="#C4C4C4" fill-opacity="0.82"/>
<circle cx="392.1" cy="322.2" r="1.85" fill="#CFAD88" fill-opacity="0.82"/>
<circle cx="426.0" cy="323.3" r="1.85" fill="#C4C4C4" fill-opacity="0.82"/>
<circle cx="401.5" cy="340.2" r="1.85" fill="#80BCD3" fill-opacity="0.82"/>
<circle cx="400.7" cy="351.1" r="1.85" fill="#CFAD88" fill-opacity="0.82"/>
<circle cx="399.8" cy="349.4" r="1.85" fill="#CFAD88" fill-opacity="0.82"/>
<circle cx="394.2" cy="383.1" r="1.85" fill="#CFAD88" fill-opacity="0.82"/>
<circle cx="429.8" cy="319.1" r="1.85" fill="#CFAD88" fill-opacity="0.82"/>
<circle cx="368.8" cy="371.0" r="1.85" fill="#C4C4C4" fill-opacity="0.82"/>
<circle cx="371.5" cy="374.8" r="1.85" fill="#CFAD88" fill-opacity="0.82"/>
<circle cx="389.5" cy="349.8" r="1.85" fill="#C4C4C4" fill-opacity="0.82"/>
<circle cx="376.5" cy="344.1" r="1.85" fill="#80BCD3" fill-opacity="0.82"/>
<circle cx="415.0" cy="353.0" r="1.85" fill="#80BCD3" fill-opacity="0.82"/>
<circle cx="400.6" cy="373.3" r="1.85" fill="#CFAD88" fill-opacity="0.82"/>
<circle cx="394.2" cy="335.0" r="1.85" fill="#C4C4C4" fill-opacity="0.82"/>
<circle cx="385.8" cy="360.0" r="1.85" fill="#CFAD88" fill-opacity="0.82"/>
<circle cx="389.6" cy="364.8" r="1.85" fill="#C4C4C4" fill-opacity="0.82"/>
<circle cx="384.9" cy="351.0" r="1.85" fill="#CFAD88" fill-opacity="0.82"/>
<circle cx="407.1" cy="362.7" r="1.85" fill="#80BCD3" fill-opacity="0.82"/>
<circle cx="409.6" cy="348.4" r="1.85" fill="#C4C4C4" fill-opacity="0.82"/>
<circle cx="402.1" cy="391.6" r="1.85" fill="#C4C4C4" fill-opacity="0.82"/>
<circle cx="398.3" cy="361.7" r="1.85" fill="#80BCD3" fill-opacity="0.82"/>
<circle cx="424.5" cy="300.8" r="1.85" fill="#CFAD88" fill-opacity="0.82"/>
<circle cx="377.8" cy="341.2" r="1.85" fill="#C4C4C4" fill-opacity="0.82"/>
<circle cx="379.6" cy="390.3" r="1.85" fill="#C4C4C4" fill-opacity="0.82"/>
<circle cx="370.8" cy="354.0" r="1.85" fill="#80BCD3" fill-opacity="0.82"/>
<circle cx="389.3" cy="348.4" r="1.85" fill="#C4C4C4" fill-opacity="0.82"/>
<circle cx="375.3" cy="381.8" r="1.85" fill="#CFAD88" fill-opacity="0.82"/>
<circle cx="405.2" cy="352.1" r="1.85" fill="#C4C4C4" fill-opacity="0.82"/>
<circle cx="366.0" cy="387.2" r="1.85" fill="#80BCD3" fill-opacity="0.82"/>
<circle cx="372.8" cy="370.5" r="1.85" fill="#CFAD88" fill-opacity="0.82"/>
<circle cx="445.6" cy="356.2" r="1.85" fill="#C4C4C4" fill-opacity="0.82"/>
<circle cx="439.2" cy="327.1" r="1.85" fill="#C4C4C4" fill-opacity="0.82"/>
<circle cx="397.9" cy="386.5" r="1.85" fill="#C4C4C4" fill-opacity="0.82"/>
<circle cx="341.4" cy="393.2" r="1.85" fill="#80BCD3" fill-opacity="0.82"/>
<circle cx="406.2" cy="391.7" r="1.85" fill="#CFAD88" fill-opacity="0.82"/>
<circle cx="383.3" cy="364.3" r="1.85" fill="#C4C4C4" fill-opacity="0.82"/>
<circle cx="369.7" cy="387.9" r="1.85" fill="#C4C4C4" fill-opacity="0.82"/>
<circle cx="395.0" cy="368.8" r="1.85" fill="#C4C4C4" fill-opacity="0.82"/>
<circle cx="402.5" cy="373.4" r="1.85" fill="#80BCD3" fill-opacity="0.82"/>
<circle cx="385.1" cy="358.5" r="1.85" fill="#CFAD88" fill-opacity="0.82"/>
<circle cx="406.6" cy="347.9" r="1.85" fill="#CFAD88" fill-opacity="0.82"/>
<circle cx="390.3" cy="371.7" r="1.85" fill="#C4C4C4" fill-opacity="0.82"/>
<circle cx="418.3" cy="328.3" r="1.85" fill="#C4C4C4" fill-opacity="0.82"/>
<circle cx="400.4" cy="359.2" r="1.85" fill="#C4C4C4" fill-opacity="0.82"/>
<circle cx="415.7" cy="359.3" r="1.85" fill="#C4C4C4" fill-opacity="0.82"/>
<circle cx="395.1" cy="371.4" r="1.85" fill="#80BCD3" fill-opacity="0.82"/>
<circle cx="384.5" cy="365.4" r="1.85" fill="#C4C4C4" fill-opacity="0.82"/>
<circle cx="390.1" cy="349.7" r="1.85" fill="#C4C4C4" fill-opacity="0.82"/>
<circle cx="386.3" cy="372.8" r="1.85" fill="#CFAD88" fill-opacity="0.82"/>
<circle cx="400.3" cy="365.1" r="1.85" fill="#CFAD88" fill-opacity="0.82"/>
<circle cx="420.0" cy="351.0" r="1.85" fill="#CFAD88" fill-opacity="0.82"/>
<circle cx="375.3" cy="367.9" r="1.85" fill="#80BCD3" fill-opacity="0.82"/>
<circle cx="399.7" cy="358.4" r="1.85" fill="#C4C4C4" fill-opacity="0.82"/>
<circle cx="400.4" cy="341.5" r="1.85" fill="#80BCD3" fill-opacity="0.82"/>
<circle cx="387.1" cy="379.0" r="1.85" fill="#80BCD3" fill-opacity="0.82"/>
<circle cx="388.2" cy="379.3" r="1.85" fill="#C4C4C4" fill-opacity="0.82"/>
<circle cx="415.9" cy="350.1" r="1.85" fill="#CFAD88" fill-opacity="0.82"/>
<circle cx="383.4" cy="340.4" r="1.85" fill="#C4C4C4" fill-opacity="0.82"/>
<circle cx="431.9" cy="361.0" r="1.85" fill="#C4C4C4" fill-opacity="0.82"/>
<circle cx="401.2" cy="354.7" r="1.85" fill="#C4C4C4" fill-opacity="0.82"/>
<circle cx="382.3" cy="354.4" r="1.85" fill="#C4C4C4" fill-opacity="0.82"/>
<circle cx="419.6" cy="394.8" r="1.85" fill="#CFAD88" fill-opacity="0.82"/>
<circle cx="363.7" cy="399.2" r="1.85" fill="#CFAD88" fill-opacity="0.82"/>
<circle cx="377.5" cy="384.8" r="1.85" fill="#CFAD88" fill-opacity="0.82"/>
<circle cx="368.4" cy="399.6" r="1.85" fill="#C4C4C4" fill-opacity="0.82"/>
<circle cx="365.3" cy="367.3" r="1.85" fill="#C4C4C4" fill-opacity="0.82"/>
<circle cx="399.7" cy="354.2" r="1.85" fill="#CFAD88" fill-opacity="0.82"/>
<circle cx="355.7" cy="384.0" r="1.85" fill="#CFAD88" fill-opacity="0.82"/>
<circle cx="424.1" cy="371.4" r="1.85" fill="#CFAD88" fill-opacity="0.82"/>
<circle cx="400.9" cy="360.9" r="1.85" fill="#CFAD88" fill-opacity="0.82"/>
<circle cx="389.9" cy="377.0" r="1.85" fill="#CFAD88" fill-opacity="0.82"/>
<circle cx="416.5" cy="328.9" r="1.85" fill="#C4C4C4" fill-opacity="0.82"/>
<circle cx="406.9" cy="342.4" r="1.85" fill="#CFAD88" fill-opacity="0.82"/>
<circle cx="396.6" cy="389.3" r="1.85" fill="#C4C4C4" fill-opacity="0.82"/>
<circle cx="415.6" cy="356.6" r="1.85" fill="#CFAD88" fill-opacity="0.82"/>
<circle cx="418.8" cy="365.0" r="1.85" fill="#CFAD88" fill-opacity="0.82"/>
<circle cx="399.9" cy="322.4" r="1.85" fill="#CFAD88" fill-opacity="0.82"/>
<circle cx="423.4" cy="347.5" r="1.85" fill="#CFAD88" fill-opacity="0.82"/>
<circle cx="379.8" cy="364.2" r="1.85" fill="#80BCD3" fill-opacity="0.82"/>
<circle cx="396.6" cy="359.9" r="1.85" fill="#CFAD88" fill-opacity="0.82"/>
<circle cx="376.9" cy="357.2" r="1.85" fill="#C4C4C4" fill-opacity="0.82"/>
<circle cx="414.0" cy="338.2" r="1.85" fill="#C4C4C4" fill-opacity="0.82"/>
<circle cx="392.6" cy="360.0" r="1.85" fill="#C4C4C4" fill-opacity="0.82"/>
<circle cx="381.1" cy="383.6" r="1.85" fill="#80BCD3" fill-opacity="0.82"/>
<circle cx="379.6" cy="343.2" r="1.85" fill="#C4C4C4" fill-opacity="0.82"/>
<circle cx="370.9" cy="361.9" r="1.85" fill="#80BCD3" fill-opacity="0.82"/>
<circle cx="396.8" cy="355.2" r="1.85" fill="#CFAD88" fill-opacity="0.82"/>
<circle cx="363.2" cy="380.5" r="1.85" fill="#CFAD88" fill-opacity="0.82"/>
<circle cx="439.8" cy="356.6" r="1.85" fill="#CFAD88" fill-opacity="0.82"/>
<circle cx="400.8" cy="376.3" r="1.85" fill="#C4C4C4" fill-opacity="0.82"/>
<circle cx="340.4" cy="393.5" r="1.85" fill="#C4C4C4" fill-opacity="0.82"/>
<circle cx="403.6" cy="348.3" r="1.85" fill="#C4C4C4" fill-opacity="0.82"/>
<circle cx="424.5" cy="340.9" r="1.85" fill="#C4C4C4" fill-opacity="0.82"/>
<circle cx="419.1" cy="330.1" r="1.85" fill="#C4C4C4" fill-opacity="0.82"/>
<circle cx="371.4" cy="386.2" r="1.85" fill="#C4C4C4" fill-opacity="0.82"/>
<circle cx="429.0" cy="319.6" r="1.85" fill="#CFAD88" fill-opacity="0.82"/>
<circle cx="374.9" cy="379.4" r="1.85" fill="#C4C4C4" fill-opacity="0.82"/>
<circle cx="397.1" cy="350.0" r="1.85" fill="#80BCD3" fill-opacity="0.82"/>
<circle cx="365.7" cy="394.4" r="1.85" fill="#C4C4C4" fill-opacity="0.82"/>
<circle cx="388.0" cy="397.5" r="1.85" fill="#CFAD88" fill-opacity="0.82"/>
<circle cx="388.3" cy="367.8" r="1.85" fill="#CFAD88" fill-opacity="0.82"/>
<circle cx="388.5" cy="336.5" r="1.85" fill="#80BCD3" fill-opacity="0.82"/>
<circle cx="418.8" cy="342.6" r="1.85" fill="#CFAD88" fill-opacity="0.82"/>
<circle cx="399.3" cy="347.3" r="1.85" fill="#CFAD88" fill-opacity="0.82"/>
<circle cx="433.3" cy="367.9" r="1.85" fill="#C4C4C4" fill-opacity="0.82"/>
<circle cx="421.5" cy="350.0" r="1.85" fill="#C4C4C4" fill-opacity="0.82"/>
<circle cx="389.1" cy="366.4" r="1.85" fill="#C4C4C4" fill-opacity="0.82"/>
<circle cx="411.2" cy="347.3" r="1.85" fill="#CFAD88" fill-opacity="0.82"/>
<circle cx="409.0" cy="369.3" r="1.85" fill="#C4C4C4" fill-opacity="0.82"/>
<circle cx="378.7" cy="340.6" r="1.85" fill="#C4C4C4" fill-opacity="0.82"/>
<circle cx="390.3" cy="379.6" r="1.85" fill="#C4C4C4" fill-opacity="0.82"/>
<circle cx="371.4" cy="371.0" r="1.85" fill="#80BCD3" fill-opacity="0.82"/>
<circle cx="378.0" cy="378.2" r="1.85" fill="#CFAD88" fill-opacity="0.82"/>
<circle cx="364.5" cy="373.4" r="1.85" fill="#CFAD88" fill-opacity="0.82"/>
<circle cx="349.9" cy="402.2" r="1.85" fill="#80BCD3" fill-opacity="0.82"/>
<circle cx="391.1" cy="339.3" r="1.85" fill="#CFAD88" fill-opacity="0.82"/>
<circle cx="412.6" cy="345.9" r="1.85" fill="#80BCD3" fill-opacity="0.82"/>
<circle cx="437.5" cy="334.5" r="1.85" fill="#80BCD3" fill-opacity="0.82"/>
<circle cx="369.6" cy="376.6" r="1.85" fill="#CFAD88" fill-opacity="0.82"/>
<circle cx="414.5" cy="347.1" r="1.85" fill="#CFAD88" fill-opacity="0.82"/>
<circle cx="374.8" cy="369.8" r="1.85" fill="#C4C4C4" fill-opacity="0.82"/>
<circle cx="398.5" cy="375.4" r="1.85" fill="#C4C4C4" fill-opacity="0.82"/>
<circle cx="379.3" cy="346.2" r="1.85" fill="#C4C4C4" fill-opacity="0.82"/>
<circle cx="377.7" cy="339.9" r="1.85" fill="#CFAD88" fill-opacity="0.82"/>
<circle cx="366.3" cy="348.2" r="1.85" fill="#C4C4C4" fill-opacity="0.82"/>
<circle cx="404.1" cy="384.8" r="1.85" fill="#80BCD3" fill-opacity="0.82"/>
<circle cx="392.2" cy="347.3" r="1.85" fill="#CFAD88" fill-opacity="0.82"/>
<circle cx="386.3" cy="366.2" r="1.85" fill="#CFAD88" fill-opacity="0.82"/>
<circle cx="366.2" cy="362.2" r="1.85" fill="#C4C4C4" fill-opacity="0.82"/>
<circle cx="376.0" cy="384.9" r="1.85" fill="#80BCD3" fill-opacity="0.82"/>
<circle cx="414.4" cy="314.7" r="1.85" fill="#CFAD88" fill-opacity="0.82"/>
<circle cx="407.9" cy="367.7" r="1.85" fill="#C4C4C4" fill-opacity="0.82"/>
<circle cx="396.7" cy="338.5" r="1.85" fill="#C4C4C4" fill-opacity="0.82"/>
<circle cx="354.1" cy="353.8" r="1.85" fill="#C4C4C4" fill-opacity="0.82"/>
<circle cx="367.1" cy="378.7" r="1.85" fill="#80BCD3" fill-opacity="0.82"/>
<circle cx="423.7" cy="332.8" r="1.85" fill="#CFAD88" fill-opacity="0.82"/>
<circle cx="432.2" cy="344.2" r="1.85" fill="#CFAD88" fill-opacity="0.82"/>
<circle cx="407.8" cy="340.5" r="1.85" fill="#C4C4C4" fill-opacity="0.82"/>
<circle cx="354.1" cy="402.0" r="1.85" fill="#80BCD3" fill-opacity="0.82"/>
<circle cx="403.2" cy="371.9" r="1.85" fill="#C4C4C4" fill-opacity="0.82"/>
<circle cx="381.3" cy="358.6" r="1.85" fill="#C4C4C4" fill-opacity="0.82"/>
<circle cx="375.6" cy="383.0" r="1.85" fill="#C4C4C4" fill-opacity="0.82"/>
<circle cx="395.1" cy="321.0" r="1.85" fill="#CFAD88" fill-opacity="0.82"/>
<circle cx="416.0" cy="348.0" r="1.85" fill="#C4C4C4" fill-opacity="0.82"/>
<circle cx="401.0" cy="332.1" r="1.85" fill="#CFAD88" fill-opacity="0.82"/>
<circle cx="362.1" cy="399.2" r="1.85" fill="#80BCD3" fill-opacity="0.82"/>
<circle cx="420.0" cy="356.6" r="1.85" fill="#CFAD88" fill-opacity="0.82"/>
<circle cx="377.8" cy="389.3" r="1.85" fill="#C4C4C4" fill-opacity="0.82"/>
<circle cx="392.5" cy="394.3" r="1.85" fill="#C4C4C4" fill-opacity="0.82"/>
<circle cx="402.6" cy="369.9" r="1.85" fill="#C4C4C4" fill-opacity="0.82"/>
<circle cx="412.6" cy="337.7" r="1.85" fill="#CFAD88" fill-opacity="0.82"/>
<circle cx="386.1" cy="392.2" r="1.85" fill="#C4C4C4" fill-opacity="0.82"/>
<circle cx="381.4" cy="361.8" r="1.85" fill="#80BCD3" fill-opacity="0.82"/>
<circle cx="414.6" cy="357.9" r="1.85" fill="#CFAD88" fill-opacity="0.82"/>
<circle cx="380.5" cy="382.2" r="1.85" fill="#80BCD3" fill-opacity="0.82"/>
<circle cx="366.0" cy="363.3" r="1.85" fill="#80BCD3" fill-opacity="0.82"/>
<circle cx="351.4" cy="380.7" r="1.85" fill="#CFAD88" fill-opacity="0.82"/>
<circle cx="413.5" cy="364.2" r="1.85" fill="#C4C4C4" fill-opacity="0.82"/>
<circle cx="387.3" cy="346.7" r="1.85" fill="#CFAD88" fill-opacity="0.82"/>
<circle cx="412.6" cy="325.0" r="1.85" fill="#C4C4C4" fill-opacity="0.82"/>
<circle cx="388.9" cy="386.6" r="1.85" fill="#C4C4C4" fill-opacity="0.82"/>
<circle cx="395.3" cy="320.5" r="1.85" fill="#CFAD88" fill-opacity="0.82"/>
<circle cx="399.6" cy="322.0" r="1.85" fill="#C4C4C4" fill-opacity="0.82"/>
<circle cx="397.1" cy="350.8" r="1.85" fill="#80BCD3" fill-opacity="0.82"/>
<circle cx="402.3" cy="332.5" r="1.85" fill="#C4C4C4" fill-opacity="0.82"/>
<circle cx="385.9" cy="394.1" r="1.85" fill="#C4C4C4" fill-opacity="0.82"/>
<circle cx="358.5" cy="384.0" r="1.85" fill="#C4C4C4" fill-opacity="0.82"/>
<circle cx="399.1" cy="361.4" r="1.85" fill="#CFAD88" fill-opacity="0.82"/>
<circle cx="397.0" cy="342.8" r="1.85" fill="#CFAD88" fill-opacity="0.82"/>
<circle cx="390.1" cy="344.7" r="1.85" fill="#CFAD88" fill-opacity="0.82"/>
<circle cx="412.5" cy="336.3" r="1.85" fill="#CFAD88" fill-opacity="0.82"/>
<circle cx="417.0" cy="342.8" r="1.85" fill="#CFAD88" fill-opacity="0.82"/>
<circle cx="397.3" cy="377.6" r="1.85" fill="#C4C4C4" fill-opacity="0.82"/>
<circle cx="416.9" cy="295.8" r="1.85" fill="#CFAD88" fill-opacity="0.82"/>
<circle cx="398.2" cy="366.6" r="1.85" fill="#C4C4C4" fill-opacity="0.82"/>
<circle cx="377.4" cy="352.4" r="1.85" fill="#C4C4C4" fill-opacity="0.82"/>
<circle cx="423.6" cy="343.1" r="1.85" fill="#C4C4C4" fill-opacity="0.82"/>
<circle cx="389.0" cy="357.1" r="1.85" fill="#80BCD3" fill-opacity="0.82"/>
<circle cx="387.3" cy="360.4" r="1.85" fill="#C4C4C4" fill-opacity="0.82"/>
<circle cx="418.2" cy="317.1" r="1.85" fill="#C4C4C4" fill-opacity="0.82"/>
<circle cx="392.3" cy="369.8" r="1.85" fill="#80BCD3" fill-opacity="0.82"/>
<circle cx="361.5" cy="396.6" r="1.85" fill="#80BCD3" fill-opacity="0.82"/>
<circle cx="400.3" cy="368.6" r="1.85" fill="#CFAD88" fill-opacity="0.82"/>
<circle cx="427.5" cy="319.8" r="1.85" fill="#CFAD88" fill-opacity="0.82"/>
<circle cx="378.7" cy="387.0" r="1.85" fill="#C4C4C4" fill-opacity="0.82"/>
<circle cx="351.8" cy="390.7" r="1.85" fill="#C4C4C4" fill-opacity="0.82"/>
<circle cx="407.5" cy="358.0" r="1.85" fill="#CFAD88" fill-opacity="0.82"/>
<circle cx="375.4" cy="328.8" r="1.85" fill="#CFAD88" fill-opacity="0.82"/>
<circle cx="343.7" cy="395.0" r="1.85" fill="#C4C4C4" fill-opacity="0.82"/>
<circle cx="369.4" cy="403.6" r="1.85" fill="#C4C4C4" fill-opacity="0.82"/>
<circle cx="381.1" cy="405.2" r="1.85" fill="#80BCD3" fill-opacity="0.82"/>
<circle cx="409.8" cy="346.2" r="1.85" fill="#C4C4C4" fill-opacity="0.82"/>
<circle cx="400.5" cy="352.7" r="1.85" fill="#80BCD3" fill-opacity="0.82"/>
<circle cx="398.6" cy="389.7" r="1.85" fill="#C4C4C4" fill-opacity="0.82"/>
<circle cx="415.5" cy="361.7" r="1.85" fill="#CFAD88" fill-opacity="0.82"/>
<circle cx="395.1" cy="394.9" r="1.85" fill="#CFAD88" fill-opacity="0.82"/>
<circle cx="394.4" cy="325.3" r="1.85" fill="#CFAD88" fill-opacity="0.82"/>
<circle cx="400.1" cy="368.8" r="1.85" fill="#CFAD88" fill-opacity="0.82"/>
<circle cx="395.8" cy="362.3" r="1.85" fill="#CFAD88" fill-opacity="0.82"/>
<circle cx="400.3" cy="369.9" r="1.85" fill="#C4C4C4" fill-opacity="0.82"/>
<circle cx="425.4" cy="337.3" r="1.85" fill="#80BCD3" fill-opacity="0.82"/>
<circle cx="401.5" cy="378.8" r="1.85" fill="#C4C4C4" fill-opacity="0.82"/>
<circle cx="395.4" cy="363.2" r="1.85" fill="#C4C4C4" fill-opacity="0.82"/>
<circle cx="398.5" cy="336.9" r="1.85" fill="#C4C4C4" fill-opacity="0.82"/>
<circle cx="388.9" cy="316.5" r="1.85" fill="#80BCD3" fill-opacity="0.82"/>
<circle cx="417.8" cy="353.7" r="1.85" fill="#C4C4C4" fill-opacity="0.82"/>
<circle cx="414.3" cy="350.0" r="1.85" fill="#C4C4C4" fill-opacity="0.82"/>
<circle cx="392.6" cy="348.3" r="1.85" fill="#80BCD3" fill-opacity="0.82"/>
<circle cx="395.4" cy="354.4" r="1.85" fill="#CFAD88" fill-opacity="0.82"/>
<circle cx="389.6" cy="377.4" r="1.85" fill="#C4C4C4" fill-opacity="0.82"/>
<circle cx="407.4" cy="366.1" r="1.85" fill="#CFAD88" fill-opacity="0.82"/>
<circle cx="394.3" cy="323.1" r="1.85" fill="#CFAD88" fill-opacity="0.82"/>
<circle cx="407.5" cy="343.3" r="1.85" fill="#80BCD3" fill-opacity="0.82"/>
<circle cx="407.9" cy="317.1" r="1.85" fill="#CFAD88" fill-opacity="0.82"/>
<circle cx="372.6" cy="374.8" r="1.85" fill="#CFAD88" fill-opacity="0.82"/>
<circle cx="435.4" cy="333.9" r="1.85" fill="#80BCD3" fill-opacity="0.82"/>
<circle cx="410.6" cy="377.4" r="1.85" fill="#C4C4C4" fill-opacity="0.82"/>
<circle cx="390.2" cy="338.7" r="1.85" fill="#CFAD88" fill-opacity="0.82"/>
<circle cx="404.3" cy="357.3" r="1.85" fill="#CFAD88" fill-opacity="0.82"/>
<circle cx="376.3" cy="374.6" r="1.85" fill="#CFAD88" fill-opacity="0.82"/>
<circle cx="382.5" cy="383.6" r="1.85" fill="#80BCD3" fill-opacity="0.82"/>
<circle cx="389.8" cy="391.5" r="1.85" fill="#80BCD3" fill-opacity="0.82"/>
<circle cx="423.8" cy="331.0" r="1.85" fill="#C4C4C4" fill-opacity="0.82"/>
<circle cx="407.5" cy="350.1" r="1.85" fill="#C4C4C4" fill-opacity="0.82"/>
<circle cx="407.8" cy="367.7" r="1.85" fill="#C4C4C4" fill-opacity="0.82"/>
<circle cx="368.8" cy="368.8" r="1.85" fill="#C4C4C4" fill-opacity="0.82"/>
<circle cx="377.4" cy="389.4" r="1.85" fill="#CFAD88" fill-opacity="0.82"/>
<circle cx="402.7" cy="337.0" r="1.85" fill="#C4C4C4" fill-opacity="0.82"/>
<circle cx="383.9" cy="368.1" r="1.85" fill="#80BCD3" fill-opacity="0.82"/>
<circle cx="422.3" cy="327.9" r="1.85" fill="#CFAD88" fill-opacity="0.82"/>
<circle cx="394.9" cy="426.5" r="1.85" fill="#C4C4C4" fill-opacity="0.82"/>
<circle cx="400.4" cy="362.9" r="1.85" fill="#C4C4C4" fill-opacity="0.82"/>
<circle cx="381.7" cy="361.7" r="1.85" fill="#80BCD3" fill-opacity="0.82"/>
<circle cx="372.6" cy="391.6" r="1.85" fill="#C4C4C4" fill-opacity="0.82"/>
<circle cx="376.3" cy="362.6" r="1.85" fill="#C4C4C4" fill-opacity="0.82"/>
<circle cx="424.9" cy="354.8" r="1.85" fill="#CFAD88" fill-opacity="0.82"/>
<circle cx="407.7" cy="364.1" r="1.85" fill="#80BCD3" fill-opacity="0.82"/>
<circle cx="403.9" cy="350.1" r="1.85" fill="#C4C4C4" fill-opacity="0.82"/>
<circle cx="464.3" cy="305.7" r="1.85" fill="#C4C4C4" fill-opacity="0.82"/>
<circle cx="395.7" cy="350.4" r="1.85" fill="#CFAD88" fill-opacity="0.82"/>
<circle cx="445.1" cy="328.6" r="1.85" fill="#80BCD3" fill-opacity="0.82"/>
<circle cx="414.9" cy="347.2" r="1.85" fill="#CFAD88" fill-opacity="0.82"/>
<circle cx="358.1" cy="397.2" r="1.85" fill="#80BCD3" fill-opacity="0.82"/>
<circle cx="367.5" cy="364.0" r="1.85" fill="#80BCD3" fill-opacity="0.82"/>
<circle cx="411.0" cy="343.1" r="1.85" fill="#C4C4C4" fill-opacity="0.82"/>
<circle cx="404.2" cy="341.7" r="1.85" fill="#CFAD88" fill-opacity="0.82"/>
<circle cx="386.6" cy="369.0" r="1.85" fill="#CFAD88" fill-opacity="0.82"/>
<circle cx="401.4" cy="358.6" r="1.85" fill="#CFAD88" fill-opacity="0.82"/>
<circle cx="393.2" cy="362.8" r="1.85" fill="#CFAD88" fill-opacity="0.82"/>
<circle cx="396.0" cy="363.7" r="1.85" fill="#80BCD3" fill-opacity="0.82"/>
<circle cx="384.2" cy="353.6" r="1.85" fill="#CFAD88" fill-opacity="0.82"/>
<circle cx="383.9" cy="393.4" r="1.85" fill="#CFAD88" fill-opacity="0.82"/>
<circle cx="385.0" cy="369.9" r="1.85" fill="#CFAD88" fill-opacity="0.82"/>
<circle cx="395.0" cy="334.4" r="1.85" fill="#80BCD3" fill-opacity="0.82"/>
<circle cx="385.0" cy="383.4" r="1.85" fill="#C4C4C4" fill-opacity="0.82"/>
<circle cx="394.3" cy="334.2" r="1.85" fill="#80BCD3" fill-opacity="0.82"/>
<circle cx="418.5" cy="315.8" r="1.85" fill="#C4C4C4" fill-opacity="0.82"/>
<circle cx="395.7" cy="381.0" r="1.85" fill="#CFAD88" fill-opacity="0.82"/>
<circle cx="410.1" cy="308.7" r="1.85" fill="#C4C4C4" fill-opacity="0.82"/>
<circle cx="390.9" cy="361.1" r="1.85" fill="#C4C4C4" fill-opacity="0.82"/>
<circle cx="404.3" cy="346.2" r="1.85" fill="#80BCD3" fill-opacity="0.82"/>
<circle cx="352.7" cy="400.3" r="1.85" fill="#80BCD3" fill-opacity="0.82"/>
<circle cx="380.9" cy="381.8" r="1.85" fill="#C4C4C4" fill-opacity="0.82"/>
<circle cx="393.9" cy="398.7" r="1.85" fill="#C4C4C4" fill-opacity="0.82"/>
<circle cx="375.1" cy="375.2" r="1.85" fill="#CFAD88" fill-opacity="0.82"/>
<circle cx="390.7" cy="362.4" r="1.85" fill="#80BCD3" fill-opacity="0.82"/>
<circle cx="385.4" cy="356.8" r="1.85" fill="#CFAD88" fill-opacity="0.82"/>
<circle cx="348.3" cy="403.2" r="1.85" fill="#CFAD88" fill-opacity="0.82"/>
<circle cx="356.0" cy="408.3" r="1.85" fill="#CFAD88" fill-opacity="0.82"/>
<circle cx="380.0" cy="417.5" r="1.85" fill="#CFAD88" fill-opacity="0.82"/>
<circle cx="371.2" cy="418.5" r="1.85" fill="#C4C4C4" fill-opacity="0.82"/>
<circle cx="384.0" cy="407.8" r="1.85" fill="#80BCD3" fill-opacity="0.82"/>
<circle cx="337.0" cy="364.0" r="1.85" fill="#CFAD88" fill-opacity="0.82"/>
<circle cx="429.8" cy="386.2" r="1.85" fill="#CFAD88" fill-opacity="0.82"/>
<circle cx="410.7" cy="403.2" r="1.85" fill="#CFAD88" fill-opacity="0.82"/>
<circle cx="403.8" cy="407.8" r="1.85" fill="#80BCD3" fill-opacity="0.82"/>
<circle cx="402.0" cy="297.0" r="1.85" fill="#CFAD88" fill-opacity="0.82"/>
<circle cx="448.0" cy="303.0" r="1.85" fill="#CFAD88" fill-opacity="0.82"/>
<circle cx="455.0" cy="323.0" r="1.85" fill="#CFAD88" fill-opacity="0.82"/>
<circle cx="450.0" cy="343.0" r="1.85" fill="#CFAD88" fill-opacity="0.82"/>
<circle cx="460.0" cy="329.0" r="1.85" fill="#CFAD88" fill-opacity="0.82"/>
<circle cx="459.0" cy="361.0" r="1.85" fill="#CFAD88" fill-opacity="0.82"/>
<circle cx="446.0" cy="325.0" r="1.85" fill="#CFAD88" fill-opacity="0.82"/>
<circle cx="436.0" cy="315.0" r="1.85" fill="#CFAD88" fill-opacity="0.82"/>
<text x="441.7" y="297.1" class="nl" fill="#F49238">17</text>
<text x="424.5" y="323.9" class="nl" fill="#E58056">27</text>
<text x="432.0" y="325.9" class="nl" fill="#F7972E">3</text>
<text x="459.2" y="322.4" class="nl" fill="#E58056">11</text>
<text x="466.0" y="340.9" class="nl" fill="#DE7A60" fill-opacity="0.7">29</text>
<text x="413.0" y="338.6" class="nl" fill="#E58056">22</text>
<text x="421.7" y="352.2" class="nl" fill="#E58056">6</text>
<text x="400.0" y="354.9" class="nl" fill="#C8687E">29</text>
<text x="405.6" y="353.9" class="nl" fill="#E58056">24</text>
<text x="411.0" y="356.6" class="nl" fill="#C8687E">18</text>
<text x="400.7" y="363.2" class="nl" fill="#D6746A">32</text>
<text x="400.7" y="368.1" class="nl" fill="#8958BC">25</text>
<text x="425.6" y="363.9" class="nl" fill="#C8687E">5</text>
<text x="414.6" y="369.7" class="nl" fill="#F7972E">35</text>
<text x="445.0" y="375.1" class="nl" fill="#E58056">16</text>
<text x="353.6" y="379.5" class="nl" fill="#BF6587">12</text>
<text x="362.8" y="376.3" class="nl" fill="#BF6587">7</text>
<text x="357.0" y="385.3" class="nl" fill="#B66290">9</text>
<text x="363.0" y="380.4" class="nl" fill="#BF6587">6</text>
<text x="370.5" y="383.9" class="nl" fill="#CF6E74">3</text>
<text x="390.0" y="377.9" class="nl" fill="#8357C2">15</text>
<text x="388.0" y="378.9" class="nl" fill="#8958BC">3</text>
<text x="387.6" y="385.3" class="nl" fill="#9C5AAA">28</text>
<text x="376.2" y="393.8" class="nl" fill="#F7972E">30</text>
<text x="392.2" y="391.0" class="nl" fill="#FDA11E">10</text>
<text x="373.3" y="416.3" class="nl" fill="#E58056">26</text>
<text x="358.0" y="420.9" class="nl" fill="#E58056">20</text>
<text x="385.8" y="426.5" class="nl" fill="#E58056">13</text>
</g>
<g clip-path="url(#clipc1)">
<circle cx="164.8" cy="594.7" r="1.85" fill="#C4C4C4" fill-opacity="0.82"/>
<circle cx="135.2" cy="609.1" r="1.85" fill="#CFAD88" fill-opacity="0.82"/>
<circle cx="143.0" cy="651.1" r="1.85" fill="#80BCD3" fill-opacity="0.82"/>
<circle cx="180.0" cy="608.2" r="1.85" fill="#80BCD3" fill-opacity="0.82"/>
<circle cx="123.1" cy="661.1" r="1.85" fill="#CFAD88" fill-opacity="0.82"/>
<circle cx="111.5" cy="612.5" r="1.85" fill="#C4C4C4" fill-opacity="0.82"/>
<circle cx="92.0" cy="631.0" r="1.85" fill="#CFAD88" fill-opacity="0.82"/>
<circle cx="175.7" cy="611.8" r="1.85" fill="#80BCD3" fill-opacity="0.82"/>
<circle cx="144.3" cy="609.9" r="1.85" fill="#C4C4C4" fill-opacity="0.82"/>
<circle cx="166.9" cy="585.6" r="1.85" fill="#C4C4C4" fill-opacity="0.82"/>
<circle cx="86.8" cy="652.7" r="1.85" fill="#80BCD3" fill-opacity="0.82"/>
<circle cx="149.1" cy="622.1" r="1.85" fill="#80BCD3" fill-opacity="0.82"/>
<circle cx="152.3" cy="617.2" r="1.85" fill="#80BCD3" fill-opacity="0.82"/>
<circle cx="94.1" cy="634.8" r="1.85" fill="#C4C4C4" fill-opacity="0.82"/>
<circle cx="75.0" cy="616.6" r="1.85" fill="#C4C4C4" fill-opacity="0.82"/>
<circle cx="79.6" cy="641.5" r="1.85" fill="#CFAD88" fill-opacity="0.82"/>
<circle cx="156.1" cy="596.9" r="1.85" fill="#80BCD3" fill-opacity="0.82"/>
<circle cx="137.6" cy="644.3" r="1.85" fill="#C4C4C4" fill-opacity="0.82"/>
<circle cx="126.2" cy="601.0" r="1.85" fill="#C4C4C4" fill-opacity="0.82"/>
<circle cx="97.6" cy="617.7" r="1.85" fill="#CFAD88" fill-opacity="0.82"/>
<circle cx="147.1" cy="582.9" r="1.85" fill="#80BCD3" fill-opacity="0.82"/>
<circle cx="102.7" cy="657.7" r="1.85" fill="#CFAD88" fill-opacity="0.82"/>
<circle cx="178.2" cy="574.1" r="1.85" fill="#80BCD3" fill-opacity="0.82"/>
<circle cx="123.2" cy="580.6" r="1.85" fill="#C4C4C4" fill-opacity="0.82"/>
<circle cx="110.3" cy="640.6" r="1.85" fill="#C4C4C4" fill-opacity="0.82"/>
<circle cx="97.8" cy="634.4" r="1.85" fill="#CFAD88" fill-opacity="0.82"/>
<circle cx="113.7" cy="600.4" r="1.85" fill="#C4C4C4" fill-opacity="0.82"/>
<circle cx="150.1" cy="588.8" r="1.85" fill="#80BCD3" fill-opacity="0.82"/>
<circle cx="126.8" cy="671.3" r="1.85" fill="#C4C4C4" fill-opacity="0.82"/>
<circle cx="145.9" cy="615.2" r="1.85" fill="#80BCD3" fill-opacity="0.82"/>
<circle cx="82.8" cy="640.1" r="1.85" fill="#CFAD88" fill-opacity="0.82"/>
<circle cx="125.8" cy="587.0" r="1.85" fill="#C4C4C4" fill-opacity="0.82"/>
<circle cx="183.7" cy="597.6" r="1.85" fill="#80BCD3" fill-opacity="0.82"/>
<circle cx="100.9" cy="635.6" r="1.85" fill="#CFAD88" fill-opacity="0.82"/>
<circle cx="128.1" cy="604.0" r="1.85" fill="#CFAD88" fill-opacity="0.82"/>
<circle cx="127.7" cy="643.9" r="1.85" fill="#C4C4C4" fill-opacity="0.82"/>
<circle cx="120.8" cy="603.4" r="1.85" fill="#80BCD3" fill-opacity="0.82"/>
<circle cx="105.5" cy="665.5" r="1.85" fill="#CFAD88" fill-opacity="0.82"/>
<circle cx="168.4" cy="596.3" r="1.85" fill="#80BCD3" fill-opacity="0.82"/>
<circle cx="108.8" cy="630.6" r="1.85" fill="#CFAD88" fill-opacity="0.82"/>
<circle cx="120.5" cy="596.8" r="1.85" fill="#C4C4C4" fill-opacity="0.82"/>
<circle cx="82.4" cy="646.9" r="1.85" fill="#80BCD3" fill-opacity="0.82"/>
<circle cx="140.3" cy="620.5" r="1.85" fill="#CFAD88" fill-opacity="0.82"/>
<circle cx="91.2" cy="640.4" r="1.85" fill="#C4C4C4" fill-opacity="0.82"/>
<circle cx="162.4" cy="589.0" r="1.85" fill="#80BCD3" fill-opacity="0.82"/>
<circle cx="120.7" cy="639.8" r="1.85" fill="#C4C4C4" fill-opacity="0.82"/>
<circle cx="102.1" cy="625.0" r="1.85" fill="#C4C4C4" fill-opacity="0.82"/>
<circle cx="122.3" cy="635.9" r="1.85" fill="#C4C4C4" fill-opacity="0.82"/>
<circle cx="112.4" cy="614.6" r="1.85" fill="#80BCD3" fill-opacity="0.82"/>
<circle cx="88.9" cy="620.0" r="1.85" fill="#CFAD88" fill-opacity="0.82"/>
<circle cx="171.8" cy="587.1" r="1.85" fill="#C4C4C4" fill-opacity="0.82"/>
<circle cx="137.0" cy="611.7" r="1.85" fill="#C4C4C4" fill-opacity="0.82"/>
<circle cx="131.9" cy="654.3" r="1.85" fill="#CFAD88" fill-opacity="0.82"/>
<circle cx="74.0" cy="622.7" r="1.85" fill="#CFAD88" fill-opacity="0.82"/>
<circle cx="142.7" cy="595.6" r="1.85" fill="#CFAD88" fill-opacity="0.82"/>
<circle cx="116.3" cy="603.0" r="1.85" fill="#C4C4C4" fill-opacity="0.82"/>
<circle cx="105.4" cy="623.8" r="1.85" fill="#CFAD88" fill-opacity="0.82"/>
<circle cx="107.0" cy="640.9" r="1.85" fill="#CFAD88" fill-opacity="0.82"/>
<circle cx="147.0" cy="634.5" r="1.85" fill="#C4C4C4" fill-opacity="0.82"/>
<circle cx="107.7" cy="624.4" r="1.85" fill="#C4C4C4" fill-opacity="0.82"/>
<circle cx="53.1" cy="584.1" r="1.85" fill="#CFAD88" fill-opacity="0.82"/>
<circle cx="103.9" cy="616.0" r="1.85" fill="#CFAD88" fill-opacity="0.82"/>
<circle cx="108.0" cy="649.0" r="1.85" fill="#CFAD88" fill-opacity="0.82"/>
<circle cx="127.3" cy="656.1" r="1.85" fill="#C4C4C4" fill-opacity="0.82"/>
<circle cx="92.8" cy="614.2" r="1.85" fill="#CFAD88" fill-opacity="0.82"/>
<circle cx="97.8" cy="658.4" r="1.85" fill="#CFAD88" fill-opacity="0.82"/>
<circle cx="106.3" cy="632.8" r="1.85" fill="#C4C4C4" fill-opacity="0.82"/>
<circle cx="114.3" cy="670.4" r="1.85" fill="#CFAD88" fill-opacity="0.82"/>
<circle cx="160.2" cy="648.2" r="1.85" fill="#CFAD88" fill-opacity="0.82"/>
<circle cx="68.6" cy="605.0" r="1.85" fill="#CFAD88" fill-opacity="0.82"/>
<circle cx="101.2" cy="625.4" r="1.85" fill="#C4C4C4" fill-opacity="0.82"/>
<circle cx="148.7" cy="629.6" r="1.85" fill="#80BCD3" fill-opacity="0.82"/>
<circle cx="99.8" cy="643.5" r="1.85" fill="#CFAD88" fill-opacity="0.82"/>
<circle cx="176.0" cy="587.6" r="1.85" fill="#C4C4C4" fill-opacity="0.82"/>
<circle cx="77.7" cy="610.8" r="1.85" fill="#C4C4C4" fill-opacity="0.82"/>
<circle cx="153.6" cy="603.1" r="1.85" fill="#C4C4C4" fill-opacity="0.82"/>
<circle cx="181.8" cy="584.5" r="1.85" fill="#80BCD3" fill-opacity="0.82"/>
<circle cx="129.6" cy="676.0" r="1.85" fill="#CFAD88" fill-opacity="0.82"/>
<circle cx="125.6" cy="593.6" r="1.85" fill="#CFAD88" fill-opacity="0.82"/>
<circle cx="141.1" cy="588.0" r="1.85" fill="#80BCD3" fill-opacity="0.82"/>
<circle cx="80.7" cy="632.5" r="1.85" fill="#CFAD88" fill-opacity="0.82"/>
<circle cx="90.4" cy="639.6" r="1.85" fill="#C4C4C4" fill-opacity="0.82"/>
<circle cx="101.0" cy="648.2" r="1.85" fill="#CFAD88" fill-opacity="0.82"/>
<circle cx="111.5" cy="646.4" r="1.85" fill="#CFAD88" fill-opacity="0.82"/>
<circle cx="107.8" cy="637.3" r="1.85" fill="#CFAD88" fill-opacity="0.82"/>
<circle cx="78.6" cy="620.2" r="1.85" fill="#CFAD88" fill-opacity="0.82"/>
<circle cx="114.9" cy="638.2" r="1.85" fill="#CFAD88" fill-opacity="0.82"/>
<circle cx="129.1" cy="606.5" r="1.85" fill="#80BCD3" fill-opacity="0.82"/>
<circle cx="93.7" cy="631.4" r="1.85" fill="#CFAD88" fill-opacity="0.82"/>
<circle cx="154.4" cy="602.4" r="1.85" fill="#80BCD3" fill-opacity="0.82"/>
<circle cx="127.5" cy="633.9" r="1.85" fill="#CFAD88" fill-opacity="0.82"/>
<circle cx="145.9" cy="604.9" r="1.85" fill="#C4C4C4" fill-opacity="0.82"/>
<circle cx="97.8" cy="646.7" r="1.85" fill="#CFAD88" fill-opacity="0.82"/>
<circle cx="147.3" cy="610.0" r="1.85" fill="#C4C4C4" fill-opacity="0.82"/>
<circle cx="119.4" cy="617.4" r="1.85" fill="#C4C4C4" fill-opacity="0.82"/>
<circle cx="122.7" cy="618.4" r="1.85" fill="#80BCD3" fill-opacity="0.82"/>
<circle cx="83.5" cy="607.0" r="1.85" fill="#C4C4C4" fill-opacity="0.82"/>
<circle cx="149.3" cy="576.0" r="1.85" fill="#80BCD3" fill-opacity="0.82"/>
<circle cx="128.8" cy="618.6" r="1.85" fill="#CFAD88" fill-opacity="0.82"/>
<circle cx="143.9" cy="594.8" r="1.85" fill="#80BCD3" fill-opacity="0.82"/>
<circle cx="96.5" cy="633.8" r="1.85" fill="#CFAD88" fill-opacity="0.82"/>
<circle cx="104.0" cy="608.9" r="1.85" fill="#CFAD88" fill-opacity="0.82"/>
<circle cx="85.0" cy="602.7" r="1.85" fill="#C4C4C4" fill-opacity="0.82"/>
<circle cx="111.4" cy="632.1" r="1.85" fill="#C4C4C4" fill-opacity="0.82"/>
<circle cx="87.4" cy="624.6" r="1.85" fill="#C4C4C4" fill-opacity="0.82"/>
<circle cx="170.1" cy="606.4" r="1.85" fill="#80BCD3" fill-opacity="0.82"/>
<circle cx="170.9" cy="580.3" r="1.85" fill="#C4C4C4" fill-opacity="0.82"/>
<circle cx="124.1" cy="607.0" r="1.85" fill="#C4C4C4" fill-opacity="0.82"/>
<circle cx="128.3" cy="635.3" r="1.85" fill="#C4C4C4" fill-opacity="0.82"/>
<circle cx="136.8" cy="599.7" r="1.85" fill="#80BCD3" fill-opacity="0.82"/>
<circle cx="155.9" cy="618.0" r="1.85" fill="#80BCD3" fill-opacity="0.82"/>
<circle cx="134.5" cy="606.8" r="1.85" fill="#CFAD88" fill-opacity="0.82"/>
<circle cx="90.3" cy="602.5" r="1.85" fill="#C4C4C4" fill-opacity="0.82"/>
<circle cx="120.9" cy="648.4" r="1.85" fill="#C4C4C4" fill-opacity="0.82"/>
<circle cx="83.8" cy="639.5" r="1.85" fill="#C4C4C4" fill-opacity="0.82"/>
<circle cx="147.2" cy="626.9" r="1.85" fill="#CFAD88" fill-opacity="0.82"/>
<circle cx="143.1" cy="640.5" r="1.85" fill="#C4C4C4" fill-opacity="0.82"/>
<circle cx="132.2" cy="617.4" r="1.85" fill="#C4C4C4" fill-opacity="0.82"/>
<circle cx="75.9" cy="630.8" r="1.85" fill="#C4C4C4" fill-opacity="0.82"/>
<circle cx="77.2" cy="626.9" r="1.85" fill="#CFAD88" fill-opacity="0.82"/>
<circle cx="165.4" cy="605.1" r="1.85" fill="#CFAD88" fill-opacity="0.82"/>
<circle cx="166.1" cy="585.5" r="1.85" fill="#C4C4C4" fill-opacity="0.82"/>
<circle cx="145.6" cy="592.9" r="1.85" fill="#80BCD3" fill-opacity="0.82"/>
<circle cx="134.1" cy="593.2" r="1.85" fill="#CFAD88" fill-opacity="0.82"/>
<circle cx="119.6" cy="611.3" r="1.85" fill="#C4C4C4" fill-opacity="0.82"/>
<circle cx="134.1" cy="592.4" r="1.85" fill="#80BCD3" fill-opacity="0.82"/>
<circle cx="131.5" cy="573.5" r="1.85" fill="#C4C4C4" fill-opacity="0.82"/>
<circle cx="86.1" cy="634.3" r="1.85" fill="#CFAD88" fill-opacity="0.82"/>
<circle cx="125.2" cy="579.3" r="1.85" fill="#80BCD3" fill-opacity="0.82"/>
<circle cx="155.7" cy="593.8" r="1.85" fill="#C4C4C4" fill-opacity="0.82"/>
<circle cx="140.6" cy="620.4" r="1.85" fill="#80BCD3" fill-opacity="0.82"/>
<circle cx="169.6" cy="599.5" r="1.85" fill="#CFAD88" fill-opacity="0.82"/>
<circle cx="114.6" cy="640.5" r="1.85" fill="#CFAD88" fill-opacity="0.82"/>
<circle cx="118.1" cy="677.1" r="1.85" fill="#CFAD88" fill-opacity="0.82"/>
<circle cx="156.7" cy="591.5" r="1.85" fill="#C4C4C4" fill-opacity="0.82"/>
<circle cx="97.4" cy="599.4" r="1.85" fill="#CFAD88" fill-opacity="0.82"/>
<circle cx="98.5" cy="667.2" r="1.85" fill="#C4C4C4" fill-opacity="0.82"/>
<circle cx="149.6" cy="590.3" r="1.85" fill="#80BCD3" fill-opacity="0.82"/>
<circle cx="97.6" cy="634.6" r="1.85" fill="#C4C4C4" fill-opacity="0.82"/>
<circle cx="134.3" cy="666.9" r="1.85" fill="#CFAD88" fill-opacity="0.82"/>
<circle cx="177.3" cy="613.0" r="1.85" fill="#CFAD88" fill-opacity="0.82"/>
<circle cx="112.8" cy="645.1" r="1.85" fill="#C4C4C4" fill-opacity="0.82"/>
<circle cx="138.8" cy="617.6" r="1.85" fill="#CFAD88" fill-opacity="0.82"/>
<circle cx="161.2" cy="607.3" r="1.85" fill="#80BCD3" fill-opacity="0.82"/>
<circle cx="73.5" cy="622.2" r="1.85" fill="#CFAD88" fill-opacity="0.82"/>
<circle cx="174.6" cy="601.2" r="1.85" fill="#C4C4C4" fill-opacity="0.82"/>
<circle cx="119.7" cy="631.7" r="1.85" fill="#C4C4C4" fill-opacity="0.82"/>
<circle cx="97.9" cy="655.4" r="1.85" fill="#C4C4C4" fill-opacity="0.82"/>
<circle cx="147.4" cy="593.0" r="1.85" fill="#C4C4C4" fill-opacity="0.82"/>
<circle cx="101.4" cy="640.6" r="1.85" fill="#CFAD88" fill-opacity="0.82"/>
<circle cx="106.2" cy="620.4" r="1.85" fill="#CFAD88" fill-opacity="0.82"/>
<circle cx="145.7" cy="595.3" r="1.85" fill="#80BCD3" fill-opacity="0.82"/>
<circle cx="69.2" cy="628.0" r="1.85" fill="#CFAD88" fill-opacity="0.82"/>
<circle cx="104.4" cy="613.2" r="1.85" fill="#CFAD88" fill-opacity="0.82"/>
<circle cx="126.0" cy="662.3" r="1.85" fill="#CFAD88" fill-opacity="0.82"/>
<circle cx="107.4" cy="629.4" r="1.85" fill="#C4C4C4" fill-opacity="0.82"/>
<circle cx="118.9" cy="628.9" r="1.85" fill="#CFAD88" fill-opacity="0.82"/>
<circle cx="113.7" cy="671.7" r="1.85" fill="#CFAD88" fill-opacity="0.82"/>
<circle cx="126.8" cy="619.6" r="1.85" fill="#CFAD88" fill-opacity="0.82"/>
<circle cx="133.3" cy="632.1" r="1.85" fill="#C4C4C4" fill-opacity="0.82"/>
<circle cx="157.1" cy="580.7" r="1.85" fill="#C4C4C4" fill-opacity="0.82"/>
<circle cx="136.9" cy="635.8" r="1.85" fill="#CFAD88" fill-opacity="0.82"/>
<circle cx="120.1" cy="614.4" r="1.85" fill="#C4C4C4" fill-opacity="0.82"/>
<circle cx="108.1" cy="632.8" r="1.85" fill="#C4C4C4" fill-opacity="0.82"/>
<circle cx="116.9" cy="596.5" r="1.85" fill="#CFAD88" fill-opacity="0.82"/>
<circle cx="112.4" cy="634.5" r="1.85" fill="#CFAD88" fill-opacity="0.82"/>
<circle cx="106.6" cy="629.0" r="1.85" fill="#CFAD88" fill-opacity="0.82"/>
<circle cx="144.1" cy="600.9" r="1.85" fill="#C4C4C4" fill-opacity="0.82"/>
<circle cx="144.2" cy="643.8" r="1.85" fill="#CFAD88" fill-opacity="0.82"/>
<circle cx="83.5" cy="609.9" r="1.85" fill="#CFAD88" fill-opacity="0.82"/>
<circle cx="153.6" cy="613.1" r="1.85" fill="#80BCD3" fill-opacity="0.82"/>
<circle cx="120.0" cy="605.8" r="1.85" fill="#80BCD3" fill-opacity="0.82"/>
<circle cx="160.7" cy="591.7" r="1.85" fill="#80BCD3" fill-opacity="0.82"/>
<circle cx="164.3" cy="577.0" r="1.85" fill="#80BCD3" fill-opacity="0.82"/>
<circle cx="74.3" cy="623.6" r="1.85" fill="#CFAD88" fill-opacity="0.82"/>
<circle cx="133.1" cy="629.0" r="1.85" fill="#CFAD88" fill-opacity="0.82"/>
<circle cx="93.9" cy="618.8" r="1.85" fill="#CFAD88" fill-opacity="0.82"/>
<circle cx="136.8" cy="619.2" r="1.85" fill="#C4C4C4" fill-opacity="0.82"/>
<circle cx="74.1" cy="627.3" r="1.85" fill="#CFAD88" fill-opacity="0.82"/>
<circle cx="83.9" cy="638.2" r="1.85" fill="#CFAD88" fill-opacity="0.82"/>
<circle cx="125.0" cy="646.3" r="1.85" fill="#80BCD3" fill-opacity="0.82"/>
<circle cx="120.2" cy="608.7" r="1.85" fill="#80BCD3" fill-opacity="0.82"/>
<circle cx="78.6" cy="619.0" r="1.85" fill="#CFAD88" fill-opacity="0.82"/>
<circle cx="88.2" cy="605.0" r="1.85" fill="#C4C4C4" fill-opacity="0.82"/>
<circle cx="48.7" cy="626.3" r="1.85" fill="#CFAD88" fill-opacity="0.82"/>
<circle cx="76.1" cy="617.9" r="1.85" fill="#80BCD3" fill-opacity="0.82"/>
<circle cx="128.9" cy="613.7" r="1.85" fill="#C4C4C4" fill-opacity="0.82"/>
<circle cx="178.2" cy="609.3" r="1.85" fill="#CFAD88" fill-opacity="0.82"/>
<circle cx="143.9" cy="622.5" r="1.85" fill="#CFAD88" fill-opacity="0.82"/>
<circle cx="165.5" cy="607.2" r="1.85" fill="#80BCD3" fill-opacity="0.82"/>
<circle cx="46.8" cy="631.3" r="1.85" fill="#CFAD88" fill-opacity="0.82"/>
<circle cx="146.0" cy="608.8" r="1.85" fill="#80BCD3" fill-opacity="0.82"/>
<circle cx="114.3" cy="606.9" r="1.85" fill="#C4C4C4" fill-opacity="0.82"/>
<circle cx="174.1" cy="608.5" r="1.85" fill="#C4C4C4" fill-opacity="0.82"/>
<circle cx="130.9" cy="620.3" r="1.85" fill="#C4C4C4" fill-opacity="0.82"/>
<circle cx="72.7" cy="637.1" r="1.85" fill="#CFAD88" fill-opacity="0.82"/>
<circle cx="138.6" cy="598.0" r="1.85" fill="#80BCD3" fill-opacity="0.82"/>
<circle cx="172.9" cy="633.2" r="1.85" fill="#C4C4C4" fill-opacity="0.82"/>
<circle cx="138.1" cy="631.8" r="1.85" fill="#80BCD3" fill-opacity="0.82"/>
<circle cx="106.5" cy="629.4" r="1.85" fill="#CFAD88" fill-opacity="0.82"/>
<circle cx="99.2" cy="631.6" r="1.85" fill="#CFAD88" fill-opacity="0.82"/>
<circle cx="117.3" cy="621.9" r="1.85" fill="#80BCD3" fill-opacity="0.82"/>
<circle cx="97.7" cy="628.9" r="1.85" fill="#CFAD88" fill-opacity="0.82"/>
<circle cx="66.4" cy="606.4" r="1.85" fill="#CFAD88" fill-opacity="0.82"/>
<circle cx="105.0" cy="642.8" r="1.85" fill="#C4C4C4" fill-opacity="0.82"/>
<circle cx="146.9" cy="668.7" r="1.85" fill="#CFAD88" fill-opacity="0.82"/>
<circle cx="105.0" cy="624.7" r="1.85" fill="#80BCD3" fill-opacity="0.82"/>
<circle cx="96.3" cy="610.4" r="1.85" fill="#CFAD88" fill-opacity="0.82"/>
<circle cx="170.1" cy="579.2" r="1.85" fill="#C4C4C4" fill-opacity="0.82"/>
<circle cx="134.1" cy="622.5" r="1.85" fill="#C4C4C4" fill-opacity="0.82"/>
<circle cx="137.1" cy="609.0" r="1.85" fill="#C4C4C4" fill-opacity="0.82"/>
<circle cx="135.1" cy="624.7" r="1.85" fill="#80BCD3" fill-opacity="0.82"/>
<circle cx="127.2" cy="581.3" r="1.85" fill="#80BCD3" fill-opacity="0.82"/>
<circle cx="110.7" cy="602.1" r="1.85" fill="#C4C4C4" fill-opacity="0.82"/>
<circle cx="142.6" cy="607.2" r="1.85" fill="#C4C4C4" fill-opacity="0.82"/>
<circle cx="168.9" cy="619.9" r="1.85" fill="#80BCD3" fill-opacity="0.82"/>
<circle cx="172.1" cy="577.6" r="1.85" fill="#80BCD3" fill-opacity="0.82"/>
<circle cx="92.1" cy="636.1" r="1.85" fill="#C4C4C4" fill-opacity="0.82"/>
<circle cx="151.3" cy="603.1" r="1.85" fill="#80BCD3" fill-opacity="0.82"/>
<circle cx="138.5" cy="603.5" r="1.85" fill="#80BCD3" fill-opacity="0.82"/>
<circle cx="139.4" cy="621.4" r="1.85" fill="#80BCD3" fill-opacity="0.82"/>
<circle cx="116.3" cy="675.8" r="1.85" fill="#C4C4C4" fill-opacity="0.82"/>
<circle cx="52.3" cy="628.1" r="1.85" fill="#CFAD88" fill-opacity="0.82"/>
<circle cx="155.9" cy="565.4" r="1.85" fill="#C4C4C4" fill-opacity="0.82"/>
<circle cx="88.0" cy="636.3" r="1.85" fill="#CFAD88" fill-opacity="0.82"/>
<circle cx="142.0" cy="616.3" r="1.85" fill="#CFAD88" fill-opacity="0.82"/>
<circle cx="116.0" cy="660.0" r="1.85" fill="#CFAD88" fill-opacity="0.82"/>
<circle cx="156.9" cy="613.1" r="1.85" fill="#C4C4C4" fill-opacity="0.82"/>
<circle cx="174.6" cy="625.1" r="1.85" fill="#C4C4C4" fill-opacity="0.82"/>
<circle cx="133.1" cy="596.7" r="1.85" fill="#80BCD3" fill-opacity="0.82"/>
<circle cx="154.1" cy="580.5" r="1.85" fill="#80BCD3" fill-opacity="0.82"/>
<circle cx="126.1" cy="689.5" r="1.85" fill="#CFAD88" fill-opacity="0.82"/>
<circle cx="124.1" cy="599.4" r="1.85" fill="#C4C4C4" fill-opacity="0.82"/>
<circle cx="169.6" cy="586.4" r="1.85" fill="#80BCD3" fill-opacity="0.82"/>
<circle cx="78.8" cy="611.8" r="1.85" fill="#C4C4C4" fill-opacity="0.82"/>
<circle cx="68.6" cy="590.3" r="1.85" fill="#CFAD88" fill-opacity="0.82"/>
<circle cx="105.1" cy="641.5" r="1.85" fill="#CFAD88" fill-opacity="0.82"/>
<circle cx="157.7" cy="584.9" r="1.85" fill="#80BCD3" fill-opacity="0.82"/>
<circle cx="84.5" cy="623.0" r="1.85" fill="#CFAD88" fill-opacity="0.82"/>
<circle cx="125.3" cy="673.2" r="1.85" fill="#CFAD88" fill-opacity="0.82"/>
<circle cx="106.3" cy="611.4" r="1.85" fill="#CFAD88" fill-opacity="0.82"/>
<circle cx="135.9" cy="576.2" r="1.85" fill="#C4C4C4" fill-opacity="0.82"/>
<circle cx="123.6" cy="662.5" r="1.85" fill="#C4C4C4" fill-opacity="0.82"/>
<circle cx="79.3" cy="646.1" r="1.85" fill="#CFAD88" fill-opacity="0.82"/>
<circle cx="66.9" cy="629.9" r="1.85" fill="#C4C4C4" fill-opacity="0.82"/>
<circle cx="106.6" cy="631.0" r="1.85" fill="#C4C4C4" fill-opacity="0.82"/>
<circle cx="90.5" cy="682.0" r="1.85" fill="#C4C4C4" fill-opacity="0.82"/>
<circle cx="84.0" cy="614.4" r="1.85" fill="#CFAD88" fill-opacity="0.82"/>
<circle cx="79.0" cy="638.9" r="1.85" fill="#CFAD88" fill-opacity="0.82"/>
<circle cx="67.9" cy="629.4" r="1.85" fill="#CFAD88" fill-opacity="0.82"/>
<circle cx="150.6" cy="591.9" r="1.85" fill="#80BCD3" fill-opacity="0.82"/>
<circle cx="161.8" cy="581.2" r="1.85" fill="#80BCD3" fill-opacity="0.82"/>
<circle cx="83.1" cy="619.9" r="1.85" fill="#C4C4C4" fill-opacity="0.82"/>
<circle cx="129.5" cy="621.4" r="1.85" fill="#C4C4C4" fill-opacity="0.82"/>
<circle cx="92.7" cy="635.1" r="1.85" fill="#C4C4C4" fill-opacity="0.82"/>
<circle cx="178.2" cy="603.8" r="1.85" fill="#CFAD88" fill-opacity="0.82"/>
<circle cx="131.0" cy="683.2" r="1.85" fill="#CFAD88" fill-opacity="0.82"/>
<circle cx="68.3" cy="617.9" r="1.85" fill="#CFAD88" fill-opacity="0.82"/>
<circle cx="134.2" cy="621.0" r="1.85" fill="#C4C4C4" fill-opacity="0.82"/>
<circle cx="169.8" cy="574.5" r="1.85" fill="#80BCD3" fill-opacity="0.82"/>
<circle cx="160.7" cy="590.9" r="1.85" fill="#80BCD3" fill-opacity="0.82"/>
<circle cx="156.3" cy="611.8" r="1.85" fill="#80BCD3" fill-opacity="0.82"/>
<circle cx="158.6" cy="605.1" r="1.85" fill="#CFAD88" fill-opacity="0.82"/>
<circle cx="157.1" cy="612.8" r="1.85" fill="#80BCD3" fill-opacity="0.82"/>
<circle cx="125.5" cy="683.1" r="1.85" fill="#C4C4C4" fill-opacity="0.82"/>
<circle cx="145.5" cy="582.9" r="1.85" fill="#C4C4C4" fill-opacity="0.82"/>
<circle cx="89.2" cy="634.4" r="1.85" fill="#CFAD88" fill-opacity="0.82"/>
<circle cx="87.7" cy="601.4" r="1.85" fill="#C4C4C4" fill-opacity="0.82"/>
<circle cx="162.6" cy="574.9" r="1.85" fill="#C4C4C4" fill-opacity="0.82"/>
<circle cx="161.4" cy="601.8" r="1.85" fill="#C4C4C4" fill-opacity="0.82"/>
<circle cx="123.9" cy="636.0" r="1.85" fill="#C4C4C4" fill-opacity="0.82"/>
<circle cx="165.3" cy="617.5" r="1.85" fill="#80BCD3" fill-opacity="0.82"/>
<circle cx="132.9" cy="639.4" r="1.85" fill="#CFAD88" fill-opacity="0.82"/>
<circle cx="80.4" cy="627.9" r="1.85" fill="#C4C4C4" fill-opacity="0.82"/>
<circle cx="69.2" cy="636.0" r="1.85" fill="#CFAD88" fill-opacity="0.82"/>
<circle cx="109.9" cy="659.9" r="1.85" fill="#CFAD88" fill-opacity="0.82"/>
<circle cx="88.7" cy="637.8" r="1.85" fill="#CFAD88" fill-opacity="0.82"/>
<circle cx="127.7" cy="653.8" r="1.85" fill="#C4C4C4" fill-opacity="0.82"/>
<circle cx="108.1" cy="635.0" r="1.85" fill="#C4C4C4" fill-opacity="0.82"/>
<circle cx="86.1" cy="642.2" r="1.85" fill="#C4C4C4" fill-opacity="0.82"/>
<circle cx="122.9" cy="613.8" r="1.85" fill="#80BCD3" fill-opacity="0.82"/>
<circle cx="127.4" cy="597.1" r="1.85" fill="#80BCD3" fill-opacity="0.82"/>
<circle cx="139.9" cy="602.9" r="1.85" fill="#C4C4C4" fill-opacity="0.82"/>
<circle cx="125.0" cy="652.9" r="1.85" fill="#CFAD88" fill-opacity="0.82"/>
<circle cx="147.2" cy="590.2" r="1.85" fill="#80BCD3" fill-opacity="0.82"/>
<circle cx="119.3" cy="650.9" r="1.85" fill="#C4C4C4" fill-opacity="0.82"/>
<circle cx="104.9" cy="641.2" r="1.85" fill="#CFAD88" fill-opacity="0.82"/>
<circle cx="133.8" cy="645.8" r="1.85" fill="#CFAD88" fill-opacity="0.82"/>
<circle cx="137.1" cy="597.7" r="1.85" fill="#C4C4C4" fill-opacity="0.82"/>
<circle cx="145.6" cy="663.5" r="1.85" fill="#C4C4C4" fill-opacity="0.82"/>
<circle cx="143.3" cy="588.3" r="1.85" fill="#C4C4C4" fill-opacity="0.82"/>
<circle cx="135.9" cy="672.6" r="1.85" fill="#C4C4C4" fill-opacity="0.82"/>
<circle cx="138.6" cy="623.1" r="1.85" fill="#80BCD3" fill-opacity="0.82"/>
<circle cx="79.6" cy="644.0" r="1.85" fill="#CFAD88" fill-opacity="0.82"/>
<circle cx="149.1" cy="631.4" r="1.85" fill="#CFAD88" fill-opacity="0.82"/>
<circle cx="87.1" cy="641.6" r="1.85" fill="#CFAD88" fill-opacity="0.82"/>
<circle cx="75.4" cy="625.2" r="1.85" fill="#CFAD88" fill-opacity="0.82"/>
<circle cx="119.1" cy="609.2" r="1.85" fill="#CFAD88" fill-opacity="0.82"/>
<circle cx="116.2" cy="640.5" r="1.85" fill="#CFAD88" fill-opacity="0.82"/>
<circle cx="147.8" cy="636.2" r="1.85" fill="#C4C4C4" fill-opacity="0.82"/>
<circle cx="101.5" cy="650.7" r="1.85" fill="#CFAD88" fill-opacity="0.82"/>
<circle cx="131.4" cy="589.1" r="1.85" fill="#C4C4C4" fill-opacity="0.82"/>
<circle cx="128.2" cy="604.8" r="1.85" fill="#C4C4C4" fill-opacity="0.82"/>
<circle cx="122.3" cy="618.9" r="1.85" fill="#CFAD88" fill-opacity="0.82"/>
<circle cx="183.2" cy="593.4" r="1.85" fill="#C4C4C4" fill-opacity="0.82"/>
<circle cx="124.9" cy="631.9" r="1.85" fill="#C4C4C4" fill-opacity="0.82"/>
<circle cx="70.1" cy="629.1" r="1.85" fill="#CFAD88" fill-opacity="0.82"/>
<circle cx="180.0" cy="619.4" r="1.85" fill="#80BCD3" fill-opacity="0.82"/>
<circle cx="65.8" cy="629.5" r="1.85" fill="#CFAD88" fill-opacity="0.82"/>
<circle cx="105.6" cy="655.8" r="1.85" fill="#CFAD88" fill-opacity="0.82"/>
<circle cx="144.7" cy="664.3" r="1.85" fill="#C4C4C4" fill-opacity="0.82"/>
<circle cx="151.6" cy="593.9" r="1.85" fill="#C4C4C4" fill-opacity="0.82"/>
<circle cx="98.6" cy="637.4" r="1.85" fill="#C4C4C4" fill-opacity="0.82"/>
<circle cx="90.9" cy="627.4" r="1.85" fill="#C4C4C4" fill-opacity="0.82"/>
<circle cx="164.0" cy="590.3" r="1.85" fill="#C4C4C4" fill-opacity="0.82"/>
<circle cx="107.6" cy="566.6" r="1.85" fill="#CFAD88" fill-opacity="0.82"/>
<circle cx="114.0" cy="566.2" r="1.85" fill="#CFAD88" fill-opacity="0.82"/>
<circle cx="77.6" cy="581.4" r="1.85" fill="#CFAD88" fill-opacity="0.82"/>
<circle cx="87.6" cy="584.6" r="1.85" fill="#CFAD88" fill-opacity="0.82"/>
<circle cx="105.0" cy="583.0" r="1.85" fill="#CFAD88" fill-opacity="0.82"/>
<circle cx="100.0" cy="591.4" r="1.85" fill="#C4C4C4" fill-opacity="0.82"/>
<circle cx="119.0" cy="584.0" r="1.85" fill="#C4C4C4" fill-opacity="0.82"/>
<circle cx="61.6" cy="607.0" r="1.85" fill="#CFAD88" fill-opacity="0.82"/>
<circle cx="68.6" cy="608.0" r="1.85" fill="#CFAD88" fill-opacity="0.82"/>
<circle cx="77.6" cy="607.0" r="1.85" fill="#CFAD88" fill-opacity="0.82"/>
<circle cx="91.6" cy="606.6" r="1.85" fill="#C4C4C4" fill-opacity="0.82"/>
<circle cx="62.0" cy="610.0" r="1.85" fill="#CFAD88" fill-opacity="0.82"/>
<circle cx="55.0" cy="610.6" r="1.85" fill="#CFAD88" fill-opacity="0.82"/>
<circle cx="79.6" cy="610.0" r="1.85" fill="#CFAD88" fill-opacity="0.82"/>
<circle cx="122.0" cy="606.0" r="1.85" fill="#80BCD3" fill-opacity="0.82"/>
<circle cx="126.0" cy="604.0" r="1.85" fill="#C4C4C4" fill-opacity="0.82"/>
<circle cx="143.2" cy="566.6" r="1.85" fill="#C4C4C4" fill-opacity="0.82"/>
<circle cx="138.7" cy="577.9" r="1.85" fill="#80BCD3" fill-opacity="0.82"/>
<circle cx="140.0" cy="581.3" r="1.85" fill="#80BCD3" fill-opacity="0.82"/>
<circle cx="179.8" cy="631.0" r="1.85" fill="#C4C4C4" fill-opacity="0.82"/>
<circle cx="170.5" cy="616.6" r="1.85" fill="#80BCD3" fill-opacity="0.82"/>
<circle cx="177.7" cy="606.6" r="1.85" fill="#80BCD3" fill-opacity="0.82"/>
<circle cx="182.3" cy="615.3" r="1.85" fill="#C4C4C4" fill-opacity="0.82"/>
<circle cx="160.7" cy="650.0" r="1.85" fill="#C4C4C4" fill-opacity="0.82"/>
<circle cx="153.2" cy="656.0" r="1.85" fill="#C4C4C4" fill-opacity="0.82"/>
<circle cx="144.5" cy="650.0" r="1.85" fill="#C4C4C4" fill-opacity="0.82"/>
<circle cx="138.3" cy="649.0" r="1.85" fill="#80BCD3" fill-opacity="0.82"/>
<circle cx="134.0" cy="662.6" r="1.85" fill="#CFAD88" fill-opacity="0.82"/>
<circle cx="134.0" cy="679.6" r="1.85" fill="#CFAD88" fill-opacity="0.82"/>
<circle cx="134.0" cy="692.7" r="1.85" fill="#CFAD88" fill-opacity="0.82"/>
<circle cx="155.0" cy="643.5" r="1.85" fill="#C4C4C4" fill-opacity="0.82"/>
<circle cx="158.6" cy="637.3" r="1.85" fill="#80BCD3" fill-opacity="0.82"/>
<circle cx="89.6" cy="686.9" r="1.85" fill="#CFAD88" fill-opacity="0.82"/>
<circle cx="134.6" cy="679.0" r="1.85" fill="#CFAD88" fill-opacity="0.82"/>
<text x="134.0" y="535.9" class="nl" fill="#8357C2">43</text>
<text x="155.5" y="538.9" class="nl" fill="#E58056">12</text>
<text x="148.0" y="547.6" class="nl" fill="#FB9D24">77</text>
<text x="124.0" y="550.9" class="nl" fill="#A55DA1">11</text>
<text x="165.4" y="553.3" class="nl" fill="#AE6098">9</text>
<text x="185.9" y="551.9" class="nl" fill="#AE6098">28</text>
<text x="181.2" y="563.3" class="nl" fill="#F7972E">16</text>
<text x="94.6" y="564.5" class="nl" fill="#F08C42">37</text>
<text x="160.7" y="568.9" class="nl" fill="#DE7A60">32</text>
<text x="181.0" y="568.9" class="nl" fill="#C8687E">29</text>
<text x="99.6" y="574.9" class="nl" fill="#8958BC">3</text>
<text x="109.6" y="574.3" class="nl" fill="#CF6E74">36</text>
<text x="115.6" y="574.3" class="nl" fill="#8958BC">62</text>
<text x="160.7" y="574.3" class="nl" fill="#FB9D24">52</text>
<text x="166.8" y="573.7" class="nl" fill="#8958BC">25</text>
<text x="182.0" y="572.9" class="nl" fill="#8958BC">27</text>
<text x="75.0" y="579.9" class="nl" fill="#AE6098">30</text>
<text x="193.5" y="580.9" class="nl" fill="#A55DA1">26</text>
<text x="106.5" y="583.1" class="nl" fill="#AE6098">55</text>
<text x="172.0" y="582.3" class="nl" fill="#F7972E">46</text>
<text x="180.0" y="584.8" class="nl" fill="#A55DA1">44</text>
<text x="204.7" y="584.7" class="nl" fill="#BF6587">8</text>
<text x="129.0" y="586.1" class="nl" fill="#E58056">65</text>
<text x="191.0" y="588.7" class="nl" fill="#F49238">48</text>
<text x="179.5" y="589.4" class="nl" fill="#8958BC">24</text>
<text x="155.9" y="589.0" class="nl" fill="#F49238">56</text>
<text x="119.5" y="592.6" class="nl" fill="#F7972E">17</text>
<text x="125.3" y="590.2" class="nl" fill="#F7972E">19</text>
<text x="134.3" y="592.3" class="nl" fill="#F7972E">79</text>
<text x="189.0" y="593.1" class="nl" fill="#F7972E">40</text>
<text x="171.0" y="593.8" class="nl" fill="#FDA11E">50</text>
<text x="162.0" y="594.3" class="nl" fill="#F49238">74</text>
<text x="144.0" y="594.3" class="nl" fill="#F7972E">76</text>
<text x="151.5" y="593.8" class="nl" fill="#F7972E">45</text>
<text x="106.5" y="597.2" class="nl" fill="#8958BC">2</text>
<text x="115.5" y="595.9" class="nl" fill="#8958BC">5</text>
<text x="229.6" y="596.5" class="nl" fill="#C8687E">35</text>
<text x="132.6" y="598.9" class="nl" fill="#7F56C6">22</text>
<text x="167.0" y="599.7" class="nl" fill="#8958BC">73</text>
<text x="139.2" y="602.1" class="nl" fill="#8357C2">51</text>
<text x="44.0" y="602.5" class="nl" fill="#FB9D24">60</text>
<text x="95.0" y="602.9" class="nl" fill="#8357C2">72</text>
<text x="111.4" y="600.9" class="nl" fill="#E58056">56</text>
<text x="109.4" y="604.1" class="nl" fill="#8357C2">71</text>
<text x="118.0" y="604.1" class="nl" fill="#B66290">13</text>
<text x="233.5" y="603.6" class="nl" fill="#D6746A">31</text>
<text x="186.4" y="605.3" class="nl" fill="#F7972E">36</text>
<text x="156.4" y="604.9" class="nl" fill="#F7972E">18</text>
<text x="136.7" y="608.7" class="nl" fill="#9C5AAA">64</text>
<text x="140.8" y="611.9" class="nl" fill="#F49238">54</text>
<text x="186.4" y="614.7" class="nl" fill="#DE7A60">59</text>
<text x="219.6" y="614.7" class="nl" fill="#DE7A60">34</text>
<text x="158.0" y="617.2" class="nl" fill="#F7972E">49</text>
<text x="161.3" y="617.2" class="nl" fill="#8958BC">1</text>
<text x="110.5" y="617.7" class="nl" fill="#D6746A">42</text>
<text x="150.3" y="620.8" class="nl" fill="#8958BC">23</text>
<text x="132.3" y="620.5" class="nl" fill="#F7972E">69</text>
<text x="109.7" y="621.3" class="nl" fill="#8958BC">1</text>
<text x="122.5" y="624.5" class="nl" fill="#8958BC">6</text>
<text x="169.5" y="628.6" class="nl" fill="#8958BC">7</text>
<text x="46.4" y="632.2" class="nl" fill="#F7972E">80</text>
<text x="65.3" y="632.2" class="nl" fill="#F7972E">70</text>
<text x="87.0" y="630.9" class="nl" fill="#F7972E">15</text>
<text x="101.2" y="630.6" class="nl" fill="#F49238">38</text>
<text x="124.5" y="630.6" class="nl" fill="#8958BC">6</text>
<text x="130.2" y="631.7" class="nl" fill="#E58056">15</text>
<text x="57.3" y="634.9" class="nl" fill="#8958BC">63</text>
<text x="167.0" y="635.5" class="nl" fill="#F7972E">66</text>
<text x="149.8" y="640.1" class="nl" fill="#F7972E">67</text>
<text x="111.4" y="643.7" class="nl" fill="#7F56C6">21</text>
<text x="122.8" y="643.0" class="nl" fill="#F7972E">20</text>
<text x="170.0" y="658.3" class="nl" fill="#DE7A60">39</text>
<text x="112.4" y="662.9" class="nl" fill="#F49238">47</text>
<text x="141.2" y="667.5" class="nl" fill="#9259B3">52</text>
<text x="123.6" y="670.6" class="nl" fill="#F7972E">58</text>
<text x="142.0" y="673.5" class="nl" fill="#9259B3">53</text>
</g>
<g clip-path="url(#clipc2)">
<circle cx="398.1" cy="602.2" r="1.85" fill="#C4C4C4" fill-opacity="0.82"/>
<circle cx="369.4" cy="663.3" r="1.85" fill="#CFAD88" fill-opacity="0.82"/>
<circle cx="372.4" cy="621.9" r="1.85" fill="#C4C4C4" fill-opacity="0.82"/>
<circle cx="413.2" cy="629.7" r="1.85" fill="#CFAD88" fill-opacity="0.82"/>
<circle cx="414.7" cy="613.0" r="1.85" fill="#CFAD88" fill-opacity="0.82"/>
<circle cx="373.6" cy="627.5" r="1.85" fill="#CFAD88" fill-opacity="0.82"/>
<circle cx="337.7" cy="648.6" r="1.85" fill="#CFAD88" fill-opacity="0.82"/>
<circle cx="371.0" cy="604.1" r="1.85" fill="#C4C4C4" fill-opacity="0.82"/>
<circle cx="379.2" cy="638.2" r="1.85" fill="#C4C4C4" fill-opacity="0.82"/>
<circle cx="360.4" cy="660.4" r="1.85" fill="#C4C4C4" fill-opacity="0.82"/>
<circle cx="415.6" cy="600.2" r="1.85" fill="#80BCD3" fill-opacity="0.82"/>
<circle cx="365.2" cy="627.6" r="1.85" fill="#80BCD3" fill-opacity="0.82"/>
<circle cx="313.2" cy="640.6" r="1.85" fill="#CFAD88" fill-opacity="0.82"/>
<circle cx="403.7" cy="598.1" r="1.85" fill="#C4C4C4" fill-opacity="0.82"/>
<circle cx="382.0" cy="600.9" r="1.85" fill="#C4C4C4" fill-opacity="0.82"/>
<circle cx="379.9" cy="620.0" r="1.85" fill="#80BCD3" fill-opacity="0.82"/>
<circle cx="318.7" cy="626.7" r="1.85" fill="#CFAD88" fill-opacity="0.82"/>
<circle cx="407.1" cy="581.0" r="1.85" fill="#80BCD3" fill-opacity="0.82"/>
<circle cx="397.1" cy="598.1" r="1.85" fill="#C4C4C4" fill-opacity="0.82"/>
<circle cx="387.4" cy="630.7" r="1.85" fill="#C4C4C4" fill-opacity="0.82"/>
<circle cx="337.0" cy="608.0" r="1.85" fill="#C4C4C4" fill-opacity="0.82"/>
<circle cx="358.2" cy="616.6" r="1.85" fill="#C4C4C4" fill-opacity="0.82"/>
<circle cx="423.5" cy="597.3" r="1.85" fill="#80BCD3" fill-opacity="0.82"/>
<circle cx="401.1" cy="602.6" r="1.85" fill="#C4C4C4" fill-opacity="0.82"/>
<circle cx="347.4" cy="619.8" r="1.85" fill="#C4C4C4" fill-opacity="0.82"/>
<circle cx="385.8" cy="625.2" r="1.85" fill="#C4C4C4" fill-opacity="0.82"/>
<circle cx="338.3" cy="640.8" r="1.85" fill="#80BCD3" fill-opacity="0.82"/>
<circle cx="369.6" cy="619.9" r="1.85" fill="#CFAD88" fill-opacity="0.82"/>
<circle cx="407.4" cy="610.3" r="1.85" fill="#C4C4C4" fill-opacity="0.82"/>
<circle cx="430.2" cy="592.7" r="1.85" fill="#80BCD3" fill-opacity="0.82"/>
<circle cx="374.9" cy="631.3" r="1.85" fill="#CFAD88" fill-opacity="0.82"/>
<circle cx="366.1" cy="619.3" r="1.85" fill="#CFAD88" fill-opacity="0.82"/>
<circle cx="412.8" cy="600.6" r="1.85" fill="#80BCD3" fill-opacity="0.82"/>
<circle cx="296.8" cy="638.5" r="1.85" fill="#CFAD88" fill-opacity="0.82"/>
<circle cx="358.1" cy="646.9" r="1.85" fill="#C4C4C4" fill-opacity="0.82"/>
<circle cx="327.9" cy="618.1" r="1.85" fill="#C4C4C4" fill-opacity="0.82"/>
<circle cx="411.0" cy="611.3" r="1.85" fill="#80BCD3" fill-opacity="0.82"/>
<circle cx="377.5" cy="628.0" r="1.85" fill="#80BCD3" fill-opacity="0.82"/>
<circle cx="343.5" cy="596.7" r="1.85" fill="#CFAD88" fill-opacity="0.82"/>
<circle cx="328.8" cy="639.2" r="1.85" fill="#CFAD88" fill-opacity="0.82"/>
<circle cx="381.3" cy="619.5" r="1.85" fill="#C4C4C4" fill-opacity="0.82"/>
<circle cx="395.0" cy="599.5" r="1.85" fill="#CFAD88" fill-opacity="0.82"/>
<circle cx="402.1" cy="596.5" r="1.85" fill="#CFAD88" fill-opacity="0.82"/>
<circle cx="402.9" cy="606.1" r="1.85" fill="#C4C4C4" fill-opacity="0.82"/>
<circle cx="349.0" cy="610.1" r="1.85" fill="#C4C4C4" fill-opacity="0.82"/>
<circle cx="410.2" cy="609.4" r="1.85" fill="#80BCD3" fill-opacity="0.82"/>
<circle cx="381.9" cy="658.7" r="1.85" fill="#C4C4C4" fill-opacity="0.82"/>
<circle cx="348.0" cy="649.0" r="1.85" fill="#CFAD88" fill-opacity="0.82"/>
<circle cx="408.4" cy="622.7" r="1.85" fill="#80BCD3" fill-opacity="0.82"/>
<circle cx="326.5" cy="647.7" r="1.85" fill="#CFAD88" fill-opacity="0.82"/>
<circle cx="331.8" cy="612.9" r="1.85" fill="#CFAD88" fill-opacity="0.82"/>
<circle cx="365.1" cy="670.7" r="1.85" fill="#CFAD88" fill-opacity="0.82"/>
<circle cx="441.5" cy="582.8" r="1.85" fill="#CFAD88" fill-opacity="0.82"/>
<circle cx="367.9" cy="616.1" r="1.85" fill="#CFAD88" fill-opacity="0.82"/>
<circle cx="332.9" cy="630.9" r="1.85" fill="#CFAD88" fill-opacity="0.82"/>
<circle cx="350.6" cy="634.3" r="1.85" fill="#C4C4C4" fill-opacity="0.82"/>
<circle cx="389.6" cy="656.1" r="1.85" fill="#80BCD3" fill-opacity="0.82"/>
<circle cx="401.8" cy="591.6" r="1.85" fill="#C4C4C4" fill-opacity="0.82"/>
<circle cx="312.3" cy="659.4" r="1.85" fill="#CFAD88" fill-opacity="0.82"/>
<circle cx="313.4" cy="630.9" r="1.85" fill="#CFAD88" fill-opacity="0.82"/>
<circle cx="388.0" cy="590.3" r="1.85" fill="#80BCD3" fill-opacity="0.82"/>
<circle cx="376.4" cy="603.3" r="1.85" fill="#80BCD3" fill-opacity="0.82"/>
<circle cx="367.7" cy="637.2" r="1.85" fill="#C4C4C4" fill-opacity="0.82"/>
<circle cx="343.4" cy="632.9" r="1.85" fill="#CFAD88" fill-opacity="0.82"/>
<circle cx="363.1" cy="619.2" r="1.85" fill="#80BCD3" fill-opacity="0.82"/>
<circle cx="332.4" cy="636.0" r="1.85" fill="#CFAD88" fill-opacity="0.82"/>
<circle cx="370.8" cy="605.8" r="1.85" fill="#CFAD88" fill-opacity="0.82"/>
<circle cx="409.0" cy="607.7" r="1.85" fill="#C4C4C4" fill-opacity="0.82"/>
<circle cx="369.6" cy="679.7" r="1.85" fill="#CFAD88" fill-opacity="0.82"/>
<circle cx="376.9" cy="605.8" r="1.85" fill="#80BCD3" fill-opacity="0.82"/>
<circle cx="353.3" cy="610.6" r="1.85" fill="#C4C4C4" fill-opacity="0.82"/>
<circle cx="362.8" cy="649.4" r="1.85" fill="#CFAD88" fill-opacity="0.82"/>
<circle cx="408.3" cy="615.7" r="1.85" fill="#C4C4C4" fill-opacity="0.82"/>
<circle cx="345.7" cy="655.5" r="1.85" fill="#CFAD88" fill-opacity="0.82"/>
<circle cx="364.4" cy="652.7" r="1.85" fill="#CFAD88" fill-opacity="0.82"/>
<circle cx="318.6" cy="613.4" r="1.85" fill="#CFAD88" fill-opacity="0.82"/>
<circle cx="423.2" cy="600.8" r="1.85" fill="#C4C4C4" fill-opacity="0.82"/>
<circle cx="333.0" cy="619.7" r="1.85" fill="#CFAD88" fill-opacity="0.82"/>
<circle cx="348.3" cy="633.1" r="1.85" fill="#CFAD88" fill-opacity="0.82"/>
<circle cx="396.8" cy="618.2" r="1.85" fill="#80BCD3" fill-opacity="0.82"/>
<circle cx="362.3" cy="610.7" r="1.85" fill="#C4C4C4" fill-opacity="0.82"/>
<circle cx="376.0" cy="655.7" r="1.85" fill="#CFAD88" fill-opacity="0.82"/>
<circle cx="322.8" cy="646.9" r="1.85" fill="#CFAD88" fill-opacity="0.82"/>
<circle cx="387.3" cy="646.1" r="1.85" fill="#C4C4C4" fill-opacity="0.82"/>
<circle cx="353.1" cy="672.8" r="1.85" fill="#CFAD88" fill-opacity="0.82"/>
<circle cx="357.4" cy="646.8" r="1.85" fill="#C4C4C4" fill-opacity="0.82"/>
<circle cx="333.4" cy="635.9" r="1.85" fill="#CFAD88" fill-opacity="0.82"/>
<circle cx="325.8" cy="652.5" r="1.85" fill="#CFAD88" fill-opacity="0.82"/>
<circle cx="331.0" cy="656.6" r="1.85" fill="#CFAD88" fill-opacity="0.82"/>
<circle cx="414.9" cy="605.6" r="1.85" fill="#80BCD3" fill-opacity="0.82"/>
<circle cx="370.1" cy="668.4" r="1.85" fill="#C4C4C4" fill-opacity="0.82"/>
<circle cx="434.9" cy="607.9" r="1.85" fill="#80BCD3" fill-opacity="0.82"/>
<circle cx="359.7" cy="665.7" r="1.85" fill="#CFAD88" fill-opacity="0.82"/>
<circle cx="409.0" cy="620.7" r="1.85" fill="#C4C4C4" fill-opacity="0.82"/>
<circle cx="317.7" cy="659.7" r="1.85" fill="#CFAD88" fill-opacity="0.82"/>
<circle cx="405.0" cy="605.9" r="1.85" fill="#C4C4C4" fill-opacity="0.82"/>
<circle cx="355.7" cy="665.9" r="1.85" fill="#C4C4C4" fill-opacity="0.82"/>
<circle cx="382.8" cy="626.9" r="1.85" fill="#CFAD88" fill-opacity="0.82"/>
<circle cx="322.4" cy="616.9" r="1.85" fill="#CFAD88" fill-opacity="0.82"/>
<circle cx="304.9" cy="625.3" r="1.85" fill="#CFAD88" fill-opacity="0.82"/>
<circle cx="406.2" cy="628.5" r="1.85" fill="#CFAD88" fill-opacity="0.82"/>
<circle cx="397.2" cy="605.4" r="1.85" fill="#80BCD3" fill-opacity="0.82"/>
<circle cx="361.5" cy="672.6" r="1.85" fill="#CFAD88" fill-opacity="0.82"/>
<circle cx="362.3" cy="627.8" r="1.85" fill="#C4C4C4" fill-opacity="0.82"/>
<circle cx="404.7" cy="605.8" r="1.85" fill="#C4C4C4" fill-opacity="0.82"/>
<circle cx="371.0" cy="602.7" r="1.85" fill="#C4C4C4" fill-opacity="0.82"/>
<circle cx="385.6" cy="603.0" r="1.85" fill="#C4C4C4" fill-opacity="0.82"/>
<circle cx="360.8" cy="609.9" r="1.85" fill="#CFAD88" fill-opacity="0.82"/>
<circle cx="401.2" cy="674.9" r="1.85" fill="#C4C4C4" fill-opacity="0.82"/>
<circle cx="373.0" cy="617.9" r="1.85" fill="#CFAD88" fill-opacity="0.82"/>
<circle cx="427.2" cy="584.7" r="1.85" fill="#C4C4C4" fill-opacity="0.82"/>
<circle cx="398.3" cy="610.3" r="1.85" fill="#CFAD88" fill-opacity="0.82"/>
<circle cx="362.1" cy="659.4" r="1.85" fill="#CFAD88" fill-opacity="0.82"/>
<circle cx="294.1" cy="603.4" r="1.85" fill="#CFAD88" fill-opacity="0.82"/>
<circle cx="392.1" cy="622.7" r="1.85" fill="#C4C4C4" fill-opacity="0.82"/>
<circle cx="373.3" cy="671.4" r="1.85" fill="#CFAD88" fill-opacity="0.82"/>
<circle cx="336.5" cy="648.3" r="1.85" fill="#CFAD88" fill-opacity="0.82"/>
<circle cx="390.4" cy="603.3" r="1.85" fill="#C4C4C4" fill-opacity="0.82"/>
<circle cx="353.3" cy="643.7" r="1.85" fill="#CFAD88" fill-opacity="0.82"/>
<circle cx="325.8" cy="645.2" r="1.85" fill="#CFAD88" fill-opacity="0.82"/>
<circle cx="359.5" cy="656.8" r="1.85" fill="#C4C4C4" fill-opacity="0.82"/>
<circle cx="371.6" cy="600.7" r="1.85" fill="#80BCD3" fill-opacity="0.82"/>
<circle cx="402.4" cy="610.4" r="1.85" fill="#C4C4C4" fill-opacity="0.82"/>
<circle cx="362.5" cy="627.5" r="1.85" fill="#C4C4C4" fill-opacity="0.82"/>
<circle cx="348.9" cy="650.3" r="1.85" fill="#C4C4C4" fill-opacity="0.82"/>
<circle cx="387.4" cy="617.0" r="1.85" fill="#CFAD88" fill-opacity="0.82"/>
<circle cx="418.2" cy="597.2" r="1.85" fill="#C4C4C4" fill-opacity="0.82"/>
<circle cx="308.1" cy="606.4" r="1.85" fill="#CFAD88" fill-opacity="0.82"/>
<circle cx="407.0" cy="611.3" r="1.85" fill="#C4C4C4" fill-opacity="0.82"/>
<circle cx="364.1" cy="597.2" r="1.85" fill="#CFAD88" fill-opacity="0.82"/>
<circle cx="323.5" cy="637.0" r="1.85" fill="#C4C4C4" fill-opacity="0.82"/>
<circle cx="380.1" cy="663.7" r="1.85" fill="#C4C4C4" fill-opacity="0.82"/>
<circle cx="393.2" cy="627.4" r="1.85" fill="#80BCD3" fill-opacity="0.82"/>
<circle cx="409.3" cy="595.8" r="1.85" fill="#80BCD3" fill-opacity="0.82"/>
<circle cx="318.9" cy="626.9" r="1.85" fill="#CFAD88" fill-opacity="0.82"/>
<circle cx="360.4" cy="668.1" r="1.85" fill="#CFAD88" fill-opacity="0.82"/>
<circle cx="318.2" cy="632.2" r="1.85" fill="#CFAD88" fill-opacity="0.82"/>
<circle cx="390.7" cy="615.6" r="1.85" fill="#CFAD88" fill-opacity="0.82"/>
<circle cx="351.6" cy="612.1" r="1.85" fill="#C4C4C4" fill-opacity="0.82"/>
<circle cx="339.0" cy="649.5" r="1.85" fill="#80BCD3" fill-opacity="0.82"/>
<circle cx="397.5" cy="613.6" r="1.85" fill="#CFAD88" fill-opacity="0.82"/>
<circle cx="308.0" cy="637.2" r="1.85" fill="#CFAD88" fill-opacity="0.82"/>
<circle cx="396.6" cy="619.2" r="1.85" fill="#80BCD3" fill-opacity="0.82"/>
<circle cx="307.9" cy="614.6" r="1.85" fill="#CFAD88" fill-opacity="0.82"/>
<circle cx="345.2" cy="619.4" r="1.85" fill="#80BCD3" fill-opacity="0.82"/>
<circle cx="350.2" cy="667.8" r="1.85" fill="#CFAD88" fill-opacity="0.82"/>
<circle cx="371.5" cy="616.6" r="1.85" fill="#80BCD3" fill-opacity="0.82"/>
<circle cx="360.9" cy="614.5" r="1.85" fill="#80BCD3" fill-opacity="0.82"/>
<circle cx="389.0" cy="610.0" r="1.85" fill="#CFAD88" fill-opacity="0.82"/>
<circle cx="346.8" cy="627.9" r="1.85" fill="#CFAD88" fill-opacity="0.82"/>
<circle cx="372.6" cy="624.6" r="1.85" fill="#C4C4C4" fill-opacity="0.82"/>
<circle cx="329.2" cy="644.2" r="1.85" fill="#CFAD88" fill-opacity="0.82"/>
<circle cx="408.9" cy="611.2" r="1.85" fill="#C4C4C4" fill-opacity="0.82"/>
<circle cx="334.9" cy="627.6" r="1.85" fill="#80BCD3" fill-opacity="0.82"/>
<circle cx="406.9" cy="619.3" r="1.85" fill="#C4C4C4" fill-opacity="0.82"/>
<circle cx="370.2" cy="617.8" r="1.85" fill="#CFAD88" fill-opacity="0.82"/>
<circle cx="408.7" cy="601.4" r="1.85" fill="#CFAD88" fill-opacity="0.82"/>
<circle cx="411.5" cy="607.5" r="1.85" fill="#C4C4C4" fill-opacity="0.82"/>
<circle cx="405.0" cy="609.3" r="1.85" fill="#C4C4C4" fill-opacity="0.82"/>
<circle cx="316.7" cy="652.5" r="1.85" fill="#CFAD88" fill-opacity="0.82"/>
<circle cx="320.1" cy="629.7" r="1.85" fill="#CFAD88" fill-opacity="0.82"/>
<circle cx="362.9" cy="597.2" r="1.85" fill="#80BCD3" fill-opacity="0.82"/>
<circle cx="305.9" cy="629.9" r="1.85" fill="#CFAD88" fill-opacity="0.82"/>
<circle cx="362.1" cy="632.5" r="1.85" fill="#CFAD88" fill-opacity="0.82"/>
<circle cx="397.7" cy="625.5" r="1.85" fill="#C4C4C4" fill-opacity="0.82"/>
<circle cx="416.3" cy="604.8" r="1.85" fill="#80BCD3" fill-opacity="0.82"/>
<circle cx="320.7" cy="630.1" r="1.85" fill="#CFAD88" fill-opacity="0.82"/>
<circle cx="328.9" cy="623.4" r="1.85" fill="#CFAD88" fill-opacity="0.82"/>
<circle cx="361.0" cy="616.9" r="1.85" fill="#80BCD3" fill-opacity="0.82"/>
<circle cx="369.4" cy="633.1" r="1.85" fill="#CFAD88" fill-opacity="0.82"/>
<circle cx="290.4" cy="632.3" r="1.85" fill="#CFAD88" fill-opacity="0.82"/>
<circle cx="399.2" cy="625.8" r="1.85" fill="#80BCD3" fill-opacity="0.82"/>
<circle cx="335.3" cy="633.4" r="1.85" fill="#CFAD88" fill-opacity="0.82"/>
<circle cx="369.3" cy="596.1" r="1.85" fill="#CFAD88" fill-opacity="0.82"/>
<circle cx="341.2" cy="637.8" r="1.85" fill="#CFAD88" fill-opacity="0.82"/>
<circle cx="347.8" cy="619.3" r="1.85" fill="#CFAD88" fill-opacity="0.82"/>
<circle cx="371.1" cy="656.1" r="1.85" fill="#C4C4C4" fill-opacity="0.82"/>
<circle cx="361.8" cy="678.2" r="1.85" fill="#CFAD88" fill-opacity="0.82"/>
<circle cx="352.3" cy="647.7" r="1.85" fill="#CFAD88" fill-opacity="0.82"/>
<circle cx="349.4" cy="605.6" r="1.85" fill="#C4C4C4" fill-opacity="0.82"/>
<circle cx="325.8" cy="615.0" r="1.85" fill="#CFAD88" fill-opacity="0.82"/>
<circle cx="349.4" cy="630.7" r="1.85" fill="#CFAD88" fill-opacity="0.82"/>
<circle cx="393.1" cy="655.5" r="1.85" fill="#CFAD88" fill-opacity="0.82"/>
<circle cx="340.0" cy="624.0" r="1.85" fill="#80BCD3" fill-opacity="0.82"/>
<circle cx="369.0" cy="663.3" r="1.85" fill="#CFAD88" fill-opacity="0.82"/>
<circle cx="357.7" cy="649.1" r="1.85" fill="#C4C4C4" fill-opacity="0.82"/>
<circle cx="323.1" cy="644.2" r="1.85" fill="#CFAD88" fill-opacity="0.82"/>
<circle cx="381.4" cy="618.4" r="1.85" fill="#CFAD88" fill-opacity="0.82"/>
<circle cx="396.6" cy="606.7" r="1.85" fill="#80BCD3" fill-opacity="0.82"/>
<circle cx="416.3" cy="607.1" r="1.85" fill="#C4C4C4" fill-opacity="0.82"/>
<circle cx="282.6" cy="569.0" r="1.85" fill="#CFAD88" fill-opacity="0.82"/>
<circle cx="385.6" cy="651.1" r="1.85" fill="#C4C4C4" fill-opacity="0.82"/>
<circle cx="381.2" cy="616.7" r="1.85" fill="#C4C4C4" fill-opacity="0.82"/>
<circle cx="372.0" cy="648.9" r="1.85" fill="#C4C4C4" fill-opacity="0.82"/>
<circle cx="381.1" cy="635.8" r="1.85" fill="#CFAD88" fill-opacity="0.82"/>
<circle cx="367.2" cy="632.7" r="1.85" fill="#CFAD88" fill-opacity="0.82"/>
<circle cx="390.7" cy="610.1" r="1.85" fill="#C4C4C4" fill-opacity="0.82"/>
<circle cx="318.0" cy="644.9" r="1.85" fill="#CFAD88" fill-opacity="0.82"/>
<circle cx="385.5" cy="633.6" r="1.85" fill="#CFAD88" fill-opacity="0.82"/>
<circle cx="360.5" cy="612.6" r="1.85" fill="#C4C4C4" fill-opacity="0.82"/>
<circle cx="365.9" cy="617.9" r="1.85" fill="#C4C4C4" fill-opacity="0.82"/>
<circle cx="308.9" cy="650.6" r="1.85" fill="#C4C4C4" fill-opacity="0.82"/>
<circle cx="336.6" cy="673.5" r="1.85" fill="#C4C4C4" fill-opacity="0.82"/>
<circle cx="364.9" cy="645.7" r="1.85" fill="#CFAD88" fill-opacity="0.82"/>
<circle cx="338.2" cy="621.9" r="1.85" fill="#C4C4C4" fill-opacity="0.82"/>
<circle cx="398.8" cy="616.3" r="1.85" fill="#C4C4C4" fill-opacity="0.82"/>
<circle cx="302.9" cy="633.3" r="1.85" fill="#CFAD88" fill-opacity="0.82"/>
<circle cx="328.4" cy="648.0" r="1.85" fill="#80BCD3" fill-opacity="0.82"/>
<circle cx="325.8" cy="611.3" r="1.85" fill="#CFAD88" fill-opacity="0.82"/>
<circle cx="357.2" cy="633.2" r="1.85" fill="#C4C4C4" fill-opacity="0.82"/>
<circle cx="336.1" cy="637.2" r="1.85" fill="#CFAD88" fill-opacity="0.82"/>
<circle cx="423.4" cy="590.4" r="1.85" fill="#CFAD88" fill-opacity="0.82"/>
<circle cx="329.8" cy="608.6" r="1.85" fill="#C4C4C4" fill-opacity="0.82"/>
<circle cx="377.7" cy="682.5" r="1.85" fill="#CFAD88" fill-opacity="0.82"/>
<circle cx="339.9" cy="606.8" r="1.85" fill="#CFAD88" fill-opacity="0.82"/>
<circle cx="391.8" cy="604.4" r="1.85" fill="#80BCD3" fill-opacity="0.82"/>
<circle cx="378.4" cy="677.7" r="1.85" fill="#CFAD88" fill-opacity="0.82"/>
<circle cx="411.2" cy="609.5" r="1.85" fill="#C4C4C4" fill-opacity="0.82"/>
<circle cx="395.9" cy="613.5" r="1.85" fill="#80BCD3" fill-opacity="0.82"/>
<circle cx="373.0" cy="621.3" r="1.85" fill="#80BCD3" fill-opacity="0.82"/>
<circle cx="399.0" cy="606.4" r="1.85" fill="#C4C4C4" fill-opacity="0.82"/>
<circle cx="402.9" cy="602.1" r="1.85" fill="#C4C4C4" fill-opacity="0.82"/>
<circle cx="350.0" cy="647.7" r="1.85" fill="#CFAD88" fill-opacity="0.82"/>
<circle cx="389.1" cy="614.6" r="1.85" fill="#C4C4C4" fill-opacity="0.82"/>
<circle cx="334.5" cy="622.4" r="1.85" fill="#CFAD88" fill-opacity="0.82"/>
<circle cx="403.9" cy="600.1" r="1.85" fill="#C4C4C4" fill-opacity="0.82"/>
<circle cx="308.9" cy="648.7" r="1.85" fill="#CFAD88" fill-opacity="0.82"/>
<circle cx="354.8" cy="647.6" r="1.85" fill="#CFAD88" fill-opacity="0.82"/>
<circle cx="341.1" cy="654.3" r="1.85" fill="#CFAD88" fill-opacity="0.82"/>
<circle cx="346.7" cy="629.2" r="1.85" fill="#C4C4C4" fill-opacity="0.82"/>
<circle cx="319.8" cy="622.5" r="1.85" fill="#CFAD88" fill-opacity="0.82"/>
<circle cx="370.6" cy="625.7" r="1.85" fill="#C4C4C4" fill-opacity="0.82"/>
<circle cx="308.2" cy="640.5" r="1.85" fill="#C4C4C4" fill-opacity="0.82"/>
<circle cx="380.9" cy="611.5" r="1.85" fill="#80BCD3" fill-opacity="0.82"/>
<circle cx="346.4" cy="638.6" r="1.85" fill="#CFAD88" fill-opacity="0.82"/>
<circle cx="316.7" cy="616.3" r="1.85" fill="#C4C4C4" fill-opacity="0.82"/>
<circle cx="335.5" cy="631.8" r="1.85" fill="#CFAD88" fill-opacity="0.82"/>
<circle cx="390.1" cy="604.6" r="1.85" fill="#C4C4C4" fill-opacity="0.82"/>
<circle cx="313.7" cy="624.7" r="1.85" fill="#CFAD88" fill-opacity="0.82"/>
<circle cx="372.7" cy="638.3" r="1.85" fill="#80BCD3" fill-opacity="0.82"/>
<circle cx="306.5" cy="609.2" r="1.85" fill="#CFAD88" fill-opacity="0.82"/>
<circle cx="402.2" cy="583.5" r="1.85" fill="#80BCD3" fill-opacity="0.82"/>
<circle cx="425.9" cy="602.1" r="1.85" fill="#C4C4C4" fill-opacity="0.82"/>
<circle cx="410.8" cy="596.1" r="1.85" fill="#C4C4C4" fill-opacity="0.82"/>
<circle cx="309.9" cy="605.8" r="1.85" fill="#CFAD88" fill-opacity="0.82"/>
<circle cx="397.9" cy="640.5" r="1.85" fill="#CFAD88" fill-opacity="0.82"/>
<circle cx="364.4" cy="624.8" r="1.85" fill="#CFAD88" fill-opacity="0.82"/>
<circle cx="373.7" cy="648.2" r="1.85" fill="#80BCD3" fill-opacity="0.82"/>
<circle cx="330.4" cy="674.5" r="1.85" fill="#CFAD88" fill-opacity="0.82"/>
<circle cx="377.8" cy="614.9" r="1.85" fill="#80BCD3" fill-opacity="0.82"/>
<circle cx="340.7" cy="654.2" r="1.85" fill="#CFAD88" fill-opacity="0.82"/>
<circle cx="428.5" cy="592.2" r="1.85" fill="#C4C4C4" fill-opacity="0.82"/>
<circle cx="335.8" cy="602.2" r="1.85" fill="#C4C4C4" fill-opacity="0.82"/>
<circle cx="304.1" cy="633.2" r="1.85" fill="#CFAD88" fill-opacity="0.82"/>
<circle cx="300.5" cy="643.3" r="1.85" fill="#CFAD88" fill-opacity="0.82"/>
<circle cx="327.5" cy="617.8" r="1.85" fill="#CFAD88" fill-opacity="0.82"/>
<circle cx="330.4" cy="625.8" r="1.85" fill="#C4C4C4" fill-opacity="0.82"/>
<circle cx="377.6" cy="629.8" r="1.85" fill="#80BCD3" fill-opacity="0.82"/>
<circle cx="373.4" cy="662.8" r="1.85" fill="#C4C4C4" fill-opacity="0.82"/>
<circle cx="407.7" cy="615.8" r="1.85" fill="#C4C4C4" fill-opacity="0.82"/>
<circle cx="322.9" cy="620.8" r="1.85" fill="#C4C4C4" fill-opacity="0.82"/>
<circle cx="390.3" cy="636.3" r="1.85" fill="#80BCD3" fill-opacity="0.82"/>
<circle cx="320.3" cy="636.0" r="1.85" fill="#C4C4C4" fill-opacity="0.82"/>
<circle cx="402.6" cy="604.0" r="1.85" fill="#80BCD3" fill-opacity="0.82"/>
<circle cx="367.7" cy="633.2" r="1.85" fill="#C4C4C4" fill-opacity="0.82"/>
<circle cx="385.0" cy="627.1" r="1.85" fill="#C4C4C4" fill-opacity="0.82"/>
<circle cx="387.7" cy="613.0" r="1.85" fill="#C4C4C4" fill-opacity="0.82"/>
<circle cx="384.3" cy="603.8" r="1.85" fill="#C4C4C4" fill-opacity="0.82"/>
<circle cx="400.7" cy="603.4" r="1.85" fill="#CFAD88" fill-opacity="0.82"/>
<circle cx="340.4" cy="628.3" r="1.85" fill="#C4C4C4" fill-opacity="0.82"/>
<circle cx="405.4" cy="586.3" r="1.85" fill="#C4C4C4" fill-opacity="0.82"/>
<circle cx="412.9" cy="592.0" r="1.85" fill="#CFAD88" fill-opacity="0.82"/>
<circle cx="402.5" cy="602.4" r="1.85" fill="#C4C4C4" fill-opacity="0.82"/>
<circle cx="425.7" cy="591.7" r="1.85" fill="#80BCD3" fill-opacity="0.82"/>
<circle cx="362.2" cy="642.7" r="1.85" fill="#C4C4C4" fill-opacity="0.82"/>
<circle cx="382.5" cy="611.2" r="1.85" fill="#C4C4C4" fill-opacity="0.82"/>
<circle cx="388.4" cy="642.7" r="1.85" fill="#C4C4C4" fill-opacity="0.82"/>
<circle cx="390.7" cy="663.0" r="1.85" fill="#CFAD88" fill-opacity="0.82"/>
<circle cx="329.2" cy="645.1" r="1.85" fill="#CFAD88" fill-opacity="0.82"/>
<circle cx="392.8" cy="601.6" r="1.85" fill="#80BCD3" fill-opacity="0.82"/>
<circle cx="321.0" cy="637.5" r="1.85" fill="#CFAD88" fill-opacity="0.82"/>
<circle cx="391.9" cy="603.5" r="1.85" fill="#C4C4C4" fill-opacity="0.82"/>
<circle cx="335.1" cy="609.8" r="1.85" fill="#CFAD88" fill-opacity="0.82"/>
<circle cx="399.4" cy="607.7" r="1.85" fill="#CFAD88" fill-opacity="0.82"/>
<circle cx="418.5" cy="591.4" r="1.85" fill="#80BCD3" fill-opacity="0.82"/>
<circle cx="358.9" cy="666.2" r="1.85" fill="#CFAD88" fill-opacity="0.82"/>
<circle cx="310.6" cy="594.6" r="1.85" fill="#CFAD88" fill-opacity="0.82"/>
<circle cx="352.6" cy="642.5" r="1.85" fill="#CFAD88" fill-opacity="0.82"/>
<circle cx="371.7" cy="618.8" r="1.85" fill="#80BCD3" fill-opacity="0.82"/>
<circle cx="365.3" cy="617.7" r="1.85" fill="#80BCD3" fill-opacity="0.82"/>
<circle cx="342.0" cy="563.4" r="1.85" fill="#C4C4C4" fill-opacity="0.82"/>
<circle cx="357.4" cy="566.6" r="1.85" fill="#CFAD88" fill-opacity="0.82"/>
<circle cx="364.0" cy="566.0" r="1.85" fill="#CFAD88" fill-opacity="0.82"/>
<circle cx="327.6" cy="581.0" r="1.85" fill="#CFAD88" fill-opacity="0.82"/>
<circle cx="337.6" cy="584.6" r="1.85" fill="#CFAD88" fill-opacity="0.82"/>
<circle cx="355.0" cy="583.0" r="1.85" fill="#CFAD88" fill-opacity="0.82"/>
<circle cx="368.4" cy="584.6" r="1.85" fill="#C4C4C4" fill-opacity="0.82"/>
<circle cx="374.0" cy="586.6" r="1.85" fill="#CFAD88" fill-opacity="0.82"/>
<circle cx="367.6" cy="588.0" r="1.85" fill="#CFAD88" fill-opacity="0.82"/>
<circle cx="350.4" cy="592.0" r="1.85" fill="#C4C4C4" fill-opacity="0.82"/>
<circle cx="292.0" cy="600.0" r="1.85" fill="#CFAD88" fill-opacity="0.82"/>
<circle cx="371.0" cy="599.0" r="1.85" fill="#CFAD88" fill-opacity="0.82"/>
<circle cx="347.0" cy="599.0" r="1.85" fill="#C4C4C4" fill-opacity="0.82"/>
<circle cx="342.0" cy="606.0" r="1.85" fill="#C4C4C4" fill-opacity="0.82"/>
<circle cx="312.0" cy="606.0" r="1.85" fill="#CFAD88" fill-opacity="0.82"/>
<circle cx="328.4" cy="606.4" r="1.85" fill="#CFAD88" fill-opacity="0.82"/>
<circle cx="319.0" cy="608.0" r="1.85" fill="#CFAD88" fill-opacity="0.82"/>
<circle cx="300.0" cy="625.7" r="1.85" fill="#CFAD88" fill-opacity="0.82"/>
<circle cx="339.4" cy="686.4" r="1.85" fill="#CFAD88" fill-opacity="0.82"/>
<circle cx="370.2" cy="678.0" r="1.85" fill="#CFAD88" fill-opacity="0.82"/>
<circle cx="383.9" cy="679.0" r="1.85" fill="#CFAD88" fill-opacity="0.82"/>
<circle cx="383.9" cy="693.0" r="1.85" fill="#CFAD88" fill-opacity="0.82"/>
<circle cx="385.4" cy="670.0" r="1.85" fill="#CFAD88" fill-opacity="0.82"/>
<circle cx="389.0" cy="578.0" r="1.85" fill="#80BCD3" fill-opacity="0.82"/>
<circle cx="390.0" cy="581.0" r="1.85" fill="#80BCD3" fill-opacity="0.82"/>
<text x="357.7" y="546.3" class="nl" fill="#EC864C" fill-opacity="0.7">76</text>
<text x="422.8" y="565.9" class="nl" fill="#DE7A60">75</text>
<text x="384.6" y="573.0" class="nl" fill="#F7972E">78</text>
<text x="459.4" y="618.9" class="nl" fill="#F7972E">74</text>
<text x="435.0" y="597.4" class="nl" fill="#F7972E">18</text>
<text x="430.6" y="605.7" class="nl" fill="#F7972E">46</text>
<text x="391.4" y="592.6" class="nl" fill="#E58056">32</text>
<text x="389.3" y="597.4" class="nl" fill="#D6746A">12</text>
<text x="400.3" y="595.3" class="nl" fill="#B66290">8</text>
<text x="411.5" y="594.5" class="nl" fill="#E58056">19</text>
<text x="407.0" y="597.9" class="nl" fill="#F7972E">45</text>
<text x="378.8" y="599.2" class="nl" fill="#FDA020">56</text>
<text x="359.2" y="595.8" class="nl" fill="#FB9D24">40</text>
<text x="352.4" y="600.9" class="nl" fill="#F7972E">58</text>
<text x="336.0" y="600.9" class="nl" fill="#F49238">38</text>
<text x="393.0" y="602.6" class="nl" fill="#E58056">17</text>
<text x="405.0" y="600.9" class="nl" fill="#F7972E">43</text>
<text x="416.0" y="596.9" class="nl" fill="#FB9D24">31</text>
<text x="420.0" y="600.9" class="nl" fill="#F99A2A">59</text>
<text x="399.0" y="605.9" class="nl" fill="#F7972E">37</text>
<text x="418.0" y="606.9" class="nl" fill="#F69532">54</text>
<text x="402.0" y="609.9" class="nl" fill="#F08C42">41</text>
<text x="415.0" y="614.9" class="nl" fill="#EC864C">69</text>
<text x="398.0" y="617.9" class="nl" fill="#E58056">77</text>
<text x="412.0" y="620.9" class="nl" fill="#DE7A60">36</text>
<text x="421.0" y="610.9" class="nl" fill="#F7972E">52</text>
<text x="409.0" y="602.9" class="nl" fill="#FB9D24">68</text>
<text x="413.0" y="599.9" class="nl" fill="#F7972E">57</text>
<text x="404.0" y="604.9" class="nl" fill="#F99A2A">49</text>
<text x="410.0" y="606.9" class="nl" fill="#F49238">11</text>
<text x="416.0" y="602.9" class="nl" fill="#F7972E">62</text>
<text x="406.0" y="609.9" class="nl" fill="#F08C42">33</text>
<text x="413.0" y="611.9" class="nl" fill="#EC864C">48</text>
<text x="404.0" y="613.9" class="nl" fill="#E58056">68</text>
<text x="410.0" y="616.9" class="nl" fill="#E58056">50</text>
<text x="407.0" y="619.9" class="nl" fill="#DE7A60">14</text>
<text x="394.5" y="608.3" class="nl" fill="#9259B3">35</text>
<text x="394.5" y="614.9" class="nl" fill="#9259B3">25</text>
<text x="374.9" y="613.1" class="nl" fill="#8357C2">45</text>
<text x="367.0" y="617.5" class="nl" fill="#8357C2">29</text>
<text x="372.3" y="620.6" class="nl" fill="#8357C2">73</text>
<text x="384.0" y="620.1" class="nl" fill="#8357C2">71</text>
<text x="391.4" y="621.4" class="nl" fill="#9259B3">24</text>
<text x="393.0" y="609.9" class="nl" fill="#9259B3">26</text>
<text x="384.0" y="613.9" class="nl" fill="#8958BC">34</text>
<text x="378.0" y="624.9" class="nl" fill="#8357C2">48</text>
<text x="396.0" y="628.9" class="nl" fill="#9259B3">33</text>
<text x="402.4" y="626.7" class="nl" fill="#8958BC">44</text>
<text x="391.9" y="630.6" class="nl" fill="#9259B3">22</text>
<text x="376.8" y="636.9" class="nl" fill="#A55DA1">53</text>
<text x="387.3" y="636.9" class="nl" fill="#9259B3">23</text>
<text x="395.1" y="636.9" class="nl" fill="#9259B3">27</text>
<text x="408.2" y="634.9" class="nl" fill="#BF6587">39</text>
<text x="408.2" y="640.9" class="nl" fill="#C8687E">13</text>
<text x="319.2" y="622.5" class="nl" fill="#F99A2A">60</text>
<text x="333.0" y="626.9" class="nl" fill="#F7972E">20</text>
<text x="348.0" y="625.2" class="nl" fill="#8357C2">72</text>
<text x="357.2" y="628.6" class="nl" fill="#8357C2">61</text>
<text x="368.1" y="626.5" class="nl" fill="#8357C2">7</text>
<text x="367.1" y="636.9" class="nl" fill="#8958BC">63</text>
<text x="349.8" y="640.9" class="nl" fill="#F7972E">47</text>
<text x="380.0" y="643.5" class="nl" fill="#8357C2">1</text>
<text x="344.0" y="647.9" class="nl" fill="#7F56C6">21</text>
<text x="349.3" y="653.9" class="nl" fill="#F7972E">66</text>
<text x="355.3" y="658.4" class="nl" fill="#F7972E">80</text>
<text x="322.6" y="657.4" class="nl" fill="#D6746A">42</text>
<text x="397.7" y="655.3" class="nl" fill="#EC864C">70</text>
<text x="322.6" y="685.4" class="nl" fill="#FB9D24">15</text>
<text x="416.6" y="679.3" class="nl" fill="#CF6E74">65</text>
</g>
<ellipse cx="36.3" cy="39" rx="8.3" ry="7.1" fill="none" stroke="#FF1010" stroke-width="1.9" pathLength="70" stroke-dasharray="7.3 2.7" stroke-dashoffset="6.2"/>
<ellipse cx="367.3" cy="108.6" rx="8.3" ry="7.1" fill="none" stroke="#FF1010" stroke-width="1.9" pathLength="70" stroke-dasharray="7.3 2.7" stroke-dashoffset="6.2"/>
<ellipse cx="140.9" cy="386.9" rx="8.3" ry="7.1" fill="none" stroke="#FF1010" stroke-width="1.9" pathLength="70" stroke-dasharray="7.3 2.7" stroke-dashoffset="6.2"/>
<ellipse cx="466.2" cy="337.6" rx="8.3" ry="7.1" fill="none" stroke="#FF1010" stroke-width="1.9" pathLength="70" stroke-dasharray="7.3 2.7" stroke-dashoffset="6.2"/>
<ellipse cx="128.8" cy="629.5" rx="8.3" ry="7.1" fill="none" stroke="#FF1010" stroke-width="1.9" pathLength="70" stroke-dasharray="7.3 2.7" stroke-dashoffset="6.2"/>
<ellipse cx="357.6" cy="543" rx="8.3" ry="7.1" fill="none" stroke="#FF1010" stroke-width="1.9" pathLength="70" stroke-dasharray="7.3 2.7" stroke-dashoffset="6.2"/>
<polygon points="107.5,400.6 98.8,416.8 116.0,416.8" fill="none" stroke="#1EB04A" stroke-width="1.9" stroke-dasharray="4.2 2.2" stroke-dashoffset="1"/>
<polygon points="425.4,309.5 417.2,325 432.7,325" fill="none" stroke="#1EB04A" stroke-width="1.9" stroke-dasharray="4.2 2.2" stroke-dashoffset="1"/>
<polygon points="56.7,620.8 47.4,637.9 65.0,637.9" fill="none" stroke="#1EB04A" stroke-width="1.9" stroke-dasharray="4.2 2.2" stroke-dashoffset="1"/>
<polygon points="366.5,624.9 359.2,639.8 375,639.8" fill="none" stroke="#1EB04A" stroke-width="1.9" stroke-dasharray="4.2 2.2" stroke-dashoffset="1"/>
</svg>
</body></html>
